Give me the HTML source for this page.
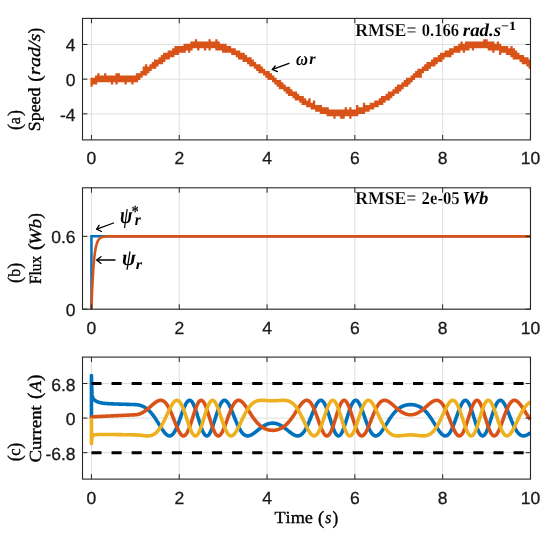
<!DOCTYPE html>
<html><head><meta charset="utf-8"><style>
html,body{margin:0;padding:0;background:#fff;}
svg{display:block;}
.tk{font-family:"Liberation Sans",sans-serif;font-size:17.5px;fill:#1a1a1a;stroke:#1a1a1a;stroke-width:0.3px;}
text{font-kerning:none;text-rendering:geometricPrecision;}
.lb text{stroke:#000;stroke-width:0.35px;}
.th text{stroke:#fff;stroke-width:0.2px;}
.th2 text{stroke:#fff;stroke-width:0.0px;}
</style></head><body>
<svg width="550" height="534" viewBox="0 0 550 534">
<rect width="550" height="534" fill="#fff"/>
<line x1="91.45" y1="18.4" x2="91.45" y2="139.9" stroke="#DFDFDF" stroke-width="1"/>
<line x1="179.25" y1="18.4" x2="179.25" y2="139.9" stroke="#DFDFDF" stroke-width="1"/>
<line x1="267.05" y1="18.4" x2="267.05" y2="139.9" stroke="#DFDFDF" stroke-width="1"/>
<line x1="354.85" y1="18.4" x2="354.85" y2="139.9" stroke="#DFDFDF" stroke-width="1"/>
<line x1="442.65" y1="18.4" x2="442.65" y2="139.9" stroke="#DFDFDF" stroke-width="1"/>
<line x1="530.45" y1="18.4" x2="530.45" y2="139.9" stroke="#DFDFDF" stroke-width="1"/>
<line x1="82.5" y1="113.86" x2="530.5" y2="113.86" stroke="#DFDFDF" stroke-width="1"/>
<line x1="82.5" y1="79.15" x2="530.5" y2="79.15" stroke="#DFDFDF" stroke-width="1"/>
<line x1="82.5" y1="44.44" x2="530.5" y2="44.44" stroke="#DFDFDF" stroke-width="1"/>
<path d="M90.45,77.78H92.72V77.78H94.99V75.51H97.26V73.24H99.53V75.51H101.80V75.51H104.07V73.24H106.34V75.51H108.61V75.51H110.88V75.51H113.15V75.51H115.42V73.24H117.69V73.24H119.96V75.51H122.23V75.51H124.50V75.51H126.77V75.51H129.04V75.51H131.31V75.51H133.58V75.51H135.85V73.24H138.12V73.24H140.39V70.97H142.66V66.43H144.93V64.16H147.20V66.43H149.47V64.16H151.74V61.89H154.01V59.62H156.28V59.62H158.55V57.35H160.82V55.08H163.09V52.81H165.36V52.81H167.63V50.54H169.90V50.54H172.17V48.27H174.44V46.00H176.71V46.00H178.98V46.00H181.25V46.00H183.52V43.73H185.79V43.73H188.06V43.73H190.33V41.46H192.60V41.46H194.87V39.19H197.14V41.46H199.41V41.46H201.68V41.46H203.95V41.46H206.22V41.46H208.49V39.19H210.76V41.46H213.03V41.46H215.30V39.19H217.57V41.46H219.84V43.73H222.11V43.73H224.38V43.73H226.65V46.00H228.92V46.00H231.19V48.27H233.46V48.27H235.73V50.54H238.00V50.54H240.27V52.81H242.54V52.81H244.81V55.08H247.08V57.35H249.35V57.35H251.62V59.62H253.89V61.89H256.16V64.16H258.43V64.16H260.70V66.43H262.97V68.70H265.24V70.97H267.51V70.97H269.78V73.24H272.05V75.51H274.32V77.78H276.59V80.05H278.86V80.05H281.13V82.32H283.40V84.59H285.67V86.86H287.94V86.86H290.21V89.13H292.48V91.40H294.75V91.40H297.02V93.67H299.29V95.94H301.56V95.94H303.83V98.21H306.10V100.48H308.37V98.21H310.64V102.75H312.91V100.48H315.18V105.02H317.45V105.02H319.72V105.02H321.99V107.29H324.26V107.29H326.53V107.29H328.80V109.56H331.07V109.56H333.34V109.56H335.61V109.56H337.88V109.56H340.15V109.56H342.42V109.56H344.69V107.29H346.96V109.56H349.23V107.29H351.50V109.56H353.77V109.56H356.04V105.02H358.31V107.29H360.58V107.29H362.85V102.75H365.12V105.02H367.39V105.02H369.66V102.75H371.93V102.75H374.20V100.48H376.47V100.48H378.74V98.21H381.01V95.94H383.28V95.94H385.55V93.67H387.82V91.40H390.09V91.40H392.36V89.13H394.63V86.86H396.90V84.59H399.17V84.59H401.44V82.32H403.71V80.05H405.98V77.78H408.25V77.78H410.52V75.51H412.79V73.24H415.06V70.97H417.33V68.70H419.60V68.70H421.87V66.43H424.14V64.16H426.41V61.89H428.68V61.89H430.95V59.62H433.22V57.35H435.49V57.35H437.76V55.08H440.03V52.81H442.30V52.81H444.57V50.54H446.84V50.54H449.11V48.27H451.38V48.27H453.65V46.00H455.92V46.00H458.19V43.73H460.46V41.46H462.73V43.73H465.00V41.46H467.27V41.46H469.54V41.46H471.81V41.46H474.08V41.46H476.35V41.46H478.62V41.46H480.89V41.46H483.16V39.19H485.43V39.19H487.70V41.46H489.97V41.46H492.24V41.46H494.51V43.73H496.78V41.46H499.05V43.73H501.32V46.00H503.59V46.00H505.86V46.00H508.13V48.27H510.40V46.00H512.67V48.27H514.94V50.54H517.21V52.81H519.48V55.08H521.75V55.08H524.02V57.35H526.29V57.35H528.56V59.62H530.45V68.70H528.56V66.43H526.29V64.16H524.02V64.16H521.75V61.89H519.48V59.62H517.21V59.62H514.94V59.62H512.67V57.35H510.40V55.08H508.13V55.08H505.86V52.81H503.59V52.81H501.32V55.08H499.05V50.54H496.78V50.54H494.51V52.81H492.24V50.54H489.97V50.54H487.70V48.27H485.43V48.27H483.16V48.27H480.89V48.27H478.62V48.27H476.35V48.27H474.08V50.54H471.81V48.27H469.54V50.54H467.27V50.54H465.00V52.81H462.73V50.54H460.46V52.81H458.19V52.81H455.92V52.81H453.65V55.08H451.38V57.35H449.11V57.35H446.84V57.35H444.57V59.62H442.30V61.89H440.03V61.89H437.76V64.16H435.49V66.43H433.22V66.43H430.95V68.70H428.68V70.97H426.41V70.97H424.14V73.24H421.87V77.78H419.60V77.78H417.33V77.78H415.06V80.05H412.79V82.32H410.52V84.59H408.25V86.86H405.98V86.86H403.71V89.13H401.44V91.40H399.17V93.67H396.90V93.67H394.63V95.94H392.36V98.21H390.09V100.48H387.82V100.48H385.55V102.75H383.28V105.02H381.01V105.02H378.74V107.29H376.47V107.29H374.20V109.56H371.93V109.56H369.66V111.83H367.39V111.83H365.12V114.10H362.85V114.10H360.58V114.10H358.31V116.37H356.04V116.37H353.77V116.37H351.50V118.64H349.23V116.37H346.96V116.37H344.69V118.64H342.42V118.64H340.15V116.37H337.88V116.37H335.61V118.64H333.34V116.37H331.07V116.37H328.80V116.37H326.53V114.10H324.26V114.10H321.99V114.10H319.72V111.83H317.45V111.83H315.18V109.56H312.91V109.56H310.64V107.29H308.37V107.29H306.10V105.02H303.83V105.02H301.56V102.75H299.29V100.48H297.02V100.48H294.75V98.21H292.48V95.94H290.21V95.94H287.94V93.67H285.67V91.40H283.40V89.13H281.13V89.13H278.86V86.86H276.59V84.59H274.32V82.32H272.05V80.05H269.78V80.05H267.51V77.78H265.24V75.51H262.97V73.24H260.70V73.24H258.43V70.97H256.16V68.70H253.89V66.43H251.62V66.43H249.35V64.16H247.08V61.89H244.81V61.89H242.54V59.62H240.27V59.62H238.00V57.35H235.73V55.08H233.46V55.08H231.19V52.81H228.92V52.81H226.65V52.81H224.38V52.81H222.11V50.54H219.84V50.54H217.57V50.54H215.30V48.27H213.03V48.27H210.76V50.54H208.49V48.27H206.22V50.54H203.95V48.27H201.68V48.27H199.41V50.54H197.14V48.27H194.87V48.27H192.60V50.54H190.33V52.81H188.06V50.54H185.79V52.81H183.52V52.81H181.25V52.81H178.98V55.08H176.71V55.08H174.44V57.35H172.17V57.35H169.90V59.62H167.63V59.62H165.36V61.89H163.09V64.16H160.82V64.16H158.55V66.43H156.28V68.70H154.01V68.70H151.74V70.97H149.47V73.24H147.20V75.51H144.93V75.51H142.66V77.78H140.39V80.05H138.12V82.32H135.85V82.32H133.58V84.59H131.31V82.32H129.04V82.32H126.77V84.59H124.50V82.32H122.23V82.32H119.96V82.32H117.69V84.59H115.42V82.32H113.15V84.59H110.88V82.32H108.61V82.32H106.34V82.32H104.07V82.32H101.80V82.32H99.53V82.32H97.26V84.59H94.99V84.59H92.72V86.86H90.45Z" fill="#D95319"/>
<rect x="82.5" y="18.4" width="448.0" height="121.50" fill="none" stroke="#262626" stroke-width="1.1"/>
<line x1="91.45" y1="139.9" x2="91.45" y2="135.0" stroke="#262626" stroke-width="1"/>
<line x1="91.45" y1="18.4" x2="91.45" y2="23.299999999999997" stroke="#262626" stroke-width="1"/>
<line x1="179.25" y1="139.9" x2="179.25" y2="135.0" stroke="#262626" stroke-width="1"/>
<line x1="179.25" y1="18.4" x2="179.25" y2="23.299999999999997" stroke="#262626" stroke-width="1"/>
<line x1="267.05" y1="139.9" x2="267.05" y2="135.0" stroke="#262626" stroke-width="1"/>
<line x1="267.05" y1="18.4" x2="267.05" y2="23.299999999999997" stroke="#262626" stroke-width="1"/>
<line x1="354.85" y1="139.9" x2="354.85" y2="135.0" stroke="#262626" stroke-width="1"/>
<line x1="354.85" y1="18.4" x2="354.85" y2="23.299999999999997" stroke="#262626" stroke-width="1"/>
<line x1="442.65" y1="139.9" x2="442.65" y2="135.0" stroke="#262626" stroke-width="1"/>
<line x1="442.65" y1="18.4" x2="442.65" y2="23.299999999999997" stroke="#262626" stroke-width="1"/>
<line x1="530.45" y1="139.9" x2="530.45" y2="135.0" stroke="#262626" stroke-width="1"/>
<line x1="530.45" y1="18.4" x2="530.45" y2="23.299999999999997" stroke="#262626" stroke-width="1"/>
<line x1="82.5" y1="113.86" x2="87.4" y2="113.86" stroke="#262626" stroke-width="1"/>
<line x1="530.5" y1="113.86" x2="525.6" y2="113.86" stroke="#262626" stroke-width="1"/>
<line x1="82.5" y1="79.15" x2="87.4" y2="79.15" stroke="#262626" stroke-width="1"/>
<line x1="530.5" y1="79.15" x2="525.6" y2="79.15" stroke="#262626" stroke-width="1"/>
<line x1="82.5" y1="44.44" x2="87.4" y2="44.44" stroke="#262626" stroke-width="1"/>
<line x1="530.5" y1="44.44" x2="525.6" y2="44.44" stroke="#262626" stroke-width="1"/>
<text x="91.45" y="164.30" class="tk" text-anchor="middle">0</text>
<text x="179.25" y="164.30" class="tk" text-anchor="middle">2</text>
<text x="267.05" y="164.30" class="tk" text-anchor="middle">4</text>
<text x="354.85" y="164.30" class="tk" text-anchor="middle">6</text>
<text x="442.65" y="164.30" class="tk" text-anchor="middle">8</text>
<text x="530.45" y="164.30" class="tk" text-anchor="middle">10</text>
<text x="75.6" y="120.86" class="tk" text-anchor="end">-4</text>
<text x="75.6" y="86.15" class="tk" text-anchor="end">0</text>
<text x="75.6" y="51.44" class="tk" text-anchor="end">4</text>
<line x1="91.45" y1="187.8" x2="91.45" y2="309.2" stroke="#DFDFDF" stroke-width="1"/>
<line x1="179.25" y1="187.8" x2="179.25" y2="309.2" stroke="#DFDFDF" stroke-width="1"/>
<line x1="267.05" y1="187.8" x2="267.05" y2="309.2" stroke="#DFDFDF" stroke-width="1"/>
<line x1="354.85" y1="187.8" x2="354.85" y2="309.2" stroke="#DFDFDF" stroke-width="1"/>
<line x1="442.65" y1="187.8" x2="442.65" y2="309.2" stroke="#DFDFDF" stroke-width="1"/>
<line x1="530.45" y1="187.8" x2="530.45" y2="309.2" stroke="#DFDFDF" stroke-width="1"/>
<line x1="82.5" y1="309.20" x2="530.5" y2="309.20" stroke="#DFDFDF" stroke-width="1"/>
<line x1="82.5" y1="236.36" x2="530.5" y2="236.36" stroke="#DFDFDF" stroke-width="1"/>
<polyline points="91.45,309.20 91.45,236.36 530.45,236.36" fill="none" stroke="#0072BD" stroke-width="2.5" stroke-linejoin="miter"/>
<polyline points="91.45,309.20 91.58,305.17 91.71,301.37 91.85,297.77 91.98,294.38 92.11,291.17 92.24,288.14 92.38,285.27 92.51,282.57 92.64,280.01 92.77,277.60 92.91,275.32 93.04,273.16 93.17,271.13 93.30,269.21 93.44,267.39 93.57,265.67 93.70,264.05 93.83,262.52 93.96,261.07 94.10,259.71 94.23,258.42 94.36,257.20 94.49,256.04 94.63,254.96 94.76,253.93 94.89,252.96 95.02,252.04 95.16,251.17 95.29,250.35 95.42,249.58 95.55,248.85 95.69,248.16 95.82,247.50 95.95,246.89 96.08,246.31 96.22,245.76 96.35,245.24 96.48,244.75 96.61,244.28 96.74,243.84 96.88,243.43 97.01,243.04 97.14,242.67 97.27,242.32 97.41,241.99 97.54,241.68 97.67,241.39 97.80,241.11 97.94,240.85 98.07,240.60 98.20,240.36 98.33,240.14 98.47,239.93 98.60,239.73 98.73,239.55 98.86,239.37 98.99,239.21 99.13,239.05 99.26,238.90 99.39,238.76 99.52,238.63 99.66,238.50 99.79,238.38 99.92,238.27 100.05,238.16 100.19,238.07 100.32,237.97 100.45,237.88 100.58,237.80 100.72,237.72 100.85,237.64 100.98,237.57 101.11,237.51 101.24,237.44 101.38,237.38 101.51,237.33 101.64,237.27 101.77,237.22 101.91,237.17 102.04,237.13 102.17,237.09 102.30,237.05 102.44,237.01 102.57,236.97 102.70,236.94 102.83,236.91 102.97,236.88 103.10,236.85 103.23,236.82 103.36,236.80 103.49,236.77 103.63,236.75 103.76,236.73 103.89,236.71 104.02,236.69 104.16,236.67 104.29,236.65 104.42,236.64 104.55,236.62 104.69,236.61 104.82,236.59 104.95,236.58 105.08,236.57 105.22,236.56 105.35,236.55 105.48,236.54 105.61,236.53 105.75,236.52 105.88,236.51 106.01,236.50 106.14,236.49 106.27,236.48 106.41,236.48 106.54,236.47 106.67,236.46 106.80,236.46 106.94,236.45 107.07,236.45 107.20,236.44 107.33,236.44 107.47,236.43 107.60,236.43 107.73,236.43 107.86,236.42 108.00,236.42 108.13,236.42 108.26,236.41 108.39,236.41 108.52,236.41 108.66,236.40 108.79,236.40 108.92,236.40 109.05,236.40 109.19,236.40 109.32,236.39 109.45,236.39 109.58,236.39 109.72,236.39 109.85,236.39 109.98,236.39 110.11,236.38 110.25,236.38 110.38,236.38 110.51,236.38 110.64,236.38 110.77,236.38 110.91,236.38 111.04,236.38 111.17,236.38 111.30,236.37 111.44,236.37 111.57,236.37 111.70,236.37 111.83,236.37 111.97,236.37 112.10,236.37 112.23,236.37 112.36,236.37 112.50,236.37 112.63,236.37 112.76,236.37 112.89,236.37 113.02,236.37 113.16,236.37 113.29,236.37 113.42,236.37 113.55,236.37 113.69,236.37 113.82,236.36 113.95,236.36 114.08,236.36 114.22,236.36 114.35,236.36 114.48,236.36 114.61,236.36 114.75,236.36 114.88,236.36 115.01,236.36 115.14,236.36 115.28,236.36 115.41,236.36 115.54,236.36 115.67,236.36 115.80,236.36 115.94,236.36 116.07,236.36 116.20,236.36 116.33,236.36 116.47,236.36 116.60,236.36 116.73,236.36 116.86,236.36 117.00,236.36 117.13,236.36 117.26,236.36 117.39,236.36 117.53,236.36 117.66,236.36 117.79,236.36 117.79,236.36 126.21,236.36 134.63,236.36 143.05,236.36 151.48,236.36 159.90,236.36 168.32,236.36 176.74,236.36 185.16,236.36 193.58,236.36 202.01,236.36 210.43,236.36 218.85,236.36 227.27,236.36 235.69,236.36 244.11,236.36 252.54,236.36 260.96,236.36 269.38,236.36 277.80,236.36 286.22,236.36 294.64,236.36 303.07,236.36 311.49,236.36 319.91,236.36 328.33,236.36 336.75,236.36 345.17,236.36 353.60,236.36 362.02,236.36 370.44,236.36 378.86,236.36 387.28,236.36 395.70,236.36 404.13,236.36 412.55,236.36 420.97,236.36 429.39,236.36 437.81,236.36 446.23,236.36 454.66,236.36 463.08,236.36 471.50,236.36 479.92,236.36 488.34,236.36 496.76,236.36 505.19,236.36 513.61,236.36 522.03,236.36 530.45,236.36" fill="none" stroke="#D95319" stroke-width="2.6"/>
<rect x="82.5" y="187.8" width="448.0" height="121.40" fill="none" stroke="#262626" stroke-width="1.1"/>
<line x1="91.45" y1="309.2" x2="91.45" y2="304.3" stroke="#262626" stroke-width="1"/>
<line x1="91.45" y1="187.8" x2="91.45" y2="192.70000000000002" stroke="#262626" stroke-width="1"/>
<line x1="179.25" y1="309.2" x2="179.25" y2="304.3" stroke="#262626" stroke-width="1"/>
<line x1="179.25" y1="187.8" x2="179.25" y2="192.70000000000002" stroke="#262626" stroke-width="1"/>
<line x1="267.05" y1="309.2" x2="267.05" y2="304.3" stroke="#262626" stroke-width="1"/>
<line x1="267.05" y1="187.8" x2="267.05" y2="192.70000000000002" stroke="#262626" stroke-width="1"/>
<line x1="354.85" y1="309.2" x2="354.85" y2="304.3" stroke="#262626" stroke-width="1"/>
<line x1="354.85" y1="187.8" x2="354.85" y2="192.70000000000002" stroke="#262626" stroke-width="1"/>
<line x1="442.65" y1="309.2" x2="442.65" y2="304.3" stroke="#262626" stroke-width="1"/>
<line x1="442.65" y1="187.8" x2="442.65" y2="192.70000000000002" stroke="#262626" stroke-width="1"/>
<line x1="530.45" y1="309.2" x2="530.45" y2="304.3" stroke="#262626" stroke-width="1"/>
<line x1="530.45" y1="187.8" x2="530.45" y2="192.70000000000002" stroke="#262626" stroke-width="1"/>
<line x1="82.5" y1="309.20" x2="87.4" y2="309.20" stroke="#262626" stroke-width="1"/>
<line x1="530.5" y1="309.20" x2="525.6" y2="309.20" stroke="#262626" stroke-width="1"/>
<line x1="82.5" y1="236.36" x2="87.4" y2="236.36" stroke="#262626" stroke-width="1"/>
<line x1="530.5" y1="236.36" x2="525.6" y2="236.36" stroke="#262626" stroke-width="1"/>
<text x="91.45" y="333.60" class="tk" text-anchor="middle">0</text>
<text x="179.25" y="333.60" class="tk" text-anchor="middle">2</text>
<text x="267.05" y="333.60" class="tk" text-anchor="middle">4</text>
<text x="354.85" y="333.60" class="tk" text-anchor="middle">6</text>
<text x="442.65" y="333.60" class="tk" text-anchor="middle">8</text>
<text x="530.45" y="333.60" class="tk" text-anchor="middle">10</text>
<text x="75.6" y="316.20" class="tk" text-anchor="end">0</text>
<text x="75.6" y="243.36" class="tk" text-anchor="end">0.6</text>
<line x1="91.45" y1="357.1" x2="91.45" y2="479.1" stroke="#DFDFDF" stroke-width="1"/>
<line x1="179.25" y1="357.1" x2="179.25" y2="479.1" stroke="#DFDFDF" stroke-width="1"/>
<line x1="267.05" y1="357.1" x2="267.05" y2="479.1" stroke="#DFDFDF" stroke-width="1"/>
<line x1="354.85" y1="357.1" x2="354.85" y2="479.1" stroke="#DFDFDF" stroke-width="1"/>
<line x1="442.65" y1="357.1" x2="442.65" y2="479.1" stroke="#DFDFDF" stroke-width="1"/>
<line x1="530.45" y1="357.1" x2="530.45" y2="479.1" stroke="#DFDFDF" stroke-width="1"/>
<line x1="82.5" y1="452.67" x2="530.5" y2="452.67" stroke="#DFDFDF" stroke-width="1"/>
<line x1="82.5" y1="418.10" x2="530.5" y2="418.10" stroke="#DFDFDF" stroke-width="1"/>
<line x1="82.5" y1="383.53" x2="530.5" y2="383.53" stroke="#DFDFDF" stroke-width="1"/>
<polyline points="91.45,418.10 91.45,375.46 91.54,380.05 91.63,383.86 91.71,386.86 91.80,389.22 91.89,391.08 92.02,393.18 92.15,394.67 92.33,396.04 92.55,397.14 92.77,397.84 92.99,398.32 93.21,398.69 93.43,398.98 93.54,399.11 93.65,399.24 93.76,399.35 93.87,399.46 93.97,399.57 94.08,399.67 94.19,399.77 94.30,399.86 94.41,399.96 94.52,400.05 94.63,400.13 94.74,400.22 94.85,400.30 94.96,400.38 95.07,400.46 95.18,400.54 95.29,400.61 95.40,400.69 95.51,400.76 95.62,400.83 95.73,400.90 95.84,400.96 95.95,401.03 96.06,401.09 96.17,401.15 96.28,401.21 96.39,401.27 96.50,401.33 96.61,401.39 96.72,401.44 96.83,401.49 96.94,401.55 97.05,401.60 97.16,401.65 97.27,401.70 97.38,401.74 97.49,401.79 97.60,401.84 97.71,401.88 97.82,401.92 97.93,401.97 98.04,402.01 98.15,402.05 98.26,402.09 98.37,402.13 98.48,402.16 98.59,402.20 98.70,402.24 98.81,402.27 98.91,402.31 99.02,402.34 99.13,402.37 99.24,402.41 99.35,402.44 99.46,402.47 99.57,402.50 99.68,402.53 99.79,402.56 99.90,402.58 100.01,402.61 100.12,402.64 100.23,402.67 100.34,402.69 100.45,402.72 100.56,402.74 100.67,402.77 100.78,402.79 100.89,402.81 101.00,402.83 101.11,402.86 101.22,402.88 101.33,402.90 101.44,402.92 101.55,402.94 101.66,402.96 101.77,402.98 101.88,403.00 101.99,403.02 102.10,403.04 102.21,403.05 102.32,403.07 102.43,403.09 102.54,403.11 102.65,403.12 102.76,403.14 102.87,403.15 102.98,403.17 103.09,403.18 103.20,403.20 103.31,403.21 103.42,403.23 103.53,403.24 103.64,403.26 103.75,403.27 103.85,403.28 103.96,403.30 104.07,403.31 104.18,403.32 104.29,403.33 104.40,403.35 104.51,403.36 104.62,403.37 104.73,403.38 104.84,403.39 104.95,403.40 105.06,403.41 105.17,403.42 105.28,403.43 105.39,403.45 105.50,403.46 105.61,403.47 105.72,403.47 105.83,403.48 105.94,403.49 106.05,403.50 106.16,403.51 106.27,403.52 106.38,403.53 106.49,403.54 106.60,403.55 106.71,403.56 106.82,403.56 106.93,403.57 107.04,403.58 107.15,403.59 107.26,403.60 107.37,403.60 107.48,403.61 107.59,403.62 107.70,403.63 107.81,403.63 107.92,403.64 108.03,403.65 108.14,403.65 108.25,403.66 108.36,403.67 108.47,403.67 108.58,403.68 108.69,403.69 108.79,403.69 108.90,403.70 109.01,403.71 109.12,403.71 109.23,403.72 109.34,403.73 109.45,403.73 109.56,403.74 109.67,403.74 109.78,403.75 109.89,403.75 110.00,403.76 110.11,403.77 110.22,403.77 110.33,403.78 110.44,403.78 110.55,403.79 110.66,403.79 110.77,403.80 110.88,403.80 110.99,403.81 111.10,403.81 111.21,403.82 111.32,403.82 111.43,403.83 111.54,403.83 111.65,403.84 111.76,403.84 111.87,403.85 111.98,403.85 112.09,403.86 112.20,403.86 112.31,403.87 112.42,403.87 112.53,403.88 112.64,403.88 112.75,403.88 112.86,403.89 112.97,403.89 113.08,403.90 113.19,403.90 113.30,403.91 113.41,403.91 113.52,403.92 113.63,403.92 113.73,403.92 113.84,403.93 113.95,403.93 114.06,403.94 114.17,403.94 114.28,403.94 114.39,403.95 114.50,403.95 114.61,403.96 114.72,403.96 114.83,403.96 114.94,403.97 115.05,403.97 115.16,403.98 115.27,403.98 115.38,403.98 115.49,403.99 115.60,403.99 115.71,404.00 115.82,404.00 115.93,404.00 116.04,404.01 116.15,404.01 116.26,404.02 116.37,404.02 116.48,404.02 116.59,404.03 116.70,404.03 116.81,404.03 116.92,404.04 117.03,404.04 117.14,404.05 117.25,404.05 117.36,404.05 117.47,404.06 117.58,404.06 117.69,404.06 117.80,404.07 117.91,404.07 118.02,404.07 118.13,404.08 118.24,404.08 118.35,404.09 118.46,404.09 118.57,404.09 118.67,404.10 118.78,404.10 118.89,404.10 119.00,404.11 119.11,404.11 119.22,404.11 119.33,404.12 119.44,404.12 119.55,404.12 119.66,404.13 119.77,404.13 119.88,404.13 119.99,404.14 120.10,404.14 120.21,404.15 120.32,404.15 120.43,404.15 120.54,404.16 120.65,404.16 120.76,404.16 120.87,404.17 120.98,404.17 121.09,404.17 121.20,404.18 121.31,404.18 121.42,404.18 121.53,404.19 121.64,404.19 121.75,404.19 121.86,404.20 121.97,404.20 122.08,404.20 122.19,404.21 122.30,404.21 122.41,404.21 122.52,404.22 122.63,404.22 122.74,404.22 122.85,404.23 122.96,404.23 123.07,404.23 123.18,404.24 123.29,404.24 123.40,404.24 123.51,404.25 123.61,404.25 123.72,404.25 123.83,404.26 123.94,404.26 124.05,404.26 124.16,404.27 124.27,404.27 124.38,404.27 124.49,404.28 124.60,404.28 124.71,404.28 124.82,404.29 124.93,404.29 125.04,404.29 125.15,404.30 125.26,404.30 125.37,404.30 125.48,404.31 125.59,404.31 125.70,404.32 125.81,404.32 125.92,404.32 126.03,404.33 126.14,404.33 126.25,404.33 126.36,404.34 126.47,404.34 126.58,404.34 126.69,404.35 126.80,404.35 126.91,404.35 127.02,404.36 127.13,404.36 127.24,404.36 127.35,404.37 127.46,404.37 127.57,404.37 127.68,404.38 127.79,404.38 127.90,404.38 128.01,404.39 128.12,404.39 128.23,404.39 128.34,404.40 128.44,404.40 128.55,404.40 128.66,404.41 128.77,404.41 128.88,404.41 128.99,404.42 129.10,404.42 129.21,404.42 129.32,404.43 129.43,404.43 129.54,404.43 129.65,404.44 129.76,404.44 129.87,404.44 129.98,404.45 130.09,404.45 130.20,404.45 130.31,404.46 130.42,404.46 130.53,404.46 130.64,404.47 130.75,404.47 130.86,404.47 130.97,404.48 131.08,404.48 131.19,404.48 131.30,404.49 131.41,404.49 131.52,404.49 131.63,404.50 131.74,404.50 131.85,404.50 131.96,404.51 132.07,404.51 132.18,404.51 132.29,404.52 132.40,404.52 132.51,404.52 132.62,404.53 132.73,404.53 132.84,404.53 132.95,404.54 133.06,404.54 133.17,404.54 133.28,404.55 133.38,404.55 133.49,404.55 133.60,404.56 133.71,404.56 133.82,404.56 133.93,404.57 134.04,404.57 134.15,404.57 134.26,404.58 134.37,404.58 134.48,404.58 134.59,404.59 134.70,404.59 134.81,404.59 134.92,404.60 135.03,404.60 135.14,404.60 135.25,404.61 135.36,404.61 135.47,404.62 135.58,404.62 135.69,404.63 135.80,404.63 135.91,404.64 136.02,404.64 136.13,404.65 136.24,404.66 136.35,404.67 136.46,404.68 136.57,404.69 136.68,404.70 136.79,404.71 136.90,404.72 137.01,404.73 137.12,404.74 137.23,404.76 137.34,404.77 137.45,404.79 137.56,404.80 137.67,404.82 137.78,404.83 137.89,404.85 138.00,404.87 138.11,404.89 138.22,404.91 138.32,404.92 138.43,404.95 138.54,404.97 138.65,404.99 138.76,405.01 138.87,405.03 138.98,405.06 139.09,405.08 139.20,405.11 139.31,405.13 139.42,405.16 139.53,405.18 139.64,405.21 139.75,405.24 139.86,405.27 139.97,405.30 140.08,405.33 140.19,405.36 140.30,405.39 140.41,405.42 140.52,405.46 140.63,405.49 140.74,405.53 140.85,405.56 140.96,405.60 141.07,405.63 141.18,405.67 141.29,405.71 141.40,405.75 141.51,405.79 141.62,405.83 141.73,405.87 141.84,405.91 141.95,405.96 142.06,406.00 142.17,406.04 142.28,406.09 142.39,406.14 142.50,406.18 142.61,406.23 142.72,406.28 142.83,406.33 142.94,406.38 143.05,406.43 143.16,406.48 143.26,406.54 143.37,406.59 143.48,406.64 143.59,406.70 143.70,406.75 143.81,406.81 143.92,406.87 144.03,406.93 144.14,406.99 144.25,407.05 144.36,407.11 144.47,407.17 144.58,407.24 144.69,407.30 144.80,407.37 144.91,407.43 145.02,407.50 145.13,407.57 145.24,407.64 145.35,407.71 145.46,407.78 145.57,407.85 145.68,407.92 145.79,408.00 145.90,408.07 146.01,408.15 146.12,408.22 146.23,408.30 146.34,408.38 146.45,408.46 146.56,408.54 146.67,408.62 146.78,408.71 146.89,408.79 147.00,408.88 147.11,408.96 147.22,409.05 147.33,409.14 147.44,409.23 147.55,409.32 147.66,409.41 147.77,409.50 147.88,409.59 147.99,409.69 148.10,409.78 148.20,409.88 148.31,409.98 148.42,410.08 148.53,410.17 148.64,410.28 148.75,410.38 148.86,410.48 148.97,410.58 149.08,410.69 149.19,410.80 149.30,410.90 149.41,411.01 149.52,411.12 149.63,411.23 149.74,411.34 149.85,411.46 149.96,411.57 150.07,411.69 150.18,411.80 150.29,411.92 150.40,412.04 150.51,412.16 150.62,412.28 150.73,412.40 150.84,412.52 150.95,412.65 151.06,412.77 151.17,412.90 151.28,413.03 151.39,413.16 151.50,413.28 151.61,413.42 151.72,413.55 151.83,413.68 151.94,413.81 152.05,413.95 152.16,414.08 152.27,414.22 152.38,414.36 152.49,414.50 152.60,414.64 152.71,414.78 152.82,414.92 152.93,415.07 153.04,415.21 153.14,415.35 153.25,415.50 153.36,415.65 153.47,415.80 153.58,415.95 153.69,416.10 153.80,416.25 153.91,416.40 154.02,416.55 154.13,416.71 154.24,416.86 154.35,417.02 154.46,417.17 154.57,417.33 154.68,417.49 154.79,417.65 154.90,417.81 155.01,417.97 155.12,418.13 155.23,418.30 155.34,418.46 155.45,418.62 155.56,418.79 155.67,418.95 155.78,419.12 155.89,419.29 156.00,419.46 156.11,419.62 156.22,419.79 156.33,419.96 156.44,420.13 156.55,420.30 156.66,420.48 156.77,420.65 156.88,420.82 156.99,421.00 157.10,421.17 157.21,421.34 157.32,421.52 157.43,421.69 157.54,421.87 157.65,422.04 157.76,422.22 157.87,422.40 157.98,422.57 158.08,422.75 158.19,422.93 158.30,423.11 158.41,423.28 158.52,423.46 158.63,423.64 158.74,423.82 158.85,424.00 158.96,424.18 159.07,424.36 159.18,424.53 159.29,424.71 159.40,424.89 159.51,425.07 159.62,425.25 159.73,425.43 159.84,425.60 159.95,425.78 160.06,425.96 160.17,426.14 160.28,426.31 160.39,426.49 160.50,426.67 160.61,426.84 160.72,427.02 160.83,427.19 160.94,427.36 161.05,427.54 161.16,427.71 161.27,427.88 161.38,428.06 161.49,428.23 161.60,428.40 161.71,428.57 161.82,428.73 161.93,428.90 162.04,429.07 162.15,429.23 162.26,429.40 162.37,429.56 162.48,429.73 162.59,429.89 162.70,430.05 162.81,430.21 162.92,430.36 163.02,430.52 163.13,430.68 163.24,430.83 163.35,430.98 163.46,431.13 163.57,431.28 163.68,431.43 163.79,431.58 163.90,431.72 164.01,431.86 164.12,432.00 164.23,432.14 164.34,432.28 164.45,432.42 164.56,432.55 164.67,432.68 164.78,432.81 164.89,432.94 165.00,433.07 165.11,433.19 165.22,433.31 165.33,433.43 165.44,433.55 165.55,433.66 165.66,433.77 165.77,433.88 165.88,433.99 165.99,434.10 166.10,434.20 166.21,434.30 166.32,434.39 166.43,434.49 166.54,434.58 166.65,434.67 166.76,434.76 166.87,434.84 166.98,434.92 167.09,435.00 167.20,435.07 167.31,435.14 167.42,435.21 167.53,435.28 167.64,435.34 167.75,435.40 167.86,435.46 167.96,435.51 168.07,435.56 168.18,435.61 168.29,435.65 168.40,435.69 168.51,435.72 168.62,435.76 168.73,435.79 168.84,435.81 168.95,435.83 169.06,435.85 169.17,435.87 169.28,435.88 169.39,435.89 169.50,435.89 169.61,435.89 169.72,435.89 169.83,435.88 169.94,435.87 170.05,435.85 170.16,435.84 170.27,435.81 170.38,435.79 170.49,435.76 170.60,435.72 170.71,435.68 170.82,435.64 170.93,435.59 171.04,435.54 171.15,435.49 171.26,435.43 171.37,435.37 171.48,435.30 171.59,435.23 171.70,435.16 171.81,435.08 171.92,434.99 172.03,434.91 172.14,434.81 172.25,434.72 172.36,434.62 172.47,434.52 172.58,434.41 172.69,434.30 172.80,434.18 172.90,434.06 173.01,433.94 173.12,433.81 173.23,433.67 173.34,433.54 173.45,433.40 173.56,433.25 173.67,433.10 173.78,432.95 173.89,432.79 174.00,432.63 174.11,432.47 174.22,432.30 174.33,432.13 174.44,431.95 174.55,431.77 174.66,431.58 174.77,431.39 174.88,431.20 174.99,431.01 175.10,430.81 175.21,430.60 175.32,430.40 175.43,430.19 175.54,429.97 175.65,429.75 175.76,429.53 175.87,429.31 175.98,429.08 176.09,428.85 176.20,428.61 176.31,428.37 176.42,428.13 176.53,427.89 176.64,427.64 176.75,427.39 176.86,427.13 176.97,426.88 177.08,426.62 177.19,426.35 177.30,426.09 177.41,425.82 177.52,425.55 177.63,425.27 177.74,425.00 177.84,424.72 177.95,424.44 178.06,424.16 178.17,423.87 178.28,423.58 178.39,423.29 178.50,423.00 178.61,422.71 178.72,422.41 178.83,422.12 178.94,421.82 179.05,421.52 179.16,421.22 179.27,420.91 179.38,420.61 179.49,420.30 179.60,420.00 179.71,419.69 179.82,419.38 179.93,419.07 180.04,418.76 180.15,418.45 180.26,418.14 180.37,417.83 180.48,417.51 180.59,417.20 180.70,416.89 180.81,416.57 180.92,416.26 181.03,415.95 181.14,415.64 181.25,415.32 181.36,415.01 181.47,414.70 181.58,414.39 181.69,414.08 181.80,413.77 181.91,413.46 182.02,413.16 182.13,412.85 182.24,412.55 182.35,412.24 182.46,411.94 182.57,411.64 182.68,411.34 182.78,411.05 182.89,410.75 183.00,410.46 183.11,410.17 183.22,409.88 183.33,409.60 183.44,409.31 183.55,409.03 183.66,408.75 183.77,408.48 183.88,408.21 183.99,407.94 184.10,407.67 184.21,407.41 184.32,407.15 184.43,406.89 184.54,406.64 184.65,406.39 184.76,406.14 184.87,405.90 184.98,405.66 185.09,405.43 185.20,405.20 185.31,404.97 185.42,404.75 185.53,404.54 185.64,404.32 185.75,404.12 185.86,403.91 185.97,403.71 186.08,403.52 186.19,403.33 186.30,403.15 186.41,402.97 186.52,402.80 186.63,402.63 186.74,402.47 186.85,402.31 186.96,402.16 187.07,402.01 187.18,401.87 187.29,401.73 187.40,401.60 187.51,401.48 187.62,401.36 187.72,401.25 187.83,401.15 187.94,401.05 188.05,400.95 188.16,400.86 188.27,400.78 188.38,400.71 188.49,400.64 188.60,400.58 188.71,400.52 188.82,400.47 188.93,400.43 189.04,400.39 189.15,400.36 189.26,400.34 189.37,400.32 189.48,400.31 189.59,400.31 189.70,400.31 189.81,400.32 189.92,400.34 190.03,400.36 190.14,400.39 190.25,400.43 190.36,400.47 190.47,400.52 190.58,400.58 190.69,400.64 190.80,400.71 190.91,400.78 191.02,400.87 191.13,400.96 191.24,401.05 191.35,401.16 191.46,401.27 191.57,401.38 191.68,401.50 191.79,401.63 191.90,401.77 192.01,401.91 192.12,402.06 192.23,402.21 192.34,402.37 192.45,402.54 192.56,402.71 192.66,402.89 192.77,403.08 192.88,403.27 192.99,403.47 193.10,403.67 193.21,403.88 193.32,404.09 193.43,404.31 193.54,404.54 193.65,404.77 193.76,405.00 193.87,405.24 193.98,405.49 194.09,405.74 194.20,406.00 194.31,406.26 194.42,406.53 194.53,406.80 194.64,407.08 194.75,407.36 194.86,407.64 194.97,407.93 195.08,408.22 195.19,408.52 195.30,408.82 195.41,409.13 195.52,409.44 195.63,409.75 195.74,410.07 195.85,410.39 195.96,410.71 196.07,411.03 196.18,411.36 196.29,411.70 196.40,412.03 196.51,412.37 196.62,412.71 196.73,413.05 196.84,413.39 196.95,413.74 197.06,414.09 197.17,414.44 197.28,414.79 197.39,415.14 197.50,415.49 197.60,415.85 197.71,416.21 197.82,416.56 197.93,416.92 198.04,417.28 198.15,417.64 198.26,418.00 198.37,418.36 198.48,418.72 198.59,419.08 198.70,419.43 198.81,419.79 198.92,420.15 199.03,420.51 199.14,420.87 199.25,421.22 199.36,421.57 199.47,421.93 199.58,422.28 199.69,422.63 199.80,422.98 199.91,423.32 200.02,423.67 200.13,424.01 200.24,424.35 200.35,424.68 200.46,425.02 200.57,425.35 200.68,425.68 200.79,426.00 200.90,426.33 201.01,426.64 201.12,426.96 201.23,427.27 201.34,427.58 201.45,427.88 201.56,428.18 201.67,428.48 201.78,428.77 201.89,429.06 202.00,429.34 202.11,429.62 202.22,429.89 202.33,430.16 202.43,430.43 202.54,430.68 202.65,430.94 202.76,431.18 202.87,431.43 202.98,431.66 203.09,431.90 203.20,432.12 203.31,432.34 203.42,432.56 203.53,432.76 203.64,432.97 203.75,433.16 203.86,433.35 203.97,433.54 204.08,433.71 204.19,433.88 204.30,434.05 204.41,434.20 204.52,434.35 204.63,434.50 204.74,434.64 204.85,434.77 204.96,434.89 205.07,435.01 205.18,435.11 205.29,435.22 205.40,435.31 205.51,435.40 205.62,435.48 205.73,435.55 205.84,435.62 205.95,435.68 206.06,435.73 206.17,435.78 206.28,435.81 206.39,435.84 206.50,435.87 206.61,435.88 206.72,435.89 206.83,435.89 206.94,435.88 207.05,435.87 207.16,435.85 207.27,435.82 207.37,435.78 207.48,435.74 207.59,435.69 207.70,435.63 207.81,435.57 207.92,435.50 208.03,435.42 208.14,435.33 208.25,435.24 208.36,435.14 208.47,435.03 208.58,434.92 208.69,434.80 208.80,434.67 208.91,434.53 209.02,434.39 209.13,434.24 209.24,434.09 209.35,433.93 209.46,433.76 209.57,433.59 209.68,433.41 209.79,433.22 209.90,433.03 210.01,432.83 210.12,432.63 210.23,432.42 210.34,432.21 210.45,431.98 210.56,431.76 210.67,431.53 210.78,431.29 210.89,431.05 211.00,430.80 211.11,430.55 211.22,430.29 211.33,430.03 211.44,429.76 211.55,429.49 211.66,429.21 211.77,428.93 211.88,428.65 211.99,428.36 212.10,428.06 212.21,427.77 212.31,427.47 212.42,427.16 212.53,426.86 212.64,426.55 212.75,426.23 212.86,425.92 212.97,425.60 213.08,425.27 213.19,424.95 213.30,424.62 213.41,424.29 213.52,423.96 213.63,423.62 213.74,423.29 213.85,422.95 213.96,422.61 214.07,422.27 214.18,421.92 214.29,421.58 214.40,421.23 214.51,420.89 214.62,420.54 214.73,420.19 214.84,419.84 214.95,419.50 215.06,419.15 215.17,418.80 215.28,418.45 215.39,418.10 215.50,417.75 215.61,417.40 215.72,417.05 215.83,416.70 215.94,416.36 216.05,416.01 216.16,415.67 216.27,415.32 216.38,414.98 216.49,414.64 216.60,414.30 216.71,413.96 216.82,413.63 216.93,413.29 217.04,412.96 217.15,412.63 217.25,412.30 217.36,411.98 217.47,411.65 217.58,411.34 217.69,411.02 217.80,410.70 217.91,410.39 218.02,410.09 218.13,409.78 218.24,409.48 218.35,409.18 218.46,408.89 218.57,408.60 218.68,408.31 218.79,408.03 218.90,407.75 219.01,407.47 219.12,407.20 219.23,406.94 219.34,406.67 219.45,406.42 219.56,406.16 219.67,405.91 219.78,405.67 219.89,405.43 220.00,405.19 220.11,404.96 220.22,404.74 220.33,404.52 220.44,404.31 220.55,404.10 220.66,403.89 220.77,403.69 220.88,403.50 220.99,403.31 221.10,403.13 221.21,402.95 221.32,402.78 221.43,402.61 221.54,402.45 221.65,402.29 221.76,402.14 221.87,402.00 221.98,401.86 222.09,401.73 222.19,401.60 222.30,401.48 222.41,401.37 222.52,401.26 222.63,401.15 222.74,401.06 222.85,400.97 222.96,400.88 223.07,400.80 223.18,400.73 223.29,400.66 223.40,400.60 223.51,400.54 223.62,400.49 223.73,400.45 223.84,400.41 223.95,400.38 224.06,400.35 224.17,400.33 224.28,400.32 224.39,400.31 224.50,400.31 224.61,400.31 224.72,400.32 224.83,400.34 224.94,400.36 225.05,400.38 225.16,400.42 225.27,400.45 225.38,400.50 225.49,400.55 225.60,400.60 225.71,400.66 225.82,400.73 225.93,400.80 226.04,400.87 226.15,400.96 226.26,401.04 226.37,401.13 226.48,401.23 226.59,401.33 226.70,401.44 226.81,401.55 226.92,401.67 227.03,401.79 227.13,401.92 227.24,402.05 227.35,402.19 227.46,402.33 227.57,402.48 227.68,402.63 227.79,402.78 227.90,402.94 228.01,403.11 228.12,403.27 228.23,403.45 228.34,403.62 228.45,403.80 228.56,403.99 228.67,404.18 228.78,404.37 228.89,404.56 229.00,404.76 229.11,404.96 229.22,405.17 229.33,405.38 229.44,405.59 229.55,405.81 229.66,406.03 229.77,406.25 229.88,406.48 229.99,406.70 230.10,406.94 230.21,407.17 230.32,407.41 230.43,407.64 230.54,407.89 230.65,408.13 230.76,408.38 230.87,408.63 230.98,408.88 231.09,409.13 231.20,409.38 231.31,409.64 231.42,409.90 231.53,410.16 231.64,410.42 231.75,410.68 231.86,410.95 231.97,411.22 232.07,411.48 232.18,411.75 232.29,412.02 232.40,412.29 232.51,412.57 232.62,412.84 232.73,413.11 232.84,413.39 232.95,413.66 233.06,413.94 233.17,414.21 233.28,414.49 233.39,414.77 233.50,415.05 233.61,415.32 233.72,415.60 233.83,415.88 233.94,416.16 234.05,416.44 234.16,416.71 234.27,416.99 234.38,417.27 234.49,417.54 234.60,417.82 234.71,418.10 234.82,418.37 234.93,418.65 235.04,418.92 235.15,419.19 235.26,419.46 235.37,419.74 235.48,420.01 235.59,420.27 235.70,420.54 235.81,420.81 235.92,421.08 236.03,421.34 236.14,421.60 236.25,421.86 236.36,422.12 236.47,422.38 236.58,422.64 236.69,422.90 236.80,423.15 236.91,423.40 237.01,423.65 237.12,423.90 237.23,424.15 237.34,424.39 237.45,424.64 237.56,424.88 237.67,425.12 237.78,425.35 237.89,425.59 238.00,425.82 238.11,426.05 238.22,426.28 238.33,426.51 238.44,426.73 238.55,426.95 238.66,427.17 238.77,427.39 238.88,427.60 238.99,427.81 239.10,428.02 239.21,428.23 239.32,428.43 239.43,428.63 239.54,428.83 239.65,429.03 239.76,429.22 239.87,429.41 239.98,429.60 240.09,429.79 240.20,429.97 240.31,430.15 240.42,430.33 240.53,430.50 240.64,430.68 240.75,430.85 240.86,431.01 240.97,431.18 241.08,431.34 241.19,431.49 241.30,431.65 241.41,431.80 241.52,431.95 241.63,432.10 241.74,432.24 241.85,432.38 241.95,432.52 242.06,432.65 242.17,432.79 242.28,432.92 242.39,433.04 242.50,433.17 242.61,433.29 242.72,433.40 242.83,433.52 242.94,433.63 243.05,433.74 243.16,433.85 243.27,433.95 243.38,434.05 243.49,434.15 243.60,434.24 243.71,434.34 243.82,434.43 243.93,434.51 244.04,434.60 244.15,434.68 244.26,434.75 244.37,434.83 244.48,434.90 244.59,434.97 244.70,435.04 244.81,435.10 244.92,435.17 245.03,435.22 245.14,435.28 245.25,435.34 245.36,435.39 245.47,435.43 245.58,435.48 245.69,435.52 245.80,435.57 245.91,435.60 246.02,435.64 246.13,435.67 246.24,435.70 246.35,435.73 246.46,435.76 246.57,435.78 246.68,435.80 246.79,435.82 246.89,435.84 247.00,435.85 247.11,435.87 247.22,435.87 247.33,435.88 247.44,435.89 247.55,435.89 247.66,435.89 247.77,435.89 247.88,435.89 247.99,435.88 248.10,435.87 248.21,435.86 248.32,435.85 248.43,435.84 248.54,435.82 248.65,435.81 248.76,435.79 248.87,435.77 248.98,435.74 249.09,435.72 249.20,435.69 249.31,435.66 249.42,435.63 249.53,435.60 249.64,435.57 249.75,435.53 249.86,435.50 249.97,435.46 250.08,435.42 250.19,435.38 250.30,435.33 250.41,435.29 250.52,435.24 250.63,435.19 250.74,435.14 250.85,435.09 250.96,435.04 251.07,434.99 251.18,434.94 251.29,434.88 251.40,434.82 251.51,434.76 251.62,434.71 251.73,434.64 251.83,434.58 251.94,434.52 252.05,434.46 252.16,434.39 252.27,434.33 252.38,434.26 252.49,434.19 252.60,434.12 252.71,434.05 252.82,433.98 252.93,433.91 253.04,433.84 253.15,433.76 253.26,433.69 253.37,433.61 253.48,433.54 253.59,433.46 253.70,433.39 253.81,433.31 253.92,433.23 254.03,433.15 254.14,433.07 254.25,432.99 254.36,432.91 254.47,432.83 254.58,432.75 254.69,432.66 254.80,432.58 254.91,432.50 255.02,432.41 255.13,432.33 255.24,432.24 255.35,432.16 255.46,432.07 255.57,431.99 255.68,431.90 255.79,431.82 255.90,431.73 256.01,431.64 256.12,431.55 256.23,431.47 256.34,431.38 256.45,431.29 256.56,431.21 256.67,431.12 256.77,431.03 256.88,430.94 256.99,430.85 257.10,430.77 257.21,430.68 257.32,430.59 257.43,430.50 257.54,430.41 257.65,430.32 257.76,430.24 257.87,430.15 257.98,430.06 258.09,429.97 258.20,429.88 258.31,429.80 258.42,429.71 258.53,429.62 258.64,429.54 258.75,429.45 258.86,429.36 258.97,429.28 259.08,429.19 259.19,429.10 259.30,429.02 259.41,428.93 259.52,428.85 259.63,428.76 259.74,428.68 259.85,428.59 259.96,428.51 260.07,428.43 260.18,428.34 260.29,428.26 260.40,428.18 260.51,428.10 260.62,428.01 260.73,427.93 260.84,427.85 260.95,427.77 261.06,427.69 261.17,427.61 261.28,427.53 261.39,427.46 261.50,427.38 261.61,427.30 261.71,427.22 261.82,427.15 261.93,427.07 262.04,427.00 262.15,426.92 262.26,426.85 262.37,426.77 262.48,426.70 262.59,426.63 262.70,426.56 262.81,426.49 262.92,426.42 263.03,426.35 263.14,426.28 263.25,426.21 263.36,426.14 263.47,426.07 263.58,426.00 263.69,425.94 263.80,425.87 263.91,425.81 264.02,425.74 264.13,425.68 264.24,425.62 264.35,425.56 264.46,425.49 264.57,425.43 264.68,425.37 264.79,425.31 264.90,425.26 265.01,425.20 265.12,425.14 265.23,425.09 265.34,425.03 265.45,424.97 265.56,424.92 265.67,424.87 265.78,424.81 265.89,424.76 266.00,424.71 266.11,424.66 266.22,424.61 266.33,424.56 266.44,424.52 266.55,424.47 266.65,424.42 266.76,424.38 266.87,424.33 266.98,424.29 267.09,424.24 267.20,424.20 267.31,424.16 267.42,424.12 267.53,424.08 267.64,424.04 267.75,424.00 267.86,423.96 267.97,423.93 268.08,423.89 268.19,423.86 268.30,423.82 268.41,423.79 268.52,423.76 268.63,423.72 268.74,423.69 268.85,423.66 268.96,423.63 269.07,423.61 269.18,423.58 269.29,423.55 269.40,423.53 269.51,423.50 269.62,423.48 269.73,423.45 269.84,423.43 269.95,423.41 270.06,423.39 270.17,423.37 270.28,423.35 270.39,423.33 270.50,423.31 270.61,423.30 270.72,423.28 270.83,423.27 270.94,423.25 271.05,423.24 271.16,423.23 271.27,423.22 271.38,423.21 271.49,423.20 271.59,423.19 271.70,423.18 271.81,423.17 271.92,423.17 272.03,423.16 272.14,423.16 272.25,423.15 272.36,423.15 272.47,423.15 272.58,423.15 272.69,423.15 272.80,423.15 272.91,423.15 273.02,423.15 273.13,423.16 273.24,423.16 273.35,423.17 273.46,423.17 273.57,423.18 273.68,423.19 273.79,423.20 273.90,423.21 274.01,423.22 274.12,423.23 274.23,423.24 274.34,423.25 274.45,423.27 274.56,423.28 274.67,423.30 274.78,423.31 274.89,423.33 275.00,423.35 275.11,423.37 275.22,423.39 275.33,423.41 275.44,423.43 275.55,423.45 275.66,423.48 275.77,423.50 275.88,423.52 275.99,423.55 276.10,423.58 276.21,423.61 276.32,423.63 276.42,423.66 276.53,423.69 276.64,423.72 276.75,423.76 276.86,423.79 276.97,423.82 277.08,423.86 277.19,423.89 277.30,423.93 277.41,423.96 277.52,424.00 277.63,424.04 277.74,424.08 277.85,424.12 277.96,424.16 278.07,424.20 278.18,424.24 278.29,424.29 278.40,424.33 278.51,424.37 278.62,424.42 278.73,424.47 278.84,424.51 278.95,424.56 279.06,424.61 279.17,424.66 279.28,424.71 279.39,424.76 279.50,424.81 279.61,424.87 279.72,424.92 279.83,424.97 279.94,425.03 280.05,425.08 280.16,425.14 280.27,425.20 280.38,425.25 280.49,425.31 280.60,425.37 280.71,425.43 280.82,425.49 280.93,425.55 281.04,425.62 281.15,425.68 281.26,425.74 281.36,425.81 281.47,425.87 281.58,425.94 281.69,426.00 281.80,426.07 281.91,426.14 282.02,426.21 282.13,426.27 282.24,426.34 282.35,426.41 282.46,426.48 282.57,426.56 282.68,426.63 282.79,426.70 282.90,426.77 283.01,426.85 283.12,426.92 283.23,426.99 283.34,427.07 283.45,427.15 283.56,427.22 283.67,427.30 283.78,427.38 283.89,427.45 284.00,427.53 284.11,427.61 284.22,427.69 284.33,427.77 284.44,427.85 284.55,427.93 284.66,428.01 284.77,428.09 284.88,428.18 284.99,428.26 285.10,428.34 285.21,428.42 285.32,428.51 285.43,428.59 285.54,428.68 285.65,428.76 285.76,428.85 285.87,428.93 285.98,429.02 286.09,429.10 286.20,429.19 286.30,429.27 286.41,429.36 286.52,429.45 286.63,429.53 286.74,429.62 286.85,429.71 286.96,429.80 287.07,429.88 287.18,429.97 287.29,430.06 287.40,430.15 287.51,430.23 287.62,430.32 287.73,430.41 287.84,430.50 287.95,430.59 288.06,430.67 288.17,430.76 288.28,430.85 288.39,430.94 288.50,431.03 288.61,431.12 288.72,431.20 288.83,431.29 288.94,431.38 289.05,431.47 289.16,431.55 289.27,431.64 289.38,431.73 289.49,431.81 289.60,431.90 289.71,431.99 289.82,432.07 289.93,432.16 290.04,432.24 290.15,432.33 290.26,432.41 290.37,432.49 290.48,432.58 290.59,432.66 290.70,432.74 290.81,432.83 290.92,432.91 291.03,432.99 291.14,433.07 291.24,433.15 291.35,433.23 291.46,433.31 291.57,433.38 291.68,433.46 291.79,433.54 291.90,433.61 292.01,433.69 292.12,433.76 292.23,433.84 292.34,433.91 292.45,433.98 292.56,434.05 292.67,434.12 292.78,434.19 292.89,434.26 293.00,434.32 293.11,434.39 293.22,434.45 293.33,434.52 293.44,434.58 293.55,434.64 293.66,434.70 293.77,434.76 293.88,434.82 293.99,434.88 294.10,434.93 294.21,434.99 294.32,435.04 294.43,435.09 294.54,435.14 294.65,435.19 294.76,435.24 294.87,435.29 294.98,435.33 295.09,435.37 295.20,435.42 295.31,435.46 295.42,435.49 295.53,435.53 295.64,435.57 295.75,435.60 295.86,435.63 295.97,435.66 296.08,435.69 296.18,435.72 296.29,435.74 296.40,435.77 296.51,435.79 296.62,435.81 296.73,435.82 296.84,435.84 296.95,435.85 297.06,435.86 297.17,435.87 297.28,435.88 297.39,435.89 297.50,435.89 297.61,435.89 297.72,435.89 297.83,435.89 297.94,435.88 298.05,435.88 298.16,435.87 298.27,435.85 298.38,435.84 298.49,435.82 298.60,435.80 298.71,435.78 298.82,435.76 298.93,435.73 299.04,435.70 299.15,435.67 299.26,435.64 299.37,435.60 299.48,435.57 299.59,435.53 299.70,435.48 299.81,435.44 299.92,435.39 300.03,435.34 300.14,435.28 300.25,435.23 300.36,435.17 300.47,435.11 300.58,435.04 300.69,434.97 300.80,434.90 300.91,434.83 301.02,434.76 301.12,434.68 301.23,434.60 301.34,434.51 301.45,434.43 301.56,434.34 301.67,434.25 301.78,434.15 301.89,434.05 302.00,433.95 302.11,433.85 302.22,433.74 302.33,433.63 302.44,433.52 302.55,433.41 302.66,433.29 302.77,433.17 302.88,433.05 302.99,432.92 303.10,432.79 303.21,432.66 303.32,432.52 303.43,432.39 303.54,432.24 303.65,432.10 303.76,431.95 303.87,431.81 303.98,431.65 304.09,431.50 304.20,431.34 304.31,431.18 304.42,431.02 304.53,430.85 304.64,430.68 304.75,430.51 304.86,430.33 304.97,430.16 305.08,429.98 305.19,429.79 305.30,429.61 305.41,429.42 305.52,429.23 305.63,429.03 305.74,428.84 305.85,428.64 305.96,428.44 306.06,428.23 306.17,428.03 306.28,427.82 306.39,427.61 306.50,427.39 306.61,427.17 306.72,426.96 306.83,426.73 306.94,426.51 307.05,426.28 307.16,426.06 307.27,425.83 307.38,425.59 307.49,425.36 307.60,425.12 307.71,424.88 307.82,424.64 307.93,424.40 308.04,424.15 308.15,423.91 308.26,423.66 308.37,423.41 308.48,423.16 308.59,422.90 308.70,422.65 308.81,422.39 308.92,422.13 309.03,421.87 309.14,421.61 309.25,421.35 309.36,421.08 309.47,420.82 309.58,420.55 309.69,420.28 309.80,420.01 309.91,419.74 310.02,419.47 310.13,419.20 310.24,418.93 310.35,418.65 310.46,418.38 310.57,418.10 310.68,417.83 310.79,417.55 310.90,417.27 311.00,417.00 311.11,416.72 311.22,416.44 311.33,416.16 311.44,415.89 311.55,415.61 311.66,415.33 311.77,415.05 311.88,414.78 311.99,414.50 312.10,414.22 312.21,413.94 312.32,413.67 312.43,413.39 312.54,413.12 312.65,412.84 312.76,412.57 312.87,412.30 312.98,412.03 313.09,411.76 313.20,411.49 313.31,411.22 313.42,410.96 313.53,410.69 313.64,410.43 313.75,410.17 313.86,409.90 313.97,409.65 314.08,409.39 314.19,409.13 314.30,408.88 314.41,408.63 314.52,408.38 314.63,408.14 314.74,407.89 314.85,407.65 314.96,407.41 315.07,407.18 315.18,406.94 315.29,406.71 315.40,406.48 315.51,406.26 315.62,406.03 315.73,405.81 315.84,405.60 315.94,405.39 316.05,405.18 316.16,404.97 316.27,404.77 316.38,404.57 316.49,404.37 316.60,404.18 316.71,403.99 316.82,403.81 316.93,403.63 317.04,403.45 317.15,403.28 317.26,403.11 317.37,402.95 317.48,402.79 317.59,402.63 317.70,402.48 317.81,402.34 317.92,402.19 318.03,402.06 318.14,401.93 318.25,401.80 318.36,401.68 318.47,401.56 318.58,401.44 318.69,401.34 318.80,401.23 318.91,401.14 319.02,401.04 319.13,400.96 319.24,400.88 319.35,400.80 319.46,400.73 319.57,400.66 319.68,400.60 319.79,400.55 319.90,400.50 320.01,400.45 320.12,400.42 320.23,400.38 320.34,400.36 320.45,400.34 320.56,400.32 320.67,400.31 320.78,400.31 320.88,400.31 320.99,400.32 321.10,400.33 321.21,400.35 321.32,400.38 321.43,400.41 321.54,400.45 321.65,400.49 321.76,400.54 321.87,400.60 321.98,400.66 322.09,400.73 322.20,400.80 322.31,400.88 322.42,400.96 322.53,401.05 322.64,401.15 322.75,401.26 322.86,401.36 322.97,401.48 323.08,401.60 323.19,401.73 323.30,401.86 323.41,402.00 323.52,402.14 323.63,402.29 323.74,402.44 323.85,402.61 323.96,402.77 324.07,402.94 324.18,403.12 324.29,403.30 324.40,403.49 324.51,403.69 324.62,403.89 324.73,404.09 324.84,404.30 324.95,404.51 325.06,404.73 325.17,404.96 325.28,405.19 325.39,405.42 325.50,405.66 325.61,405.91 325.72,406.16 325.82,406.41 325.93,406.67 326.04,406.93 326.15,407.20 326.26,407.47 326.37,407.74 326.48,408.02 326.59,408.30 326.70,408.59 326.81,408.88 326.92,409.17 327.03,409.47 327.14,409.77 327.25,410.08 327.36,410.39 327.47,410.70 327.58,411.01 327.69,411.33 327.80,411.65 327.91,411.97 328.02,412.29 328.13,412.62 328.24,412.95 328.35,413.28 328.46,413.62 328.57,413.95 328.68,414.29 328.79,414.63 328.90,414.97 329.01,415.31 329.12,415.66 329.23,416.00 329.34,416.35 329.45,416.70 329.56,417.04 329.67,417.39 329.78,417.74 329.89,418.09 330.00,418.44 330.11,418.79 330.22,419.14 330.33,419.49 330.44,419.84 330.55,420.18 330.66,420.53 330.76,420.88 330.87,421.23 330.98,421.57 331.09,421.92 331.20,422.26 331.31,422.60 331.42,422.94 331.53,423.28 331.64,423.62 331.75,423.95 331.86,424.28 331.97,424.61 332.08,424.94 332.19,425.27 332.30,425.59 332.41,425.91 332.52,426.23 332.63,426.54 332.74,426.85 332.85,427.16 332.96,427.46 333.07,427.76 333.18,428.06 333.29,428.35 333.40,428.64 333.51,428.92 333.62,429.20 333.73,429.48 333.84,429.75 333.95,430.02 334.06,430.28 334.17,430.54 334.28,430.79 334.39,431.04 334.50,431.28 334.61,431.52 334.72,431.75 334.83,431.98 334.94,432.20 335.05,432.42 335.16,432.63 335.27,432.83 335.38,433.03 335.49,433.22 335.60,433.41 335.70,433.59 335.81,433.76 335.92,433.93 336.03,434.09 336.14,434.24 336.25,434.39 336.36,434.53 336.47,434.67 336.58,434.79 336.69,434.91 336.80,435.03 336.91,435.14 337.02,435.24 337.13,435.33 337.24,435.42 337.35,435.49 337.46,435.57 337.57,435.63 337.68,435.69 337.79,435.74 337.90,435.78 338.01,435.82 338.12,435.85 338.23,435.87 338.34,435.88 338.45,435.89 338.56,435.89 338.67,435.88 338.78,435.87 338.89,435.84 339.00,435.82 339.11,435.78 339.22,435.73 339.33,435.68 339.44,435.62 339.55,435.56 339.66,435.48 339.77,435.40 339.88,435.31 339.99,435.22 340.10,435.12 340.21,435.01 340.32,434.89 340.43,434.77 340.54,434.64 340.64,434.50 340.75,434.36 340.86,434.21 340.97,434.05 341.08,433.89 341.19,433.72 341.30,433.54 341.41,433.36 341.52,433.17 341.63,432.97 341.74,432.77 341.85,432.56 341.96,432.35 342.07,432.13 342.18,431.90 342.29,431.67 342.40,431.43 342.51,431.19 342.62,430.94 342.73,430.69 342.84,430.43 342.95,430.17 343.06,429.90 343.17,429.63 343.28,429.35 343.39,429.07 343.50,428.78 343.61,428.49 343.72,428.19 343.83,427.89 343.94,427.59 344.05,427.28 344.16,426.97 344.27,426.65 344.38,426.33 344.49,426.01 344.60,425.69 344.71,425.36 344.82,425.03 344.93,424.69 345.04,424.36 345.15,424.02 345.26,423.67 345.37,423.33 345.48,422.98 345.58,422.64 345.69,422.29 345.80,421.94 345.91,421.58 346.02,421.23 346.13,420.87 346.24,420.52 346.35,420.16 346.46,419.80 346.57,419.44 346.68,419.08 346.79,418.73 346.90,418.37 347.01,418.01 347.12,417.65 347.23,417.29 347.34,416.93 347.45,416.57 347.56,416.21 347.67,415.86 347.78,415.50 347.89,415.15 348.00,414.80 348.11,414.44 348.22,414.09 348.33,413.75 348.44,413.40 348.55,413.06 348.66,412.71 348.77,412.37 348.88,412.04 348.99,411.70 349.10,411.37 349.21,411.04 349.32,410.72 349.43,410.39 349.54,410.07 349.65,409.76 349.76,409.44 349.87,409.14 349.98,408.83 350.09,408.53 350.20,408.23 350.31,407.94 350.41,407.65 350.52,407.36 350.63,407.08 350.74,406.81 350.85,406.54 350.96,406.27 351.07,406.01 351.18,405.75 351.29,405.50 351.40,405.25 351.51,405.01 351.62,404.77 351.73,404.54 351.84,404.32 351.95,404.10 352.06,403.88 352.17,403.67 352.28,403.47 352.39,403.27 352.50,403.08 352.61,402.90 352.72,402.72 352.83,402.54 352.94,402.38 353.05,402.22 353.16,402.06 353.27,401.91 353.38,401.77 353.49,401.64 353.60,401.51 353.71,401.38 353.82,401.27 353.93,401.16 354.04,401.06 354.15,400.96 354.26,400.87 354.37,400.79 354.48,400.71 354.59,400.64 354.70,400.58 354.81,400.52 354.92,400.47 355.03,400.43 355.14,400.39 355.25,400.36 355.35,400.34 355.46,400.32 355.57,400.31 355.68,400.31 355.79,400.31 355.90,400.32 356.01,400.34 356.12,400.36 356.23,400.39 356.34,400.43 356.45,400.47 356.56,400.52 356.67,400.58 356.78,400.64 356.89,400.71 357.00,400.78 357.11,400.86 357.22,400.95 357.33,401.04 357.44,401.14 357.55,401.25 357.66,401.36 357.77,401.48 357.88,401.60 357.99,401.73 358.10,401.87 358.21,402.01 358.32,402.15 358.43,402.30 358.54,402.46 358.65,402.62 358.76,402.79 358.87,402.97 358.98,403.14 359.09,403.33 359.20,403.52 359.31,403.71 359.42,403.91 359.53,404.11 359.64,404.32 359.75,404.53 359.86,404.75 359.97,404.97 360.08,405.19 360.19,405.42 360.29,405.66 360.40,405.90 360.51,406.14 360.62,406.38 360.73,406.63 360.84,406.88 360.95,407.14 361.06,407.40 361.17,407.66 361.28,407.93 361.39,408.20 361.50,408.47 361.61,408.75 361.72,409.02 361.83,409.31 361.94,409.59 362.05,409.87 362.16,410.16 362.27,410.45 362.38,410.74 362.49,411.04 362.60,411.34 362.71,411.63 362.82,411.93 362.93,412.24 363.04,412.54 363.15,412.84 363.26,413.15 363.37,413.46 363.48,413.76 363.59,414.07 363.70,414.38 363.81,414.69 363.92,415.00 364.03,415.32 364.14,415.63 364.25,415.94 364.36,416.25 364.47,416.57 364.58,416.88 364.69,417.19 364.80,417.51 364.91,417.82 365.02,418.13 365.13,418.44 365.23,418.75 365.34,419.06 365.45,419.37 365.56,419.68 365.67,419.99 365.78,420.30 365.89,420.60 366.00,420.91 366.11,421.21 366.22,421.51 366.33,421.81 366.44,422.11 366.55,422.41 366.66,422.70 366.77,423.00 366.88,423.29 366.99,423.58 367.10,423.86 367.21,424.15 367.32,424.43 367.43,424.71 367.54,424.99 367.65,425.27 367.76,425.54 367.87,425.81 367.98,426.08 368.09,426.35 368.20,426.61 368.31,426.87 368.42,427.13 368.53,427.38 368.64,427.63 368.75,427.88 368.86,428.12 368.97,428.37 369.08,428.61 369.19,428.84 369.30,429.07 369.41,429.30 369.52,429.53 369.63,429.75 369.74,429.97 369.85,430.18 369.96,430.39 370.07,430.60 370.17,430.80 370.28,431.00 370.39,431.20 370.50,431.39 370.61,431.58 370.72,431.76 370.83,431.94 370.94,432.12 371.05,432.29 371.16,432.46 371.27,432.63 371.38,432.79 371.49,432.95 371.60,433.10 371.71,433.25 371.82,433.39 371.93,433.53 372.04,433.67 372.15,433.80 372.26,433.93 372.37,434.06 372.48,434.18 372.59,434.29 372.70,434.41 372.81,434.51 372.92,434.62 373.03,434.72 373.14,434.81 373.25,434.90 373.36,434.99 373.47,435.07 373.58,435.15 373.69,435.23 373.80,435.30 373.91,435.37 374.02,435.43 374.13,435.49 374.24,435.54 374.35,435.59 374.46,435.64 374.57,435.68 374.68,435.72 374.79,435.76 374.90,435.79 375.01,435.81 375.11,435.84 375.22,435.85 375.33,435.87 375.44,435.88 375.55,435.89 375.66,435.89 375.77,435.89 375.88,435.89 375.99,435.88 376.10,435.87 376.21,435.85 376.32,435.83 376.43,435.81 376.54,435.79 376.65,435.76 376.76,435.73 376.87,435.69 376.98,435.65 377.09,435.61 377.20,435.56 377.31,435.51 377.42,435.46 377.53,435.40 377.64,435.34 377.75,435.28 377.86,435.21 377.97,435.15 378.08,435.07 378.19,435.00 378.30,434.92 378.41,434.84 378.52,434.76 378.63,434.67 378.74,434.58 378.85,434.49 378.96,434.40 379.07,434.30 379.18,434.20 379.29,434.10 379.40,433.99 379.51,433.89 379.62,433.78 379.73,433.66 379.84,433.55 379.95,433.43 380.05,433.31 380.16,433.19 380.27,433.07 380.38,432.94 380.49,432.82 380.60,432.69 380.71,432.55 380.82,432.42 380.93,432.28 381.04,432.15 381.15,432.01 381.26,431.87 381.37,431.72 381.48,431.58 381.59,431.43 381.70,431.29 381.81,431.14 381.92,430.99 382.03,430.83 382.14,430.68 382.25,430.52 382.36,430.37 382.47,430.21 382.58,430.05 382.69,429.89 382.80,429.73 382.91,429.57 383.02,429.40 383.13,429.24 383.24,429.07 383.35,428.91 383.46,428.74 383.57,428.57 383.68,428.40 383.79,428.23 383.90,428.06 384.01,427.89 384.12,427.72 384.23,427.54 384.34,427.37 384.45,427.19 384.56,427.02 384.67,426.85 384.78,426.67 384.89,426.49 384.99,426.32 385.10,426.14 385.21,425.96 385.32,425.79 385.43,425.61 385.54,425.43 385.65,425.25 385.76,425.07 385.87,424.90 385.98,424.72 386.09,424.54 386.20,424.36 386.31,424.18 386.42,424.00 386.53,423.82 386.64,423.65 386.75,423.47 386.86,423.29 386.97,423.11 387.08,422.93 387.19,422.76 387.30,422.58 387.41,422.40 387.52,422.23 387.63,422.05 387.74,421.87 387.85,421.70 387.96,421.52 388.07,421.35 388.18,421.17 388.29,421.00 388.40,420.83 388.51,420.65 388.62,420.48 388.73,420.31 388.84,420.14 388.95,419.97 389.06,419.80 389.17,419.63 389.28,419.46 389.39,419.29 389.50,419.12 389.61,418.96 389.72,418.79 389.83,418.63 389.93,418.46 390.04,418.30 390.15,418.14 390.26,417.97 390.37,417.81 390.48,417.65 390.59,417.49 390.70,417.34 390.81,417.18 390.92,417.02 391.03,416.87 391.14,416.71 391.25,416.56 391.36,416.40 391.47,416.25 391.58,416.10 391.69,415.95 391.80,415.80 391.91,415.65 392.02,415.50 392.13,415.36 392.24,415.21 392.35,415.07 392.46,414.93 392.57,414.78 392.68,414.64 392.79,414.50 392.90,414.36 393.01,414.22 393.12,414.09 393.23,413.95 393.34,413.82 393.45,413.68 393.56,413.55 393.67,413.42 393.78,413.29 393.89,413.16 394.00,413.03 394.11,412.90 394.22,412.78 394.33,412.65 394.44,412.53 394.55,412.40 394.66,412.28 394.77,412.16 394.87,412.04 394.98,411.92 395.09,411.81 395.20,411.69 395.31,411.57 395.42,411.46 395.53,411.35 395.64,411.24 395.75,411.12 395.86,411.02 395.97,410.91 396.08,410.80 396.19,410.69 396.30,410.59 396.41,410.48 396.52,410.38 396.63,410.28 396.74,410.18 396.85,410.08 396.96,409.98 397.07,409.88 397.18,409.78 397.29,409.69 397.40,409.59 397.51,409.50 397.62,409.41 397.73,409.32 397.84,409.23 397.95,409.14 398.06,409.05 398.17,408.96 398.28,408.88 398.39,408.79 398.50,408.71 398.61,408.63 398.72,408.54 398.83,408.46 398.94,408.38 399.05,408.30 399.16,408.23 399.27,408.15 399.38,408.07 399.49,408.00 399.60,407.92 399.71,407.85 399.81,407.78 399.92,407.71 400.03,407.64 400.14,407.57 400.25,407.50 400.36,407.43 400.47,407.37 400.58,407.30 400.69,407.24 400.80,407.17 400.91,407.11 401.02,407.05 401.13,406.99 401.24,406.93 401.35,406.87 401.46,406.81 401.57,406.76 401.68,406.70 401.79,406.64 401.90,406.59 402.01,406.54 402.12,406.48 402.23,406.43 402.34,406.38 402.45,406.33 402.56,406.28 402.67,406.23 402.78,406.18 402.89,406.14 403.00,406.09 403.11,406.05 403.22,406.00 403.33,405.96 403.44,405.91 403.55,405.87 403.66,405.83 403.77,405.79 403.88,405.75 403.99,405.71 404.10,405.67 404.21,405.64 404.32,405.60 404.43,405.56 404.54,405.53 404.65,405.49 404.75,405.46 404.86,405.42 404.97,405.39 405.08,405.36 405.19,405.33 405.30,405.30 405.41,405.27 405.52,405.24 405.63,405.21 405.74,405.18 405.85,405.16 405.96,405.13 406.07,405.11 406.18,405.08 406.29,405.06 406.40,405.03 406.51,405.01 406.62,404.99 406.73,404.97 406.84,404.95 406.95,404.93 407.06,404.91 407.17,404.89 407.28,404.87 407.39,404.85 407.50,404.83 407.61,404.82 407.72,404.80 407.83,404.79 407.94,404.77 408.05,404.76 408.16,404.74 408.27,404.73 408.38,404.72 408.49,404.71 408.60,404.70 408.71,404.69 408.82,404.68 408.93,404.67 409.04,404.66 409.15,404.65 409.26,404.64 409.37,404.64 409.48,404.63 409.59,404.63 409.69,404.62 409.80,404.62 409.91,404.61 410.02,404.61 410.13,404.61 410.24,404.60 410.35,404.60 410.46,404.60 410.57,404.60 410.68,404.60 410.79,404.60 410.90,404.61 411.01,404.61 411.12,404.61 411.23,404.61 411.34,404.62 411.45,404.62 411.56,404.63 411.67,404.63 411.78,404.64 411.89,404.65 412.00,404.65 412.11,404.66 412.22,404.67 412.33,404.68 412.44,404.69 412.55,404.70 412.66,404.71 412.77,404.72 412.88,404.74 412.99,404.75 413.10,404.76 413.21,404.78 413.32,404.79 413.43,404.81 413.54,404.82 413.65,404.84 413.76,404.86 413.87,404.87 413.98,404.89 414.09,404.91 414.20,404.93 414.31,404.95 414.42,404.97 414.53,405.00 414.63,405.02 414.74,405.04 414.85,405.06 414.96,405.09 415.07,405.11 415.18,405.14 415.29,405.17 415.40,405.19 415.51,405.22 415.62,405.25 415.73,405.28 415.84,405.31 415.95,405.34 416.06,405.37 416.17,405.40 416.28,405.44 416.39,405.47 416.50,405.50 416.61,405.54 416.72,405.57 416.83,405.61 416.94,405.65 417.05,405.69 417.16,405.72 417.27,405.76 417.38,405.80 417.49,405.84 417.60,405.89 417.71,405.93 417.82,405.97 417.93,406.02 418.04,406.06 418.15,406.11 418.26,406.15 418.37,406.20 418.48,406.25 418.59,406.30 418.70,406.35 418.81,406.40 418.92,406.45 419.03,406.50 419.14,406.55 419.25,406.61 419.36,406.66 419.47,406.72 419.57,406.77 419.68,406.83 419.79,406.89 419.90,406.95 420.01,407.01 420.12,407.07 420.23,407.13 420.34,407.20 420.45,407.26 420.56,407.32 420.67,407.39 420.78,407.46 420.89,407.52 421.00,407.59 421.11,407.66 421.22,407.73 421.33,407.80 421.44,407.88 421.55,407.95 421.66,408.02 421.77,408.10 421.88,408.17 421.99,408.25 422.10,408.33 422.21,408.41 422.32,408.49 422.43,408.57 422.54,408.65 422.65,408.74 422.76,408.82 422.87,408.91 422.98,408.99 423.09,409.08 423.20,409.17 423.31,409.26 423.42,409.35 423.53,409.44 423.64,409.53 423.75,409.63 423.86,409.72 423.97,409.82 424.08,409.91 424.19,410.01 424.30,410.11 424.40,410.21 424.51,410.31 424.62,410.41 424.73,410.52 424.84,410.62 424.95,410.73 425.06,410.83 425.17,410.94 425.28,411.05 425.39,411.16 425.50,411.27 425.61,411.38 425.72,411.50 425.83,411.61 425.94,411.73 426.05,411.84 426.16,411.96 426.27,412.08 426.38,412.20 426.49,412.32 426.60,412.44 426.71,412.57 426.82,412.69 426.93,412.82 427.04,412.94 427.15,413.07 427.26,413.20 427.37,413.33 427.48,413.46 427.59,413.59 427.70,413.73 427.81,413.86 427.92,414.00 428.03,414.13 428.14,414.27 428.25,414.41 428.36,414.55 428.47,414.69 428.58,414.83 428.69,414.97 428.80,415.12 428.91,415.26 429.02,415.41 429.13,415.55 429.24,415.70 429.34,415.85 429.45,416.00 429.56,416.15 429.67,416.30 429.78,416.45 429.89,416.61 430.00,416.76 430.11,416.92 430.22,417.07 430.33,417.23 430.44,417.39 430.55,417.55 430.66,417.71 430.77,417.87 430.88,418.03 430.99,418.19 431.10,418.35 431.21,418.52 431.32,418.68 431.43,418.85 431.54,419.01 431.65,419.18 431.76,419.35 431.87,419.52 431.98,419.68 432.09,419.85 432.20,420.02 432.31,420.19 432.42,420.37 432.53,420.54 432.64,420.71 432.75,420.88 432.86,421.06 432.97,421.23 433.08,421.40 433.19,421.58 433.30,421.76 433.41,421.93 433.52,422.11 433.63,422.28 433.74,422.46 433.85,422.64 433.96,422.81 434.07,422.99 434.18,423.17 434.28,423.35 434.39,423.53 434.50,423.70 434.61,423.88 434.72,424.06 434.83,424.24 434.94,424.42 435.05,424.60 435.16,424.78 435.27,424.95 435.38,425.13 435.49,425.31 435.60,425.49 435.71,425.67 435.82,425.84 435.93,426.02 436.04,426.20 436.15,426.38 436.26,426.55 436.37,426.73 436.48,426.90 436.59,427.08 436.70,427.25 436.81,427.43 436.92,427.60 437.03,427.77 437.14,427.94 437.25,428.12 437.36,428.29 437.47,428.46 437.58,428.63 437.69,428.79 437.80,428.96 437.91,429.13 438.02,429.29 438.13,429.46 438.24,429.62 438.35,429.78 438.46,429.94 438.57,430.10 438.68,430.26 438.79,430.42 438.90,430.58 439.01,430.73 439.12,430.88 439.22,431.04 439.33,431.19 439.44,431.33 439.55,431.48 439.66,431.63 439.77,431.77 439.88,431.91 439.99,432.05 440.10,432.19 440.21,432.33 440.32,432.46 440.43,432.60 440.54,432.73 440.65,432.86 440.76,432.98 440.87,433.11 440.98,433.23 441.09,433.35 441.20,433.47 441.31,433.59 441.42,433.70 441.53,433.81 441.64,433.92 441.75,434.03 441.86,434.13 441.97,434.23 442.08,434.33 442.19,434.43 442.30,434.52 442.41,434.61 442.52,434.70 442.63,434.79 442.74,434.87 442.85,434.95 442.96,435.03 443.07,435.10 443.18,435.17 443.29,435.24 443.40,435.30 443.51,435.36 443.62,435.42 443.73,435.48 443.84,435.53 443.95,435.58 444.06,435.62 444.16,435.66 444.27,435.70 444.38,435.74 444.49,435.77 444.60,435.80 444.71,435.82 444.82,435.84 444.93,435.86 445.04,435.87 445.15,435.88 445.26,435.89 445.37,435.89 445.48,435.89 445.59,435.89 445.70,435.88 445.81,435.86 445.92,435.85 446.03,435.83 446.14,435.80 446.25,435.78 446.36,435.74 446.47,435.71 446.58,435.67 446.69,435.62 446.80,435.58 446.91,435.52 447.02,435.47 447.13,435.41 447.24,435.34 447.35,435.28 447.46,435.20 447.57,435.13 447.68,435.05 447.79,434.96 447.90,434.87 448.01,434.78 448.12,434.68 448.23,434.58 448.34,434.48 448.45,434.37 448.56,434.26 448.67,434.14 448.78,434.02 448.89,433.89 449.00,433.76 449.10,433.63 449.21,433.49 449.32,433.35 449.43,433.20 449.54,433.05 449.65,432.90 449.76,432.74 449.87,432.57 449.98,432.41 450.09,432.24 450.20,432.06 450.31,431.89 450.42,431.70 450.53,431.52 450.64,431.33 450.75,431.13 450.86,430.94 450.97,430.74 451.08,430.53 451.19,430.32 451.30,430.11 451.41,429.89 451.52,429.67 451.63,429.45 451.74,429.23 451.85,429.00 451.96,428.76 452.07,428.53 452.18,428.29 452.29,428.04 452.40,427.80 452.51,427.55 452.62,427.30 452.73,427.04 452.84,426.78 452.95,426.52 453.06,426.26 453.17,425.99 453.28,425.72 453.39,425.45 453.50,425.18 453.61,424.90 453.72,424.62 453.83,424.34 453.94,424.06 454.04,423.77 454.15,423.48 454.26,423.19 454.37,422.90 454.48,422.61 454.59,422.31 454.70,422.01 454.81,421.71 454.92,421.41 455.03,421.11 455.14,420.81 455.25,420.50 455.36,420.20 455.47,419.89 455.58,419.58 455.69,419.27 455.80,418.96 455.91,418.65 456.02,418.34 456.13,418.03 456.24,417.72 456.35,417.40 456.46,417.09 456.57,416.78 456.68,416.46 456.79,416.15 456.90,415.84 457.01,415.53 457.12,415.21 457.23,414.90 457.34,414.59 457.45,414.28 457.56,413.97 457.67,413.66 457.78,413.35 457.89,413.05 458.00,412.74 458.11,412.44 458.22,412.14 458.33,411.84 458.44,411.54 458.55,411.24 458.66,410.94 458.77,410.65 458.88,410.36 458.98,410.07 459.09,409.78 459.20,409.49 459.31,409.21 459.42,408.93 459.53,408.66 459.64,408.38 459.75,408.11 459.86,407.84 459.97,407.58 460.08,407.31 460.19,407.06 460.30,406.80 460.41,406.55 460.52,406.30 460.63,406.06 460.74,405.82 460.85,405.58 460.96,405.35 461.07,405.12 461.18,404.90 461.29,404.68 461.40,404.46 461.51,404.25 461.62,404.04 461.73,403.84 461.84,403.65 461.95,403.45 462.06,403.27 462.17,403.08 462.28,402.91 462.39,402.74 462.50,402.57 462.61,402.41 462.72,402.25 462.83,402.10 462.94,401.96 463.05,401.82 463.16,401.69 463.27,401.56 463.38,401.44 463.49,401.32 463.60,401.21 463.71,401.11 463.82,401.01 463.92,400.92 464.03,400.84 464.14,400.76 464.25,400.68 464.36,400.62 464.47,400.56 464.58,400.50 464.69,400.46 464.80,400.42 464.91,400.38 465.02,400.35 465.13,400.33 465.24,400.32 465.35,400.31 465.46,400.31 465.57,400.31 465.68,400.33 465.79,400.34 465.90,400.37 466.01,400.40 466.12,400.44 466.23,400.49 466.34,400.54 466.45,400.60 466.56,400.66 466.67,400.73 466.78,400.81 466.89,400.90 467.00,400.99 467.11,401.09 467.22,401.19 467.33,401.31 467.44,401.42 467.55,401.55 467.66,401.68 467.77,401.82 467.88,401.96 467.99,402.11 468.10,402.27 468.21,402.43 468.32,402.60 468.43,402.78 468.54,402.96 468.65,403.14 468.76,403.34 468.86,403.54 468.97,403.74 469.08,403.95 469.19,404.17 469.30,404.39 469.41,404.62 469.52,404.85 469.63,405.09 469.74,405.33 469.85,405.58 469.96,405.83 470.07,406.09 470.18,406.36 470.29,406.62 470.40,406.90 470.51,407.17 470.62,407.46 470.73,407.74 470.84,408.03 470.95,408.33 471.06,408.63 471.17,408.93 471.28,409.24 471.39,409.55 471.50,409.86 471.61,410.18 471.72,410.50 471.83,410.82 471.94,411.15 472.05,411.48 472.16,411.81 472.27,412.15 472.38,412.49 472.49,412.83 472.60,413.17 472.71,413.51 472.82,413.86 472.93,414.21 473.04,414.56 473.15,414.91 473.26,415.26 473.37,415.62 473.48,415.98 473.59,416.33 473.70,416.69 473.80,417.05 473.91,417.41 474.02,417.77 474.13,418.12 474.24,418.48 474.35,418.84 474.46,419.20 474.57,419.56 474.68,419.92 474.79,420.28 474.90,420.64 475.01,420.99 475.12,421.35 475.23,421.70 475.34,422.05 475.45,422.40 475.56,422.75 475.67,423.10 475.78,423.44 475.89,423.79 476.00,424.13 476.11,424.47 476.22,424.80 476.33,425.14 476.44,425.47 476.55,425.79 476.66,426.12 476.77,426.44 476.88,426.76 476.99,427.07 477.10,427.38 477.21,427.69 477.32,427.99 477.43,428.29 477.54,428.58 477.65,428.87 477.76,429.16 477.87,429.44 477.98,429.72 478.09,429.99 478.20,430.26 478.31,430.52 478.42,430.77 478.53,431.03 478.64,431.27 478.74,431.51 478.85,431.75 478.96,431.98 479.07,432.20 479.18,432.42 479.29,432.63 479.40,432.84 479.51,433.04 479.62,433.23 479.73,433.42 479.84,433.60 479.95,433.77 480.06,433.94 480.17,434.10 480.28,434.26 480.39,434.41 480.50,434.55 480.61,434.68 480.72,434.81 480.83,434.93 480.94,435.04 481.05,435.15 481.16,435.25 481.27,435.34 481.38,435.43 481.49,435.51 481.60,435.58 481.71,435.64 481.82,435.70 481.93,435.75 482.04,435.79 482.15,435.83 482.26,435.85 482.37,435.87 482.48,435.89 482.59,435.89 482.70,435.89 482.81,435.88 482.92,435.86 483.03,435.84 483.14,435.81 483.25,435.77 483.36,435.72 483.47,435.67 483.58,435.61 483.68,435.54 483.79,435.47 483.90,435.39 484.01,435.30 484.12,435.20 484.23,435.10 484.34,434.99 484.45,434.87 484.56,434.75 484.67,434.62 484.78,434.48 484.89,434.34 485.00,434.19 485.11,434.03 485.22,433.87 485.33,433.70 485.44,433.53 485.55,433.34 485.66,433.16 485.77,432.96 485.88,432.76 485.99,432.56 486.10,432.34 486.21,432.13 486.32,431.90 486.43,431.68 486.54,431.44 486.65,431.20 486.76,430.96 486.87,430.71 486.98,430.45 487.09,430.20 487.20,429.93 487.31,429.66 487.42,429.39 487.53,429.11 487.64,428.83 487.75,428.54 487.86,428.25 487.97,427.96 488.08,427.66 488.19,427.36 488.30,427.06 488.41,426.75 488.52,426.44 488.62,426.12 488.73,425.80 488.84,425.48 488.95,425.16 489.06,424.83 489.17,424.50 489.28,424.17 489.39,423.84 489.50,423.50 489.61,423.17 489.72,422.83 489.83,422.49 489.94,422.15 490.05,421.80 490.16,421.46 490.27,421.11 490.38,420.77 490.49,420.42 490.60,420.07 490.71,419.72 490.82,419.37 490.93,419.02 491.04,418.67 491.15,418.32 491.26,417.97 491.37,417.62 491.48,417.28 491.59,416.93 491.70,416.58 491.81,416.23 491.92,415.89 492.03,415.54 492.14,415.20 492.25,414.86 492.36,414.52 492.47,414.18 492.58,413.84 492.69,413.51 492.80,413.17 492.91,412.84 493.02,412.51 493.13,412.19 493.24,411.86 493.35,411.54 493.46,411.22 493.56,410.91 493.67,410.59 493.78,410.28 493.89,409.98 494.00,409.67 494.11,409.37 494.22,409.08 494.33,408.78 494.44,408.49 494.55,408.21 494.66,407.93 494.77,407.65 494.88,407.38 494.99,407.11 495.10,406.84 495.21,406.58 495.32,406.33 495.43,406.07 495.54,405.83 495.65,405.58 495.76,405.35 495.87,405.11 495.98,404.88 496.09,404.66 496.20,404.44 496.31,404.23 496.42,404.02 496.53,403.82 496.64,403.62 496.75,403.43 496.86,403.24 496.97,403.06 497.08,402.89 497.19,402.72 497.30,402.55 497.41,402.39 497.52,402.24 497.63,402.09 497.74,401.95 497.85,401.81 497.96,401.68 498.07,401.56 498.18,401.44 498.29,401.33 498.39,401.22 498.50,401.12 498.61,401.02 498.72,400.93 498.83,400.85 498.94,400.77 499.05,400.70 499.16,400.64 499.27,400.58 499.38,400.52 499.49,400.48 499.60,400.43 499.71,400.40 499.82,400.37 499.93,400.35 500.04,400.33 500.15,400.32 500.26,400.31 500.37,400.31 500.48,400.31 500.59,400.33 500.70,400.34 500.81,400.37 500.92,400.39 501.03,400.43 501.14,400.47 501.25,400.51 501.36,400.56 501.47,400.62 501.58,400.68 501.69,400.75 501.80,400.82 501.91,400.90 502.02,400.99 502.13,401.07 502.24,401.17 502.35,401.27 502.46,401.37 502.57,401.48 502.68,401.60 502.79,401.72 502.90,401.84 503.01,401.97 503.12,402.10 503.23,402.24 503.33,402.38 503.44,402.53 503.55,402.68 503.66,402.84 503.77,403.00 503.88,403.17 503.99,403.34 504.10,403.51 504.21,403.69 504.32,403.87 504.43,404.05 504.54,404.24 504.65,404.44 504.76,404.63 504.87,404.83 504.98,405.04 505.09,405.24 505.20,405.46 505.31,405.67 505.42,405.89 505.53,406.11 505.64,406.33 505.75,406.56 505.86,406.79 505.97,407.02 506.08,407.25 506.19,407.49 506.30,407.73 506.41,407.97 506.52,408.22 506.63,408.46 506.74,408.71 506.85,408.97 506.96,409.22 507.07,409.47 507.18,409.73 507.29,409.99 507.40,410.25 507.51,410.51 507.62,410.78 507.73,411.04 507.84,411.31 507.95,411.58 508.06,411.85 508.17,412.12 508.27,412.39 508.38,412.66 508.49,412.94 508.60,413.21 508.71,413.48 508.82,413.76 508.93,414.04 509.04,414.31 509.15,414.59 509.26,414.87 509.37,415.14 509.48,415.42 509.59,415.70 509.70,415.98 509.81,416.26 509.92,416.53 510.03,416.81 510.14,417.09 510.25,417.37 510.36,417.64 510.47,417.92 510.58,418.19 510.69,418.47 510.80,418.74 510.91,419.02 511.02,419.29 511.13,419.56 511.24,419.83 511.35,420.10 511.46,420.37 511.57,420.64 511.68,420.90 511.79,421.17 511.90,421.43 512.01,421.70 512.12,421.96 512.23,422.22 512.34,422.47 512.45,422.73 512.56,422.99 512.67,423.24 512.78,423.49 512.89,423.74 513.00,423.99 513.11,424.24 513.21,424.48 513.32,424.72 513.43,424.96 513.54,425.20 513.65,425.44 513.76,425.67 513.87,425.90 513.98,426.13 514.09,426.36 514.20,426.58 514.31,426.81 514.42,427.03 514.53,427.25 514.64,427.46 514.75,427.68 514.86,427.89 514.97,428.09 515.08,428.30 515.19,428.50 515.30,428.70 515.41,428.90 515.52,429.10 515.63,429.29 515.74,429.48 515.85,429.67 515.96,429.85 516.07,430.04 516.18,430.21 516.29,430.39 516.40,430.57 516.51,430.74 516.62,430.90 516.73,431.07 516.84,431.23 516.95,431.39 517.06,431.55 517.17,431.70 517.28,431.85 517.39,432.00 517.50,432.15 517.61,432.29 517.72,432.43 517.83,432.57 517.94,432.70 518.05,432.83 518.15,432.96 518.26,433.09 518.37,433.21 518.48,433.33 518.59,433.45 518.70,433.56 518.81,433.67 518.92,433.78 519.03,433.88 519.14,433.99 519.25,434.09 519.36,434.18 519.47,434.28 519.58,434.37 519.69,434.46 519.80,434.54 519.91,434.62 520.02,434.70 520.13,434.78 520.24,434.86 520.35,434.93 520.46,435.00 520.57,435.06 520.68,435.13 520.79,435.19 520.90,435.25 521.01,435.30 521.12,435.35 521.23,435.40 521.34,435.45 521.45,435.50 521.56,435.54 521.67,435.58 521.78,435.62 521.89,435.65 522.00,435.68 522.11,435.71 522.22,435.74 522.33,435.77 522.44,435.79 522.55,435.81 522.66,435.83 522.77,435.84 522.88,435.86 522.99,435.87 523.09,435.88 523.20,435.88 523.31,435.89 523.42,435.89 523.53,435.89 523.64,435.89 523.75,435.89 523.86,435.88 523.97,435.87 524.08,435.86 524.19,435.85 524.30,435.83 524.41,435.82 524.52,435.80 524.63,435.78 524.74,435.76 524.85,435.73 524.96,435.71 525.07,435.68 525.18,435.65 525.29,435.62 525.40,435.59 525.51,435.56 525.62,435.52 525.73,435.48 525.84,435.44 525.95,435.40 526.06,435.36 526.17,435.32 526.28,435.27 526.39,435.22 526.50,435.18 526.61,435.13 526.72,435.08 526.83,435.02 526.94,434.97 527.05,434.92 527.16,434.86 527.27,434.80 527.38,434.74 527.49,434.68 527.60,434.62 527.71,434.56 527.82,434.50 527.93,434.43 528.03,434.37 528.14,434.30 528.25,434.23 528.36,434.17 528.47,434.10 528.58,434.03 528.69,433.96 528.80,433.88 528.91,433.81 529.02,433.74 529.13,433.66 529.24,433.59 529.35,433.51 529.46,433.43 529.57,433.36 529.68,433.28 529.79,433.20 529.90,433.12 530.01,433.04 530.12,432.96 530.23,432.88 530.34,432.80 530.45,432.72" fill="none" stroke="#0072BD" stroke-width="3.6" stroke-linejoin="round"/>
<polyline points="91.45,418.10 91.45,418.37 91.54,418.10 91.63,417.87 91.71,417.68 91.80,417.53 91.89,417.40 92.02,417.25 92.15,417.13 92.33,417.02 92.55,416.93 92.77,416.87 92.99,416.83 93.21,416.80 93.43,416.78 93.54,416.77 93.65,416.77 93.76,416.76 93.87,416.75 93.97,416.74 94.08,416.74 94.19,416.73 94.30,416.73 94.41,416.72 94.52,416.72 94.63,416.71 94.74,416.70 94.85,416.70 94.96,416.69 95.07,416.69 95.18,416.68 95.29,416.68 95.40,416.67 95.51,416.67 95.62,416.66 95.73,416.66 95.84,416.65 95.95,416.65 96.06,416.64 96.17,416.64 96.28,416.63 96.39,416.63 96.50,416.62 96.61,416.62 96.72,416.61 96.83,416.60 96.94,416.60 97.05,416.59 97.16,416.59 97.27,416.58 97.38,416.58 97.49,416.57 97.60,416.57 97.71,416.56 97.82,416.56 97.93,416.55 98.04,416.55 98.15,416.54 98.26,416.54 98.37,416.53 98.48,416.53 98.59,416.52 98.70,416.52 98.81,416.51 98.91,416.51 99.02,416.50 99.13,416.50 99.24,416.49 99.35,416.49 99.46,416.48 99.57,416.48 99.68,416.47 99.79,416.46 99.90,416.46 100.01,416.45 100.12,416.45 100.23,416.44 100.34,416.44 100.45,416.43 100.56,416.43 100.67,416.42 100.78,416.42 100.89,416.41 101.00,416.41 101.11,416.40 101.22,416.40 101.33,416.39 101.44,416.39 101.55,416.38 101.66,416.38 101.77,416.37 101.88,416.37 101.99,416.36 102.10,416.36 102.21,416.35 102.32,416.35 102.43,416.34 102.54,416.34 102.65,416.33 102.76,416.33 102.87,416.32 102.98,416.31 103.09,416.31 103.20,416.30 103.31,416.30 103.42,416.29 103.53,416.29 103.64,416.28 103.75,416.28 103.85,416.27 103.96,416.27 104.07,416.26 104.18,416.26 104.29,416.25 104.40,416.25 104.51,416.24 104.62,416.24 104.73,416.23 104.84,416.23 104.95,416.22 105.06,416.22 105.17,416.21 105.28,416.21 105.39,416.20 105.50,416.20 105.61,416.19 105.72,416.19 105.83,416.18 105.94,416.17 106.05,416.17 106.16,416.16 106.27,416.16 106.38,416.15 106.49,416.15 106.60,416.14 106.71,416.14 106.82,416.13 106.93,416.13 107.04,416.12 107.15,416.12 107.26,416.11 107.37,416.11 107.48,416.10 107.59,416.10 107.70,416.09 107.81,416.09 107.92,416.08 108.03,416.08 108.14,416.07 108.25,416.07 108.36,416.06 108.47,416.06 108.58,416.05 108.69,416.05 108.79,416.04 108.90,416.04 109.01,416.03 109.12,416.03 109.23,416.02 109.34,416.01 109.45,416.01 109.56,416.00 109.67,416.00 109.78,415.99 109.89,415.99 110.00,415.98 110.11,415.98 110.22,415.97 110.33,415.97 110.44,415.96 110.55,415.96 110.66,415.95 110.77,415.95 110.88,415.94 110.99,415.94 111.10,415.93 111.21,415.93 111.32,415.92 111.43,415.92 111.54,415.91 111.65,415.91 111.76,415.90 111.87,415.90 111.98,415.89 112.09,415.89 112.20,415.88 112.31,415.88 112.42,415.87 112.53,415.86 112.64,415.86 112.75,415.85 112.86,415.85 112.97,415.84 113.08,415.84 113.19,415.83 113.30,415.83 113.41,415.82 113.52,415.82 113.63,415.81 113.73,415.81 113.84,415.80 113.95,415.80 114.06,415.79 114.17,415.79 114.28,415.78 114.39,415.78 114.50,415.77 114.61,415.77 114.72,415.76 114.83,415.76 114.94,415.75 115.05,415.75 115.16,415.74 115.27,415.74 115.38,415.73 115.49,415.73 115.60,415.72 115.71,415.72 115.82,415.71 115.93,415.71 116.04,415.70 116.15,415.69 116.26,415.69 116.37,415.68 116.48,415.68 116.59,415.67 116.70,415.67 116.81,415.66 116.92,415.66 117.03,415.65 117.14,415.65 117.25,415.64 117.36,415.64 117.47,415.63 117.58,415.63 117.69,415.62 117.80,415.62 117.91,415.61 118.02,415.61 118.13,415.60 118.24,415.60 118.35,415.59 118.46,415.59 118.57,415.58 118.67,415.58 118.78,415.57 118.89,415.57 119.00,415.56 119.11,415.56 119.22,415.55 119.33,415.55 119.44,415.54 119.55,415.54 119.66,415.53 119.77,415.52 119.88,415.52 119.99,415.51 120.10,415.51 120.21,415.50 120.32,415.50 120.43,415.49 120.54,415.49 120.65,415.48 120.76,415.48 120.87,415.47 120.98,415.47 121.09,415.46 121.20,415.46 121.31,415.45 121.42,415.45 121.53,415.44 121.64,415.44 121.75,415.43 121.86,415.43 121.97,415.42 122.08,415.42 122.19,415.41 122.30,415.41 122.41,415.40 122.52,415.40 122.63,415.39 122.74,415.39 122.85,415.38 122.96,415.38 123.07,415.37 123.18,415.37 123.29,415.36 123.40,415.35 123.51,415.35 123.61,415.34 123.72,415.34 123.83,415.33 123.94,415.33 124.05,415.32 124.16,415.32 124.27,415.31 124.38,415.31 124.49,415.30 124.60,415.30 124.71,415.29 124.82,415.29 124.93,415.28 125.04,415.28 125.15,415.27 125.26,415.27 125.37,415.26 125.48,415.26 125.59,415.25 125.70,415.25 125.81,415.24 125.92,415.24 126.03,415.23 126.14,415.23 126.25,415.22 126.36,415.22 126.47,415.21 126.58,415.21 126.69,415.20 126.80,415.20 126.91,415.19 127.02,415.19 127.13,415.18 127.24,415.18 127.35,415.17 127.46,415.16 127.57,415.16 127.68,415.15 127.79,415.15 127.90,415.14 128.01,415.14 128.12,415.13 128.23,415.13 128.34,415.12 128.44,415.12 128.55,415.11 128.66,415.11 128.77,415.10 128.88,415.10 128.99,415.09 129.10,415.09 129.21,415.08 129.32,415.08 129.43,415.07 129.54,415.07 129.65,415.06 129.76,415.06 129.87,415.05 129.98,415.05 130.09,415.04 130.20,415.04 130.31,415.03 130.42,415.03 130.53,415.02 130.64,415.02 130.75,415.01 130.86,415.01 130.97,415.00 131.08,415.00 131.19,414.99 131.30,414.99 131.41,414.98 131.52,414.98 131.63,414.97 131.74,414.97 131.85,414.96 131.96,414.95 132.07,414.95 132.18,414.94 132.29,414.94 132.40,414.93 132.51,414.93 132.62,414.92 132.73,414.92 132.84,414.91 132.95,414.91 133.06,414.90 133.17,414.90 133.28,414.89 133.38,414.89 133.49,414.88 133.60,414.88 133.71,414.87 133.82,414.87 133.93,414.86 134.04,414.86 134.15,414.85 134.26,414.85 134.37,414.84 134.48,414.84 134.59,414.83 134.70,414.83 134.81,414.82 134.92,414.82 135.03,414.81 135.14,414.81 135.25,414.80 135.36,414.80 135.47,414.79 135.58,414.78 135.69,414.78 135.80,414.77 135.91,414.76 136.02,414.75 136.13,414.74 136.24,414.73 136.35,414.71 136.46,414.70 136.57,414.68 136.68,414.67 136.79,414.65 136.90,414.64 137.01,414.62 137.12,414.60 137.23,414.58 137.34,414.56 137.45,414.54 137.56,414.51 137.67,414.49 137.78,414.47 137.89,414.44 138.00,414.42 138.11,414.39 138.22,414.36 138.32,414.33 138.43,414.30 138.54,414.27 138.65,414.24 138.76,414.21 138.87,414.18 138.98,414.14 139.09,414.11 139.20,414.07 139.31,414.04 139.42,414.00 139.53,413.96 139.64,413.92 139.75,413.88 139.86,413.84 139.97,413.80 140.08,413.76 140.19,413.71 140.30,413.67 140.41,413.63 140.52,413.58 140.63,413.53 140.74,413.49 140.85,413.44 140.96,413.39 141.07,413.34 141.18,413.29 141.29,413.24 141.40,413.18 141.51,413.13 141.62,413.08 141.73,413.02 141.84,412.97 141.95,412.91 142.06,412.85 142.17,412.80 142.28,412.74 142.39,412.68 142.50,412.62 142.61,412.56 142.72,412.49 142.83,412.43 142.94,412.37 143.05,412.30 143.16,412.24 143.26,412.17 143.37,412.11 143.48,412.04 143.59,411.97 143.70,411.90 143.81,411.83 143.92,411.76 144.03,411.69 144.14,411.62 144.25,411.55 144.36,411.48 144.47,411.40 144.58,411.33 144.69,411.25 144.80,411.18 144.91,411.10 145.02,411.03 145.13,410.95 145.24,410.87 145.35,410.79 145.46,410.71 145.57,410.63 145.68,410.55 145.79,410.47 145.90,410.39 146.01,410.30 146.12,410.22 146.23,410.14 146.34,410.05 146.45,409.97 146.56,409.88 146.67,409.80 146.78,409.71 146.89,409.62 147.00,409.54 147.11,409.45 147.22,409.36 147.33,409.27 147.44,409.18 147.55,409.09 147.66,409.00 147.77,408.91 147.88,408.82 147.99,408.73 148.10,408.64 148.20,408.55 148.31,408.45 148.42,408.36 148.53,408.27 148.64,408.17 148.75,408.08 148.86,407.99 148.97,407.89 149.08,407.80 149.19,407.70 149.30,407.61 149.41,407.51 149.52,407.42 149.63,407.32 149.74,407.22 149.85,407.13 149.96,407.03 150.07,406.93 150.18,406.84 150.29,406.74 150.40,406.64 150.51,406.55 150.62,406.45 150.73,406.35 150.84,406.26 150.95,406.16 151.06,406.06 151.17,405.97 151.28,405.87 151.39,405.77 151.50,405.67 151.61,405.58 151.72,405.48 151.83,405.39 151.94,405.29 152.05,405.19 152.16,405.10 152.27,405.00 152.38,404.91 152.49,404.81 152.60,404.72 152.71,404.62 152.82,404.53 152.93,404.44 153.04,404.34 153.14,404.25 153.25,404.16 153.36,404.06 153.47,403.97 153.58,403.88 153.69,403.79 153.80,403.70 153.91,403.61 154.02,403.52 154.13,403.44 154.24,403.35 154.35,403.26 154.46,403.18 154.57,403.09 154.68,403.01 154.79,402.92 154.90,402.84 155.01,402.76 155.12,402.68 155.23,402.60 155.34,402.52 155.45,402.44 155.56,402.36 155.67,402.28 155.78,402.21 155.89,402.13 156.00,402.06 156.11,401.99 156.22,401.92 156.33,401.85 156.44,401.78 156.55,401.71 156.66,401.64 156.77,401.58 156.88,401.51 156.99,401.45 157.10,401.39 157.21,401.33 157.32,401.27 157.43,401.21 157.54,401.16 157.65,401.10 157.76,401.05 157.87,401.00 157.98,400.95 158.08,400.90 158.19,400.86 158.30,400.81 158.41,400.77 158.52,400.73 158.63,400.69 158.74,400.65 158.85,400.61 158.96,400.58 159.07,400.55 159.18,400.52 159.29,400.49 159.40,400.46 159.51,400.44 159.62,400.42 159.73,400.40 159.84,400.38 159.95,400.36 160.06,400.35 160.17,400.34 160.28,400.33 160.39,400.32 160.50,400.31 160.61,400.31 160.72,400.31 160.83,400.31 160.94,400.31 161.05,400.32 161.16,400.33 161.27,400.34 161.38,400.35 161.49,400.37 161.60,400.39 161.71,400.41 161.82,400.43 161.93,400.46 162.04,400.48 162.15,400.51 162.26,400.55 162.37,400.58 162.48,400.62 162.59,400.66 162.70,400.71 162.81,400.76 162.92,400.81 163.02,400.86 163.13,400.91 163.24,400.97 163.35,401.03 163.46,401.09 163.57,401.16 163.68,401.23 163.79,401.30 163.90,401.38 164.01,401.45 164.12,401.53 164.23,401.62 164.34,401.70 164.45,401.79 164.56,401.89 164.67,401.98 164.78,402.08 164.89,402.18 165.00,402.28 165.11,402.39 165.22,402.50 165.33,402.61 165.44,402.73 165.55,402.85 165.66,402.97 165.77,403.10 165.88,403.22 165.99,403.36 166.10,403.49 166.21,403.63 166.32,403.77 166.43,403.91 166.54,404.06 166.65,404.20 166.76,404.36 166.87,404.51 166.98,404.67 167.09,404.83 167.20,404.99 167.31,405.16 167.42,405.33 167.53,405.50 167.64,405.68 167.75,405.85 167.86,406.04 167.96,406.22 168.07,406.41 168.18,406.60 168.29,406.79 168.40,406.98 168.51,407.18 168.62,407.38 168.73,407.58 168.84,407.79 168.95,408.00 169.06,408.21 169.17,408.42 169.28,408.64 169.39,408.86 169.50,409.08 169.61,409.30 169.72,409.53 169.83,409.76 169.94,409.99 170.05,410.22 170.16,410.45 170.27,410.69 170.38,410.93 170.49,411.17 170.60,411.42 170.71,411.66 170.82,411.91 170.93,412.16 171.04,412.41 171.15,412.66 171.26,412.92 171.37,413.18 171.48,413.44 171.59,413.70 171.70,413.96 171.81,414.22 171.92,414.49 172.03,414.75 172.14,415.02 172.25,415.29 172.36,415.56 172.47,415.83 172.58,416.11 172.69,416.38 172.80,416.65 172.90,416.93 173.01,417.21 173.12,417.48 173.23,417.76 173.34,418.04 173.45,418.32 173.56,418.60 173.67,418.88 173.78,419.16 173.89,419.44 174.00,419.72 174.11,420.00 174.22,420.29 174.33,420.57 174.44,420.85 174.55,421.13 174.66,421.41 174.77,421.69 174.88,421.97 174.99,422.25 175.10,422.53 175.21,422.81 175.32,423.09 175.43,423.37 175.54,423.64 175.65,423.92 175.76,424.19 175.87,424.46 175.98,424.74 176.09,425.01 176.20,425.28 176.31,425.54 176.42,425.81 176.53,426.07 176.64,426.34 176.75,426.60 176.86,426.86 176.97,427.12 177.08,427.37 177.19,427.62 177.30,427.87 177.41,428.12 177.52,428.37 177.63,428.61 177.74,428.85 177.84,429.09 177.95,429.33 178.06,429.56 178.17,429.79 178.28,430.02 178.39,430.24 178.50,430.46 178.61,430.68 178.72,430.89 178.83,431.10 178.94,431.31 179.05,431.51 179.16,431.71 179.27,431.91 179.38,432.10 179.49,432.29 179.60,432.47 179.71,432.65 179.82,432.83 179.93,433.00 180.04,433.17 180.15,433.33 180.26,433.49 180.37,433.64 180.48,433.79 180.59,433.94 180.70,434.08 180.81,434.21 180.92,434.34 181.03,434.47 181.14,434.59 181.25,434.71 181.36,434.82 181.47,434.92 181.58,435.02 181.69,435.12 181.80,435.21 181.91,435.29 182.02,435.37 182.13,435.45 182.24,435.51 182.35,435.58 182.46,435.63 182.57,435.69 182.68,435.73 182.78,435.77 182.89,435.81 183.00,435.84 183.11,435.86 183.22,435.87 183.33,435.89 183.44,435.89 183.55,435.89 183.66,435.88 183.77,435.87 183.88,435.85 183.99,435.83 184.10,435.80 184.21,435.76 184.32,435.72 184.43,435.67 184.54,435.62 184.65,435.55 184.76,435.49 184.87,435.42 184.98,435.34 185.09,435.25 185.20,435.16 185.31,435.06 185.42,434.96 185.53,434.85 185.64,434.74 185.75,434.62 185.86,434.49 185.97,434.36 186.08,434.22 186.19,434.08 186.30,433.93 186.41,433.77 186.52,433.61 186.63,433.44 186.74,433.27 186.85,433.09 186.96,432.91 187.07,432.72 187.18,432.53 187.29,432.33 187.40,432.12 187.51,431.91 187.62,431.69 187.72,431.47 187.83,431.25 187.94,431.02 188.05,430.78 188.16,430.54 188.27,430.30 188.38,430.05 188.49,429.79 188.60,429.53 188.71,429.27 188.82,429.00 188.93,428.73 189.04,428.45 189.15,428.17 189.26,427.89 189.37,427.60 189.48,427.31 189.59,427.01 189.70,426.71 189.81,426.41 189.92,426.10 190.03,425.80 190.14,425.48 190.25,425.17 190.36,424.85 190.47,424.53 190.58,424.20 190.69,423.88 190.80,423.55 190.91,423.22 191.02,422.88 191.13,422.55 191.24,422.21 191.35,421.87 191.46,421.53 191.57,421.19 191.68,420.84 191.79,420.50 191.90,420.15 192.01,419.81 192.12,419.46 192.23,419.11 192.34,418.76 192.45,418.41 192.56,418.06 192.66,417.71 192.77,417.36 192.88,417.01 192.99,416.66 193.10,416.31 193.21,415.96 193.32,415.61 193.43,415.26 193.54,414.91 193.65,414.56 193.76,414.22 193.87,413.88 193.98,413.53 194.09,413.19 194.20,412.85 194.31,412.52 194.42,412.18 194.53,411.85 194.64,411.52 194.75,411.19 194.86,410.86 194.97,410.54 195.08,410.22 195.19,409.90 195.30,409.59 195.41,409.28 195.52,408.97 195.63,408.67 195.74,408.37 195.85,408.07 195.96,407.78 196.07,407.49 196.18,407.21 196.29,406.93 196.40,406.65 196.51,406.38 196.62,406.11 196.73,405.85 196.84,405.60 196.95,405.34 197.06,405.10 197.17,404.85 197.28,404.62 197.39,404.39 197.50,404.16 197.60,403.94 197.71,403.73 197.82,403.52 197.93,403.32 198.04,403.12 198.15,402.93 198.26,402.74 198.37,402.57 198.48,402.39 198.59,402.23 198.70,402.07 198.81,401.92 198.92,401.77 199.03,401.63 199.14,401.50 199.25,401.37 199.36,401.25 199.47,401.14 199.58,401.03 199.69,400.94 199.80,400.84 199.91,400.76 200.02,400.68 200.13,400.61 200.24,400.55 200.35,400.49 200.46,400.45 200.57,400.40 200.68,400.37 200.79,400.34 200.90,400.32 201.01,400.31 201.12,400.31 201.23,400.31 201.34,400.32 201.45,400.34 201.56,400.36 201.67,400.40 201.78,400.44 201.89,400.48 202.00,400.54 202.11,400.60 202.22,400.67 202.33,400.74 202.43,400.83 202.54,400.92 202.65,401.01 202.76,401.12 202.87,401.23 202.98,401.35 203.09,401.47 203.20,401.61 203.31,401.74 203.42,401.89 203.53,402.04 203.64,402.20 203.75,402.37 203.86,402.54 203.97,402.72 204.08,402.90 204.19,403.10 204.30,403.29 204.41,403.50 204.52,403.71 204.63,403.92 204.74,404.14 204.85,404.37 204.96,404.61 205.07,404.84 205.18,405.09 205.29,405.34 205.40,405.59 205.51,405.85 205.62,406.12 205.73,406.39 205.84,406.66 205.95,406.94 206.06,407.23 206.17,407.51 206.28,407.81 206.39,408.10 206.50,408.40 206.61,408.71 206.72,409.02 206.83,409.33 206.94,409.65 207.05,409.97 207.16,410.29 207.27,410.62 207.37,410.94 207.48,411.28 207.59,411.61 207.70,411.95 207.81,412.29 207.92,412.63 208.03,412.97 208.14,413.32 208.25,413.67 208.36,414.02 208.47,414.37 208.58,414.72 208.69,415.08 208.80,415.43 208.91,415.79 209.02,416.14 209.13,416.50 209.24,416.86 209.35,417.22 209.46,417.58 209.57,417.94 209.68,418.29 209.79,418.65 209.90,419.01 210.01,419.37 210.12,419.73 210.23,420.08 210.34,420.44 210.45,420.79 210.56,421.15 210.67,421.50 210.78,421.85 210.89,422.20 211.00,422.54 211.11,422.89 211.22,423.23 211.33,423.57 211.44,423.91 211.55,424.25 211.66,424.58 211.77,424.91 211.88,425.24 211.99,425.56 212.10,425.88 212.21,426.20 212.31,426.52 212.42,426.83 212.53,427.13 212.64,427.44 212.75,427.74 212.86,428.03 212.97,428.33 213.08,428.61 213.19,428.90 213.30,429.18 213.41,429.45 213.52,429.72 213.63,429.98 213.74,430.24 213.85,430.50 213.96,430.75 214.07,431.00 214.18,431.24 214.29,431.47 214.40,431.70 214.51,431.92 214.62,432.14 214.73,432.35 214.84,432.56 214.95,432.76 215.06,432.96 215.17,433.15 215.28,433.33 215.39,433.51 215.50,433.68 215.61,433.85 215.72,434.01 215.83,434.16 215.94,434.31 216.05,434.45 216.16,434.58 216.27,434.71 216.38,434.83 216.49,434.94 216.60,435.05 216.71,435.15 216.82,435.25 216.93,435.34 217.04,435.42 217.15,435.50 217.25,435.57 217.36,435.63 217.47,435.68 217.58,435.73 217.69,435.78 217.80,435.81 217.91,435.84 218.02,435.86 218.13,435.88 218.24,435.89 218.35,435.89 218.46,435.89 218.57,435.88 218.68,435.86 218.79,435.84 218.90,435.81 219.01,435.77 219.12,435.73 219.23,435.68 219.34,435.62 219.45,435.56 219.56,435.49 219.67,435.42 219.78,435.34 219.89,435.25 220.00,435.16 220.11,435.06 220.22,434.96 220.33,434.84 220.44,434.73 220.55,434.61 220.66,434.48 220.77,434.34 220.88,434.20 220.99,434.06 221.10,433.91 221.21,433.75 221.32,433.59 221.43,433.42 221.54,433.25 221.65,433.08 221.76,432.89 221.87,432.71 221.98,432.52 222.09,432.32 222.19,432.12 222.30,431.91 222.41,431.70 222.52,431.49 222.63,431.27 222.74,431.04 222.85,430.82 222.96,430.59 223.07,430.35 223.18,430.11 223.29,429.87 223.40,429.62 223.51,429.37 223.62,429.12 223.73,428.86 223.84,428.60 223.95,428.33 224.06,428.07 224.17,427.80 224.28,427.53 224.39,427.25 224.50,426.97 224.61,426.69 224.72,426.41 224.83,426.12 224.94,425.84 225.05,425.55 225.16,425.25 225.27,424.96 225.38,424.67 225.49,424.37 225.60,424.07 225.71,423.77 225.82,423.47 225.93,423.16 226.04,422.86 226.15,422.56 226.26,422.25 226.37,421.94 226.48,421.63 226.59,421.33 226.70,421.02 226.81,420.71 226.92,420.40 227.03,420.09 227.13,419.78 227.24,419.47 227.35,419.16 227.46,418.85 227.57,418.54 227.68,418.23 227.79,417.92 227.90,417.61 228.01,417.30 228.12,416.99 228.23,416.69 228.34,416.38 228.45,416.08 228.56,415.77 228.67,415.47 228.78,415.17 228.89,414.87 229.00,414.57 229.11,414.28 229.22,413.98 229.33,413.69 229.44,413.39 229.55,413.10 229.66,412.82 229.77,412.53 229.88,412.25 229.99,411.97 230.10,411.69 230.21,411.41 230.32,411.13 230.43,410.86 230.54,410.59 230.65,410.32 230.76,410.06 230.87,409.80 230.98,409.54 231.09,409.28 231.20,409.03 231.31,408.78 231.42,408.53 231.53,408.28 231.64,408.04 231.75,407.80 231.86,407.57 231.97,407.33 232.07,407.11 232.18,406.88 232.29,406.66 232.40,406.44 232.51,406.22 232.62,406.01 232.73,405.80 232.84,405.60 232.95,405.40 233.06,405.20 233.17,405.01 233.28,404.82 233.39,404.63 233.50,404.45 233.61,404.27 233.72,404.09 233.83,403.92 233.94,403.76 234.05,403.59 234.16,403.43 234.27,403.28 234.38,403.13 234.49,402.98 234.60,402.83 234.71,402.69 234.82,402.56 234.93,402.43 235.04,402.30 235.15,402.18 235.26,402.06 235.37,401.94 235.48,401.83 235.59,401.72 235.70,401.62 235.81,401.52 235.92,401.42 236.03,401.33 236.14,401.24 236.25,401.16 236.36,401.08 236.47,401.00 236.58,400.93 236.69,400.86 236.80,400.80 236.91,400.74 237.01,400.69 237.12,400.63 237.23,400.59 237.34,400.54 237.45,400.50 237.56,400.47 237.67,400.43 237.78,400.40 237.89,400.38 238.00,400.36 238.11,400.34 238.22,400.33 238.33,400.32 238.44,400.31 238.55,400.31 238.66,400.31 238.77,400.31 238.88,400.32 238.99,400.33 239.10,400.35 239.21,400.37 239.32,400.39 239.43,400.42 239.54,400.44 239.65,400.48 239.76,400.51 239.87,400.55 239.98,400.59 240.09,400.64 240.20,400.69 240.31,400.74 240.42,400.79 240.53,400.85 240.64,400.91 240.75,400.98 240.86,401.04 240.97,401.11 241.08,401.19 241.19,401.26 241.30,401.34 241.41,401.42 241.52,401.50 241.63,401.59 241.74,401.68 241.85,401.77 241.95,401.86 242.06,401.96 242.17,402.06 242.28,402.16 242.39,402.27 242.50,402.37 242.61,402.48 242.72,402.59 242.83,402.70 242.94,402.82 243.05,402.94 243.16,403.06 243.27,403.18 243.38,403.30 243.49,403.42 243.60,403.55 243.71,403.68 243.82,403.81 243.93,403.94 244.04,404.08 244.15,404.21 244.26,404.35 244.37,404.49 244.48,404.63 244.59,404.78 244.70,404.92 244.81,405.06 244.92,405.21 245.03,405.36 245.14,405.51 245.25,405.66 245.36,405.81 245.47,405.96 245.58,406.12 245.69,406.27 245.80,406.43 245.91,406.59 246.02,406.75 246.13,406.91 246.24,407.07 246.35,407.23 246.46,407.39 246.57,407.55 246.68,407.72 246.79,407.88 246.89,408.04 247.00,408.21 247.11,408.38 247.22,408.54 247.33,408.71 247.44,408.88 247.55,409.05 247.66,409.22 247.77,409.39 247.88,409.55 247.99,409.72 248.10,409.89 248.21,410.07 248.32,410.24 248.43,410.41 248.54,410.58 248.65,410.75 248.76,410.92 248.87,411.09 248.98,411.26 249.09,411.44 249.20,411.61 249.31,411.78 249.42,411.95 249.53,412.12 249.64,412.29 249.75,412.46 249.86,412.64 249.97,412.81 250.08,412.98 250.19,413.15 250.30,413.32 250.41,413.49 250.52,413.66 250.63,413.83 250.74,413.99 250.85,414.16 250.96,414.33 251.07,414.50 251.18,414.67 251.29,414.83 251.40,415.00 251.51,415.16 251.62,415.33 251.73,415.49 251.83,415.66 251.94,415.82 252.05,415.98 252.16,416.15 252.27,416.31 252.38,416.47 252.49,416.63 252.60,416.79 252.71,416.95 252.82,417.11 252.93,417.26 253.04,417.42 253.15,417.58 253.26,417.73 253.37,417.89 253.48,418.04 253.59,418.19 253.70,418.34 253.81,418.49 253.92,418.64 254.03,418.79 254.14,418.94 254.25,419.09 254.36,419.24 254.47,419.38 254.58,419.53 254.69,419.67 254.80,419.81 254.91,419.96 255.02,420.10 255.13,420.24 255.24,420.38 255.35,420.51 255.46,420.65 255.57,420.79 255.68,420.92 255.79,421.06 255.90,421.19 256.01,421.32 256.12,421.45 256.23,421.58 256.34,421.71 256.45,421.84 256.56,421.97 256.67,422.09 256.77,422.22 256.88,422.34 256.99,422.47 257.10,422.59 257.21,422.71 257.32,422.83 257.43,422.95 257.54,423.07 257.65,423.18 257.76,423.30 257.87,423.41 257.98,423.53 258.09,423.64 258.20,423.75 258.31,423.86 258.42,423.97 258.53,424.08 258.64,424.19 258.75,424.29 258.86,424.40 258.97,424.50 259.08,424.60 259.19,424.71 259.30,424.81 259.41,424.91 259.52,425.01 259.63,425.10 259.74,425.20 259.85,425.30 259.96,425.39 260.07,425.48 260.18,425.58 260.29,425.67 260.40,425.76 260.51,425.85 260.62,425.94 260.73,426.02 260.84,426.11 260.95,426.20 261.06,426.28 261.17,426.36 261.28,426.45 261.39,426.53 261.50,426.61 261.61,426.69 261.71,426.77 261.82,426.84 261.93,426.92 262.04,426.99 262.15,427.07 262.26,427.14 262.37,427.22 262.48,427.29 262.59,427.36 262.70,427.43 262.81,427.50 262.92,427.56 263.03,427.63 263.14,427.70 263.25,427.76 263.36,427.83 263.47,427.89 263.58,427.95 263.69,428.01 263.80,428.07 263.91,428.13 264.02,428.19 264.13,428.25 264.24,428.31 264.35,428.36 264.46,428.42 264.57,428.47 264.68,428.52 264.79,428.58 264.90,428.63 265.01,428.68 265.12,428.73 265.23,428.78 265.34,428.83 265.45,428.87 265.56,428.92 265.67,428.97 265.78,429.01 265.89,429.06 266.00,429.10 266.11,429.14 266.22,429.18 266.33,429.22 266.44,429.26 266.55,429.30 266.65,429.34 266.76,429.38 266.87,429.42 266.98,429.45 267.09,429.49 267.20,429.52 267.31,429.56 267.42,429.59 267.53,429.62 267.64,429.65 267.75,429.68 267.86,429.72 267.97,429.74 268.08,429.77 268.19,429.80 268.30,429.83 268.41,429.85 268.52,429.88 268.63,429.91 268.74,429.93 268.85,429.95 268.96,429.98 269.07,430.00 269.18,430.02 269.29,430.04 269.40,430.06 269.51,430.08 269.62,430.10 269.73,430.12 269.84,430.13 269.95,430.15 270.06,430.17 270.17,430.18 270.28,430.20 270.39,430.21 270.50,430.22 270.61,430.24 270.72,430.25 270.83,430.26 270.94,430.27 271.05,430.28 271.16,430.29 271.27,430.30 271.38,430.31 271.49,430.31 271.59,430.32 271.70,430.33 271.81,430.33 271.92,430.34 272.03,430.34 272.14,430.34 272.25,430.35 272.36,430.35 272.47,430.35 272.58,430.35 272.69,430.35 272.80,430.35 272.91,430.35 273.02,430.35 273.13,430.34 273.24,430.34 273.35,430.34 273.46,430.33 273.57,430.33 273.68,430.32 273.79,430.31 273.90,430.31 274.01,430.30 274.12,430.29 274.23,430.28 274.34,430.27 274.45,430.26 274.56,430.25 274.67,430.24 274.78,430.22 274.89,430.21 275.00,430.20 275.11,430.18 275.22,430.17 275.33,430.15 275.44,430.14 275.55,430.12 275.66,430.10 275.77,430.08 275.88,430.06 275.99,430.04 276.10,430.02 276.21,430.00 276.32,429.98 276.42,429.95 276.53,429.93 276.64,429.91 276.75,429.88 276.86,429.86 276.97,429.83 277.08,429.80 277.19,429.77 277.30,429.75 277.41,429.72 277.52,429.69 277.63,429.65 277.74,429.62 277.85,429.59 277.96,429.56 278.07,429.52 278.18,429.49 278.29,429.45 278.40,429.42 278.51,429.38 278.62,429.34 278.73,429.30 278.84,429.26 278.95,429.22 279.06,429.18 279.17,429.14 279.28,429.10 279.39,429.06 279.50,429.01 279.61,428.97 279.72,428.92 279.83,428.88 279.94,428.83 280.05,428.78 280.16,428.73 280.27,428.68 280.38,428.63 280.49,428.58 280.60,428.53 280.71,428.47 280.82,428.42 280.93,428.36 281.04,428.31 281.15,428.25 281.26,428.19 281.36,428.13 281.47,428.07 281.58,428.01 281.69,427.95 281.80,427.89 281.91,427.83 282.02,427.76 282.13,427.70 282.24,427.63 282.35,427.57 282.46,427.50 282.57,427.43 282.68,427.36 282.79,427.29 282.90,427.22 283.01,427.14 283.12,427.07 283.23,427.00 283.34,426.92 283.45,426.84 283.56,426.77 283.67,426.69 283.78,426.61 283.89,426.53 284.00,426.45 284.11,426.37 284.22,426.28 284.33,426.20 284.44,426.11 284.55,426.03 284.66,425.94 284.77,425.85 284.88,425.76 284.99,425.67 285.10,425.58 285.21,425.49 285.32,425.39 285.43,425.30 285.54,425.20 285.65,425.11 285.76,425.01 285.87,424.91 285.98,424.81 286.09,424.71 286.20,424.61 286.30,424.50 286.41,424.40 286.52,424.29 286.63,424.19 286.74,424.08 286.85,423.97 286.96,423.86 287.07,423.75 287.18,423.64 287.29,423.53 287.40,423.42 287.51,423.30 287.62,423.19 287.73,423.07 287.84,422.95 287.95,422.83 288.06,422.71 288.17,422.59 288.28,422.47 288.39,422.35 288.50,422.22 288.61,422.10 288.72,421.97 288.83,421.84 288.94,421.72 289.05,421.59 289.16,421.46 289.27,421.33 289.38,421.19 289.49,421.06 289.60,420.93 289.71,420.79 289.82,420.65 289.93,420.52 290.04,420.38 290.15,420.24 290.26,420.10 290.37,419.96 290.48,419.82 290.59,419.67 290.70,419.53 290.81,419.39 290.92,419.24 291.03,419.09 291.14,418.95 291.24,418.80 291.35,418.65 291.46,418.50 291.57,418.35 291.68,418.19 291.79,418.04 291.90,417.89 292.01,417.73 292.12,417.58 292.23,417.42 292.34,417.27 292.45,417.11 292.56,416.95 292.67,416.79 292.78,416.63 292.89,416.47 293.00,416.31 293.11,416.15 293.22,415.99 293.33,415.83 293.44,415.66 293.55,415.50 293.66,415.33 293.77,415.17 293.88,415.00 293.99,414.84 294.10,414.67 294.21,414.50 294.32,414.34 294.43,414.17 294.54,414.00 294.65,413.83 294.76,413.66 294.87,413.49 294.98,413.32 295.09,413.15 295.20,412.98 295.31,412.81 295.42,412.64 295.53,412.47 295.64,412.30 295.75,412.13 295.86,411.95 295.97,411.78 296.08,411.61 296.18,411.44 296.29,411.27 296.40,411.10 296.51,410.93 296.62,410.75 296.73,410.58 296.84,410.41 296.95,410.24 297.06,410.07 297.17,409.90 297.28,409.73 297.39,409.56 297.50,409.39 297.61,409.22 297.72,409.05 297.83,408.88 297.94,408.71 298.05,408.55 298.16,408.38 298.27,408.21 298.38,408.05 298.49,407.88 298.60,407.72 298.71,407.56 298.82,407.39 298.93,407.23 299.04,407.07 299.15,406.91 299.26,406.75 299.37,406.59 299.48,406.43 299.59,406.28 299.70,406.12 299.81,405.97 299.92,405.81 300.03,405.66 300.14,405.51 300.25,405.36 300.36,405.21 300.47,405.07 300.58,404.92 300.69,404.78 300.80,404.64 300.91,404.50 301.02,404.36 301.12,404.22 301.23,404.08 301.34,403.95 301.45,403.82 301.56,403.68 301.67,403.56 301.78,403.43 301.89,403.30 302.00,403.18 302.11,403.06 302.22,402.94 302.33,402.82 302.44,402.71 302.55,402.59 302.66,402.48 302.77,402.37 302.88,402.27 302.99,402.16 303.10,402.06 303.21,401.96 303.32,401.87 303.43,401.77 303.54,401.68 303.65,401.59 303.76,401.51 303.87,401.42 303.98,401.34 304.09,401.26 304.20,401.19 304.31,401.11 304.42,401.05 304.53,400.98 304.64,400.91 304.75,400.85 304.86,400.80 304.97,400.74 305.08,400.69 305.19,400.64 305.30,400.59 305.41,400.55 305.52,400.51 305.63,400.48 305.74,400.45 305.85,400.42 305.96,400.39 306.06,400.37 306.17,400.35 306.28,400.33 306.39,400.32 306.50,400.31 306.61,400.31 306.72,400.31 306.83,400.31 306.94,400.32 307.05,400.33 307.16,400.34 307.27,400.36 307.38,400.38 307.49,400.40 307.60,400.43 307.71,400.46 307.82,400.50 307.93,400.54 308.04,400.58 308.15,400.63 308.26,400.68 308.37,400.74 308.48,400.80 308.59,400.86 308.70,400.93 308.81,401.00 308.92,401.08 309.03,401.16 309.14,401.24 309.25,401.33 309.36,401.42 309.47,401.51 309.58,401.61 309.69,401.72 309.80,401.83 309.91,401.94 310.02,402.05 310.13,402.17 310.24,402.30 310.35,402.42 310.46,402.56 310.57,402.69 310.68,402.83 310.79,402.97 310.90,403.12 311.00,403.27 311.11,403.43 311.22,403.59 311.33,403.75 311.44,403.92 311.55,404.09 311.66,404.26 311.77,404.44 311.88,404.63 311.99,404.81 312.10,405.00 312.21,405.20 312.32,405.39 312.43,405.59 312.54,405.80 312.65,406.01 312.76,406.22 312.87,406.43 312.98,406.65 313.09,406.87 313.20,407.10 313.31,407.33 313.42,407.56 313.53,407.80 313.64,408.03 313.75,408.28 313.86,408.52 313.97,408.77 314.08,409.02 314.19,409.27 314.30,409.53 314.41,409.79 314.52,410.05 314.63,410.32 314.74,410.58 314.85,410.85 314.96,411.13 315.07,411.40 315.18,411.68 315.29,411.96 315.40,412.24 315.51,412.52 315.62,412.81 315.73,413.10 315.84,413.39 315.94,413.68 316.05,413.97 316.16,414.27 316.27,414.56 316.38,414.86 316.49,415.16 316.60,415.46 316.71,415.77 316.82,416.07 316.93,416.37 317.04,416.68 317.15,416.99 317.26,417.29 317.37,417.60 317.48,417.91 317.59,418.22 317.70,418.53 317.81,418.84 317.92,419.15 318.03,419.46 318.14,419.77 318.25,420.08 318.36,420.39 318.47,420.70 318.58,421.01 318.69,421.32 318.80,421.63 318.91,421.93 319.02,422.24 319.13,422.55 319.24,422.85 319.35,423.16 319.46,423.46 319.57,423.76 319.68,424.06 319.79,424.36 319.90,424.66 320.01,424.95 320.12,425.25 320.23,425.54 320.34,425.83 320.45,426.12 320.56,426.40 320.67,426.69 320.78,426.97 320.88,427.24 320.99,427.52 321.10,427.79 321.21,428.06 321.32,428.33 321.43,428.59 321.54,428.85 321.65,429.11 321.76,429.36 321.87,429.61 321.98,429.86 322.09,430.10 322.20,430.34 322.31,430.58 322.42,430.81 322.53,431.04 322.64,431.26 322.75,431.48 322.86,431.70 322.97,431.91 323.08,432.11 323.19,432.31 323.30,432.51 323.41,432.70 323.52,432.89 323.63,433.07 323.74,433.25 323.85,433.42 323.96,433.59 324.07,433.75 324.18,433.90 324.29,434.06 324.40,434.20 324.51,434.34 324.62,434.47 324.73,434.60 324.84,434.73 324.95,434.84 325.06,434.95 325.17,435.06 325.28,435.16 325.39,435.25 325.50,435.34 325.61,435.42 325.72,435.49 325.82,435.56 325.93,435.62 326.04,435.68 326.15,435.73 326.26,435.77 326.37,435.81 326.48,435.84 326.59,435.86 326.70,435.88 326.81,435.89 326.92,435.89 327.03,435.89 327.14,435.88 327.25,435.86 327.36,435.84 327.47,435.81 327.58,435.78 327.69,435.73 327.80,435.69 327.91,435.63 328.02,435.57 328.13,435.50 328.24,435.42 328.35,435.34 328.46,435.25 328.57,435.16 328.68,435.06 328.79,434.95 328.90,434.83 329.01,434.71 329.12,434.58 329.23,434.45 329.34,434.31 329.45,434.16 329.56,434.01 329.67,433.85 329.78,433.68 329.89,433.51 330.00,433.34 330.11,433.15 330.22,432.96 330.33,432.77 330.44,432.57 330.55,432.36 330.66,432.15 330.76,431.93 330.87,431.70 330.98,431.48 331.09,431.24 331.20,431.00 331.31,430.76 331.42,430.51 331.53,430.25 331.64,429.99 331.75,429.73 331.86,429.46 331.97,429.18 332.08,428.90 332.19,428.62 332.30,428.33 332.41,428.04 332.52,427.74 332.63,427.45 332.74,427.14 332.85,426.83 332.96,426.52 333.07,426.21 333.18,425.89 333.29,425.57 333.40,425.24 333.51,424.92 333.62,424.59 333.73,424.25 333.84,423.92 333.95,423.58 334.06,423.24 334.17,422.90 334.28,422.55 334.39,422.21 334.50,421.86 334.61,421.51 334.72,421.15 334.83,420.80 334.94,420.45 335.05,420.09 335.16,419.74 335.27,419.38 335.38,419.02 335.49,418.66 335.60,418.30 335.70,417.94 335.81,417.59 335.92,417.23 336.03,416.87 336.14,416.51 336.25,416.15 336.36,415.80 336.47,415.44 336.58,415.08 336.69,414.73 336.80,414.38 336.91,414.03 337.02,413.68 337.13,413.33 337.24,412.98 337.35,412.64 337.46,412.30 337.57,411.96 337.68,411.62 337.79,411.28 337.90,410.95 338.01,410.62 338.12,410.30 338.23,409.97 338.34,409.66 338.45,409.34 338.56,409.03 338.67,408.72 338.78,408.41 338.89,408.11 339.00,407.81 339.11,407.52 339.22,407.23 339.33,406.95 339.44,406.67 339.55,406.39 339.66,406.12 339.77,405.86 339.88,405.60 339.99,405.34 340.10,405.09 340.21,404.85 340.32,404.61 340.43,404.38 340.54,404.15 340.64,403.93 340.75,403.71 340.86,403.50 340.97,403.30 341.08,403.10 341.19,402.91 341.30,402.72 341.41,402.54 341.52,402.37 341.63,402.21 341.74,402.05 341.85,401.89 341.96,401.75 342.07,401.61 342.18,401.48 342.29,401.35 342.40,401.23 342.51,401.12 342.62,401.02 342.73,400.92 342.84,400.83 342.95,400.74 343.06,400.67 343.17,400.60 343.28,400.54 343.39,400.48 343.50,400.44 343.61,400.40 343.72,400.36 343.83,400.34 343.94,400.32 344.05,400.31 344.16,400.31 344.27,400.31 344.38,400.32 344.49,400.34 344.60,400.37 344.71,400.40 344.82,400.44 344.93,400.49 345.04,400.55 345.15,400.61 345.26,400.68 345.37,400.76 345.48,400.84 345.58,400.93 345.69,401.03 345.80,401.14 345.91,401.25 346.02,401.37 346.13,401.49 346.24,401.63 346.35,401.77 346.46,401.91 346.57,402.06 346.68,402.22 346.79,402.39 346.90,402.56 347.01,402.74 347.12,402.92 347.23,403.11 347.34,403.31 347.45,403.51 347.56,403.72 347.67,403.94 347.78,404.16 347.89,404.38 348.00,404.61 348.11,404.85 348.22,405.09 348.33,405.34 348.44,405.59 348.55,405.85 348.66,406.11 348.77,406.37 348.88,406.65 348.99,406.92 349.10,407.20 349.21,407.48 349.32,407.77 349.43,408.07 349.54,408.36 349.65,408.66 349.76,408.97 349.87,409.27 349.98,409.58 350.09,409.90 350.20,410.21 350.31,410.53 350.41,410.86 350.52,411.18 350.63,411.51 350.74,411.84 350.85,412.17 350.96,412.51 351.07,412.85 351.18,413.18 351.29,413.53 351.40,413.87 351.51,414.21 351.62,414.56 351.73,414.90 351.84,415.25 351.95,415.60 352.06,415.95 352.17,416.30 352.28,416.65 352.39,417.00 352.50,417.35 352.61,417.70 352.72,418.05 352.83,418.40 352.94,418.75 353.05,419.10 353.16,419.45 353.27,419.80 353.38,420.14 353.49,420.49 353.60,420.84 353.71,421.18 353.82,421.52 353.93,421.86 354.04,422.20 354.15,422.54 354.26,422.88 354.37,423.21 354.48,423.54 354.59,423.87 354.70,424.20 354.81,424.52 354.92,424.84 355.03,425.16 355.14,425.48 355.25,425.79 355.35,426.10 355.46,426.40 355.57,426.71 355.68,427.01 355.79,427.30 355.90,427.59 356.01,427.88 356.12,428.17 356.23,428.45 356.34,428.72 356.45,428.99 356.56,429.26 356.67,429.53 356.78,429.79 356.89,430.04 357.00,430.29 357.11,430.54 357.22,430.78 357.33,431.01 357.44,431.24 357.55,431.47 357.66,431.69 357.77,431.91 357.88,432.12 357.99,432.32 358.10,432.52 358.21,432.72 358.32,432.90 358.43,433.09 358.54,433.27 358.65,433.44 358.76,433.61 358.87,433.77 358.98,433.92 359.09,434.07 359.20,434.22 359.31,434.36 359.42,434.49 359.53,434.61 359.64,434.74 359.75,434.85 359.86,434.96 359.97,435.06 360.08,435.16 360.19,435.25 360.29,435.33 360.40,435.41 360.51,435.49 360.62,435.55 360.73,435.61 360.84,435.67 360.95,435.72 361.06,435.76 361.17,435.80 361.28,435.83 361.39,435.85 361.50,435.87 361.61,435.88 361.72,435.89 361.83,435.89 361.94,435.89 362.05,435.88 362.16,435.86 362.27,435.84 362.38,435.81 362.49,435.77 362.60,435.73 362.71,435.69 362.82,435.64 362.93,435.58 363.04,435.52 363.15,435.45 363.26,435.37 363.37,435.30 363.48,435.21 363.59,435.12 363.70,435.03 363.81,434.93 363.92,434.82 364.03,434.71 364.14,434.59 364.25,434.47 364.36,434.35 364.47,434.22 364.58,434.08 364.69,433.94 364.80,433.80 364.91,433.65 365.02,433.49 365.13,433.33 365.23,433.17 365.34,433.00 365.45,432.83 365.56,432.66 365.67,432.48 365.78,432.29 365.89,432.10 366.00,431.91 366.11,431.72 366.22,431.52 366.33,431.31 366.44,431.11 366.55,430.90 366.66,430.68 366.77,430.47 366.88,430.24 366.99,430.02 367.10,429.79 367.21,429.57 367.32,429.33 367.43,429.10 367.54,428.86 367.65,428.62 367.76,428.37 367.87,428.13 367.98,427.88 368.09,427.63 368.20,427.38 368.31,427.12 368.42,426.86 368.53,426.61 368.64,426.34 368.75,426.08 368.86,425.82 368.97,425.55 369.08,425.28 369.19,425.01 369.30,424.74 369.41,424.47 369.52,424.20 369.63,423.92 369.74,423.65 369.85,423.37 369.96,423.09 370.07,422.82 370.17,422.54 370.28,422.26 370.39,421.98 370.50,421.70 370.61,421.42 370.72,421.14 370.83,420.86 370.94,420.57 371.05,420.29 371.16,420.01 371.27,419.73 371.38,419.45 371.49,419.17 371.60,418.89 371.71,418.61 371.82,418.33 371.93,418.05 372.04,417.77 372.15,417.49 372.26,417.21 372.37,416.94 372.48,416.66 372.59,416.39 372.70,416.11 372.81,415.84 372.92,415.57 373.03,415.30 373.14,415.03 373.25,414.76 373.36,414.49 373.47,414.23 373.58,413.96 373.69,413.70 373.80,413.44 373.91,413.18 374.02,412.93 374.13,412.67 374.24,412.42 374.35,412.17 374.46,411.92 374.57,411.67 374.68,411.42 374.79,411.18 374.90,410.94 375.01,410.70 375.11,410.46 375.22,410.22 375.33,409.99 375.44,409.76 375.55,409.53 375.66,409.31 375.77,409.08 375.88,408.86 375.99,408.64 376.10,408.43 376.21,408.21 376.32,408.00 376.43,407.79 376.54,407.59 376.65,407.39 376.76,407.19 376.87,406.99 376.98,406.79 377.09,406.60 377.20,406.41 377.31,406.22 377.42,406.04 377.53,405.86 377.64,405.68 377.75,405.51 377.86,405.33 377.97,405.16 378.08,405.00 378.19,404.83 378.30,404.67 378.41,404.51 378.52,404.36 378.63,404.21 378.74,404.06 378.85,403.91 378.96,403.77 379.07,403.63 379.18,403.49 379.29,403.36 379.40,403.23 379.51,403.10 379.62,402.97 379.73,402.85 379.84,402.73 379.95,402.62 380.05,402.50 380.16,402.39 380.27,402.29 380.38,402.18 380.49,402.08 380.60,401.98 380.71,401.89 380.82,401.80 380.93,401.71 381.04,401.62 381.15,401.54 381.26,401.46 381.37,401.38 381.48,401.30 381.59,401.23 381.70,401.16 381.81,401.10 381.92,401.03 382.03,400.97 382.14,400.91 382.25,400.86 382.36,400.81 382.47,400.76 382.58,400.71 382.69,400.67 382.80,400.62 382.91,400.59 383.02,400.55 383.13,400.52 383.24,400.48 383.35,400.46 383.46,400.43 383.57,400.41 383.68,400.39 383.79,400.37 383.90,400.35 384.01,400.34 384.12,400.33 384.23,400.32 384.34,400.31 384.45,400.31 384.56,400.31 384.67,400.31 384.78,400.31 384.89,400.32 384.99,400.33 385.10,400.33 385.21,400.35 385.32,400.36 385.43,400.38 385.54,400.40 385.65,400.42 385.76,400.44 385.87,400.46 385.98,400.49 386.09,400.52 386.20,400.55 386.31,400.58 386.42,400.61 386.53,400.65 386.64,400.69 386.75,400.73 386.86,400.77 386.97,400.81 387.08,400.85 387.19,400.90 387.30,400.95 387.41,401.00 387.52,401.05 387.63,401.10 387.74,401.16 387.85,401.21 387.96,401.27 388.07,401.33 388.18,401.39 388.29,401.45 388.40,401.51 388.51,401.57 388.62,401.64 388.73,401.71 388.84,401.77 388.95,401.84 389.06,401.91 389.17,401.98 389.28,402.06 389.39,402.13 389.50,402.21 389.61,402.28 389.72,402.36 389.83,402.44 389.93,402.51 390.04,402.59 390.15,402.67 390.26,402.75 390.37,402.84 390.48,402.92 390.59,403.00 390.70,403.09 390.81,403.17 390.92,403.26 391.03,403.35 391.14,403.43 391.25,403.52 391.36,403.61 391.47,403.70 391.58,403.79 391.69,403.88 391.80,403.97 391.91,404.06 392.02,404.15 392.13,404.25 392.24,404.34 392.35,404.43 392.46,404.53 392.57,404.62 392.68,404.71 392.79,404.81 392.90,404.90 393.01,405.00 393.12,405.10 393.23,405.19 393.34,405.29 393.45,405.38 393.56,405.48 393.67,405.58 393.78,405.67 393.89,405.77 394.00,405.87 394.11,405.96 394.22,406.06 394.33,406.16 394.44,406.25 394.55,406.35 394.66,406.45 394.77,406.54 394.87,406.64 394.98,406.74 395.09,406.84 395.20,406.93 395.31,407.03 395.42,407.12 395.53,407.22 395.64,407.32 395.75,407.41 395.86,407.51 395.97,407.60 396.08,407.70 396.19,407.79 396.30,407.89 396.41,407.98 396.52,408.08 396.63,408.17 396.74,408.27 396.85,408.36 396.96,408.45 397.07,408.54 397.18,408.64 397.29,408.73 397.40,408.82 397.51,408.91 397.62,409.00 397.73,409.09 397.84,409.18 397.95,409.27 398.06,409.36 398.17,409.45 398.28,409.54 398.39,409.62 398.50,409.71 398.61,409.80 398.72,409.88 398.83,409.97 398.94,410.05 399.05,410.14 399.16,410.22 399.27,410.30 399.38,410.39 399.49,410.47 399.60,410.55 399.71,410.63 399.81,410.71 399.92,410.79 400.03,410.87 400.14,410.95 400.25,411.02 400.36,411.10 400.47,411.18 400.58,411.25 400.69,411.33 400.80,411.40 400.91,411.48 401.02,411.55 401.13,411.62 401.24,411.69 401.35,411.76 401.46,411.83 401.57,411.90 401.68,411.97 401.79,412.04 401.90,412.11 402.01,412.17 402.12,412.24 402.23,412.30 402.34,412.37 402.45,412.43 402.56,412.49 402.67,412.55 402.78,412.62 402.89,412.68 403.00,412.74 403.11,412.79 403.22,412.85 403.33,412.91 403.44,412.97 403.55,413.02 403.66,413.08 403.77,413.13 403.88,413.18 403.99,413.24 404.10,413.29 404.21,413.34 404.32,413.39 404.43,413.44 404.54,413.49 404.65,413.53 404.75,413.58 404.86,413.62 404.97,413.67 405.08,413.71 405.19,413.76 405.30,413.80 405.41,413.84 405.52,413.88 405.63,413.92 405.74,413.96 405.85,414.00 405.96,414.04 406.07,414.07 406.18,414.11 406.29,414.14 406.40,414.18 406.51,414.21 406.62,414.24 406.73,414.27 406.84,414.30 406.95,414.33 407.06,414.36 407.17,414.39 407.28,414.42 407.39,414.44 407.50,414.47 407.61,414.49 407.72,414.51 407.83,414.54 407.94,414.56 408.05,414.58 408.16,414.60 408.27,414.62 408.38,414.64 408.49,414.65 408.60,414.67 408.71,414.68 408.82,414.70 408.93,414.71 409.04,414.73 409.15,414.74 409.26,414.75 409.37,414.76 409.48,414.77 409.59,414.78 409.69,414.78 409.80,414.79 409.91,414.80 410.02,414.80 410.13,414.80 410.24,414.81 410.35,414.81 410.46,414.81 410.57,414.81 410.68,414.81 410.79,414.81 410.90,414.81 411.01,414.80 411.12,414.80 411.23,414.79 411.34,414.79 411.45,414.78 411.56,414.77 411.67,414.76 411.78,414.75 411.89,414.74 412.00,414.73 412.11,414.72 412.22,414.71 412.33,414.69 412.44,414.68 412.55,414.66 412.66,414.65 412.77,414.63 412.88,414.61 412.99,414.59 413.10,414.57 413.21,414.55 413.32,414.53 413.43,414.51 413.54,414.48 413.65,414.46 413.76,414.43 413.87,414.41 413.98,414.38 414.09,414.35 414.20,414.32 414.31,414.29 414.42,414.26 414.53,414.23 414.63,414.20 414.74,414.16 414.85,414.13 414.96,414.10 415.07,414.06 415.18,414.02 415.29,413.99 415.40,413.95 415.51,413.91 415.62,413.87 415.73,413.83 415.84,413.79 415.95,413.74 416.06,413.70 416.17,413.65 416.28,413.61 416.39,413.56 416.50,413.52 416.61,413.47 416.72,413.42 416.83,413.37 416.94,413.32 417.05,413.27 417.16,413.22 417.27,413.17 417.38,413.11 417.49,413.06 417.60,413.00 417.71,412.95 417.82,412.89 417.93,412.83 418.04,412.78 418.15,412.72 418.26,412.66 418.37,412.60 418.48,412.53 418.59,412.47 418.70,412.41 418.81,412.35 418.92,412.28 419.03,412.22 419.14,412.15 419.25,412.08 419.36,412.02 419.47,411.95 419.57,411.88 419.68,411.81 419.79,411.74 419.90,411.67 420.01,411.60 420.12,411.52 420.23,411.45 420.34,411.38 420.45,411.30 420.56,411.23 420.67,411.15 420.78,411.08 420.89,411.00 421.00,410.92 421.11,410.84 421.22,410.76 421.33,410.68 421.44,410.60 421.55,410.52 421.66,410.44 421.77,410.36 421.88,410.28 421.99,410.19 422.10,410.11 422.21,410.02 422.32,409.94 422.43,409.85 422.54,409.77 422.65,409.68 422.76,409.59 422.87,409.51 422.98,409.42 423.09,409.33 423.20,409.24 423.31,409.15 423.42,409.06 423.53,408.97 423.64,408.88 423.75,408.79 423.86,408.70 423.97,408.61 424.08,408.51 424.19,408.42 424.30,408.33 424.40,408.23 424.51,408.14 424.62,408.05 424.73,407.95 424.84,407.86 424.95,407.76 425.06,407.67 425.17,407.57 425.28,407.48 425.39,407.38 425.50,407.29 425.61,407.19 425.72,407.09 425.83,407.00 425.94,406.90 426.05,406.80 426.16,406.71 426.27,406.61 426.38,406.51 426.49,406.42 426.60,406.32 426.71,406.22 426.82,406.12 426.93,406.03 427.04,405.93 427.15,405.83 427.26,405.74 427.37,405.64 427.48,405.54 427.59,405.45 427.70,405.35 427.81,405.26 427.92,405.16 428.03,405.06 428.14,404.97 428.25,404.87 428.36,404.78 428.47,404.68 428.58,404.59 428.69,404.50 428.80,404.40 428.91,404.31 429.02,404.22 429.13,404.12 429.24,404.03 429.34,403.94 429.45,403.85 429.56,403.76 429.67,403.67 429.78,403.58 429.89,403.49 430.00,403.41 430.11,403.32 430.22,403.23 430.33,403.15 430.44,403.06 430.55,402.98 430.66,402.89 430.77,402.81 430.88,402.73 430.99,402.65 431.10,402.57 431.21,402.49 431.32,402.41 431.43,402.33 431.54,402.26 431.65,402.18 431.76,402.11 431.87,402.03 431.98,401.96 432.09,401.89 432.20,401.82 432.31,401.75 432.42,401.68 432.53,401.62 432.64,401.55 432.75,401.49 432.86,401.43 432.97,401.37 433.08,401.31 433.19,401.25 433.30,401.19 433.41,401.14 433.52,401.08 433.63,401.03 433.74,400.98 433.85,400.93 433.96,400.89 434.07,400.84 434.18,400.80 434.28,400.75 434.39,400.71 434.50,400.67 434.61,400.64 434.72,400.60 434.83,400.57 434.94,400.54 435.05,400.51 435.16,400.48 435.27,400.45 435.38,400.43 435.49,400.41 435.60,400.39 435.71,400.37 435.82,400.36 435.93,400.34 436.04,400.33 436.15,400.32 436.26,400.32 436.37,400.31 436.48,400.31 436.59,400.31 436.70,400.31 436.81,400.32 436.92,400.32 437.03,400.33 437.14,400.34 437.25,400.36 437.36,400.37 437.47,400.39 437.58,400.41 437.69,400.44 437.80,400.47 437.91,400.49 438.02,400.53 438.13,400.56 438.24,400.60 438.35,400.64 438.46,400.68 438.57,400.73 438.68,400.77 438.79,400.82 438.90,400.88 439.01,400.93 439.12,400.99 439.22,401.05 439.33,401.12 439.44,401.18 439.55,401.25 439.66,401.33 439.77,401.40 439.88,401.48 439.99,401.56 440.10,401.65 440.21,401.74 440.32,401.83 440.43,401.92 440.54,402.02 440.65,402.12 440.76,402.22 440.87,402.32 440.98,402.43 441.09,402.54 441.20,402.66 441.31,402.77 441.42,402.89 441.53,403.02 441.64,403.14 441.75,403.27 441.86,403.40 441.97,403.54 442.08,403.68 442.19,403.82 442.30,403.96 442.41,404.11 442.52,404.26 442.63,404.41 442.74,404.57 442.85,404.73 442.96,404.89 443.07,405.05 443.18,405.22 443.29,405.39 443.40,405.56 443.51,405.74 443.62,405.92 443.73,406.10 443.84,406.29 443.95,406.47 444.06,406.66 444.16,406.86 444.27,407.05 444.38,407.25 444.49,407.45 444.60,407.66 444.71,407.86 444.82,408.07 444.93,408.28 445.04,408.50 445.15,408.72 445.26,408.93 445.37,409.16 445.48,409.38 445.59,409.61 445.70,409.84 445.81,410.07 445.92,410.30 446.03,410.54 446.14,410.78 446.25,411.02 446.36,411.26 446.47,411.50 446.58,411.75 446.69,412.00 446.80,412.25 446.91,412.50 447.02,412.75 447.13,413.01 447.24,413.27 447.35,413.53 447.46,413.79 447.57,414.05 447.68,414.32 447.79,414.58 447.90,414.85 448.01,415.12 448.12,415.39 448.23,415.66 448.34,415.93 448.45,416.20 448.56,416.48 448.67,416.75 448.78,417.03 448.89,417.30 449.00,417.58 449.10,417.86 449.21,418.14 449.32,418.42 449.43,418.70 449.54,418.98 449.65,419.26 449.76,419.54 449.87,419.82 449.98,420.10 450.09,420.39 450.20,420.67 450.31,420.95 450.42,421.23 450.53,421.51 450.64,421.79 450.75,422.07 450.86,422.35 450.97,422.63 451.08,422.91 451.19,423.19 451.30,423.46 451.41,423.74 451.52,424.01 451.63,424.29 451.74,424.56 451.85,424.83 451.96,425.10 452.07,425.37 452.18,425.64 452.29,425.90 452.40,426.17 452.51,426.43 452.62,426.69 452.73,426.95 452.84,427.21 452.95,427.46 453.06,427.71 453.17,427.96 453.28,428.21 453.39,428.46 453.50,428.70 453.61,428.94 453.72,429.18 453.83,429.41 453.94,429.64 454.04,429.87 454.15,430.10 454.26,430.32 454.37,430.54 454.48,430.75 454.59,430.97 454.70,431.18 454.81,431.38 454.92,431.58 455.03,431.78 455.14,431.98 455.25,432.17 455.36,432.35 455.47,432.54 455.58,432.71 455.69,432.89 455.80,433.06 455.91,433.23 456.02,433.39 456.13,433.54 456.24,433.70 456.35,433.84 456.46,433.99 456.57,434.13 456.68,434.26 456.79,434.39 456.90,434.51 457.01,434.63 457.12,434.75 457.23,434.86 457.34,434.96 457.45,435.06 457.56,435.15 457.67,435.24 457.78,435.32 457.89,435.40 458.00,435.47 458.11,435.54 458.22,435.60 458.33,435.65 458.44,435.70 458.55,435.75 458.66,435.79 458.77,435.82 458.88,435.84 458.98,435.86 459.09,435.88 459.20,435.89 459.31,435.89 459.42,435.89 459.53,435.88 459.64,435.87 459.75,435.84 459.86,435.82 459.97,435.79 460.08,435.75 460.19,435.70 460.30,435.65 460.41,435.59 460.52,435.53 460.63,435.46 460.74,435.39 460.85,435.31 460.96,435.22 461.07,435.13 461.18,435.03 461.29,434.92 461.40,434.81 461.51,434.70 461.62,434.57 461.73,434.45 461.84,434.31 461.95,434.17 462.06,434.02 462.17,433.87 462.28,433.72 462.39,433.55 462.50,433.38 462.61,433.21 462.72,433.03 462.83,432.84 462.94,432.65 463.05,432.46 463.16,432.25 463.27,432.05 463.38,431.83 463.49,431.62 463.60,431.39 463.71,431.17 463.82,430.93 463.92,430.70 464.03,430.46 464.14,430.21 464.25,429.96 464.36,429.70 464.47,429.44 464.58,429.17 464.69,428.91 464.80,428.63 464.91,428.35 465.02,428.07 465.13,427.79 465.24,427.50 465.35,427.20 465.46,426.91 465.57,426.61 465.68,426.30 465.79,426.00 465.90,425.68 466.01,425.37 466.12,425.05 466.23,424.74 466.34,424.41 466.45,424.09 466.56,423.76 466.67,423.43 466.78,423.10 466.89,422.77 467.00,422.43 467.11,422.09 467.22,421.75 467.33,421.41 467.44,421.07 467.55,420.72 467.66,420.38 467.77,420.03 467.88,419.68 467.99,419.33 468.10,418.98 468.21,418.63 468.32,418.28 468.43,417.93 468.54,417.58 468.65,417.23 468.76,416.88 468.86,416.53 468.97,416.18 469.08,415.83 469.19,415.48 469.30,415.14 469.41,414.79 469.52,414.44 469.63,414.10 469.74,413.75 469.85,413.41 469.96,413.07 470.07,412.73 470.18,412.40 470.29,412.06 470.40,411.73 470.51,411.40 470.62,411.07 470.73,410.75 470.84,410.43 470.95,410.11 471.06,409.79 471.17,409.48 471.28,409.17 471.39,408.86 471.50,408.56 471.61,408.26 471.72,407.97 471.83,407.68 471.94,407.39 472.05,407.11 472.16,406.83 472.27,406.56 472.38,406.29 472.49,406.02 472.60,405.76 472.71,405.51 472.82,405.26 472.93,405.01 473.04,404.77 473.15,404.54 473.26,404.31 473.37,404.08 473.48,403.86 473.59,403.65 473.70,403.45 473.80,403.25 473.91,403.05 474.02,402.86 474.13,402.68 474.24,402.50 474.35,402.33 474.46,402.17 474.57,402.01 474.68,401.86 474.79,401.72 474.90,401.58 475.01,401.45 475.12,401.33 475.23,401.21 475.34,401.10 475.45,401.00 475.56,400.90 475.67,400.81 475.78,400.73 475.89,400.66 476.00,400.59 476.11,400.53 476.22,400.48 476.33,400.43 476.44,400.39 476.55,400.36 476.66,400.34 476.77,400.32 476.88,400.31 476.99,400.31 477.10,400.31 477.21,400.33 477.32,400.35 477.43,400.37 477.54,400.41 477.65,400.45 477.76,400.50 477.87,400.56 477.98,400.62 478.09,400.69 478.20,400.77 478.31,400.86 478.42,400.95 478.53,401.05 478.64,401.16 478.74,401.27 478.85,401.39 478.96,401.52 479.07,401.65 479.18,401.80 479.29,401.94 479.40,402.10 479.51,402.26 479.62,402.43 479.73,402.60 479.84,402.78 479.95,402.97 480.06,403.17 480.17,403.37 480.28,403.57 480.39,403.78 480.50,404.00 480.61,404.22 480.72,404.45 480.83,404.69 480.94,404.93 481.05,405.18 481.16,405.43 481.27,405.68 481.38,405.95 481.49,406.21 481.60,406.48 481.71,406.76 481.82,407.04 481.93,407.33 482.04,407.62 482.15,407.91 482.26,408.21 482.37,408.51 482.48,408.82 482.59,409.13 482.70,409.44 482.81,409.76 482.92,410.08 483.03,410.40 483.14,410.73 483.25,411.06 483.36,411.39 483.47,411.73 483.58,412.07 483.68,412.41 483.79,412.75 483.90,413.10 484.01,413.44 484.12,413.79 484.23,414.14 484.34,414.49 484.45,414.85 484.56,415.20 484.67,415.56 484.78,415.91 484.89,416.27 485.00,416.63 485.11,416.99 485.22,417.35 485.33,417.70 485.44,418.06 485.55,418.42 485.66,418.78 485.77,419.14 485.88,419.50 485.99,419.85 486.10,420.21 486.21,420.56 486.32,420.92 486.43,421.27 486.54,421.62 486.65,421.97 486.76,422.32 486.87,422.67 486.98,423.01 487.09,423.35 487.20,423.69 487.31,424.03 487.42,424.36 487.53,424.70 487.64,425.03 487.75,425.35 487.86,425.68 487.97,426.00 488.08,426.31 488.19,426.63 488.30,426.94 488.41,427.24 488.52,427.54 488.62,427.84 488.73,428.14 488.84,428.43 488.95,428.71 489.06,429.00 489.17,429.27 489.28,429.55 489.39,429.81 489.50,430.08 489.61,430.34 489.72,430.59 489.83,430.84 489.94,431.08 490.05,431.32 490.16,431.55 490.27,431.78 490.38,432.00 490.49,432.22 490.60,432.43 490.71,432.63 490.82,432.83 490.93,433.03 491.04,433.21 491.15,433.40 491.26,433.57 491.37,433.74 491.48,433.90 491.59,434.06 491.70,434.21 491.81,434.36 491.92,434.49 492.03,434.63 492.14,434.75 492.25,434.87 492.36,434.98 492.47,435.09 492.58,435.19 492.69,435.28 492.80,435.37 492.91,435.45 493.02,435.52 493.13,435.59 493.24,435.65 493.35,435.70 493.46,435.75 493.56,435.79 493.67,435.82 493.78,435.85 493.89,435.87 494.00,435.88 494.11,435.89 494.22,435.89 494.33,435.88 494.44,435.87 494.55,435.85 494.66,435.83 494.77,435.80 494.88,435.76 494.99,435.71 495.10,435.66 495.21,435.60 495.32,435.54 495.43,435.47 495.54,435.39 495.65,435.31 495.76,435.22 495.87,435.12 495.98,435.02 496.09,434.92 496.20,434.80 496.31,434.69 496.42,434.56 496.53,434.43 496.64,434.29 496.75,434.15 496.86,434.01 496.97,433.85 497.08,433.70 497.19,433.53 497.30,433.36 497.41,433.19 497.52,433.01 497.63,432.83 497.74,432.64 497.85,432.45 497.96,432.25 498.07,432.05 498.18,431.84 498.29,431.63 498.39,431.41 498.50,431.19 498.61,430.96 498.72,430.74 498.83,430.50 498.94,430.27 499.05,430.02 499.16,429.78 499.27,429.53 499.38,429.28 499.49,429.03 499.60,428.77 499.71,428.51 499.82,428.24 499.93,427.97 500.04,427.70 500.15,427.43 500.26,427.15 500.37,426.87 500.48,426.59 500.59,426.31 500.70,426.02 500.81,425.73 500.92,425.44 501.03,425.15 501.14,424.86 501.25,424.56 501.36,424.26 501.47,423.96 501.58,423.66 501.69,423.36 501.80,423.06 501.91,422.75 502.02,422.45 502.13,422.14 502.24,421.83 502.35,421.53 502.46,421.22 502.57,420.91 502.68,420.60 502.79,420.29 502.90,419.98 503.01,419.67 503.12,419.36 503.23,419.05 503.33,418.74 503.44,418.43 503.55,418.12 503.66,417.81 503.77,417.50 503.88,417.19 503.99,416.89 504.10,416.58 504.21,416.27 504.32,415.97 504.43,415.67 504.54,415.36 504.65,415.06 504.76,414.76 504.87,414.47 504.98,414.17 505.09,413.88 505.20,413.58 505.31,413.29 505.42,413.00 505.53,412.72 505.64,412.43 505.75,412.15 505.86,411.87 505.97,411.59 506.08,411.31 506.19,411.04 506.30,410.76 506.41,410.50 506.52,410.23 506.63,409.96 506.74,409.70 506.85,409.45 506.96,409.19 507.07,408.94 507.18,408.69 507.29,408.44 507.40,408.20 507.51,407.96 507.62,407.72 507.73,407.48 507.84,407.25 507.95,407.03 508.06,406.80 508.17,406.58 508.27,406.36 508.38,406.15 508.49,405.94 508.60,405.73 508.71,405.53 508.82,405.33 508.93,405.13 509.04,404.94 509.15,404.75 509.26,404.57 509.37,404.38 509.48,404.21 509.59,404.03 509.70,403.86 509.81,403.70 509.92,403.54 510.03,403.38 510.14,403.22 510.25,403.07 510.36,402.93 510.47,402.78 510.58,402.65 510.69,402.51 510.80,402.38 510.91,402.25 511.02,402.13 511.13,402.01 511.24,401.90 511.35,401.79 511.46,401.68 511.57,401.58 511.68,401.48 511.79,401.39 511.90,401.30 512.01,401.21 512.12,401.13 512.23,401.05 512.34,400.98 512.45,400.91 512.56,400.84 512.67,400.78 512.78,400.72 512.89,400.67 513.00,400.62 513.11,400.57 513.21,400.53 513.32,400.49 513.43,400.45 513.54,400.42 513.65,400.39 513.76,400.37 513.87,400.35 513.98,400.34 514.09,400.32 514.20,400.31 514.31,400.31 514.42,400.31 514.53,400.31 514.64,400.32 514.75,400.33 514.86,400.34 514.97,400.36 515.08,400.38 515.19,400.40 515.30,400.43 515.41,400.46 515.52,400.49 515.63,400.53 515.74,400.57 515.85,400.61 515.96,400.66 516.07,400.71 516.18,400.76 516.29,400.81 516.40,400.87 516.51,400.94 516.62,401.00 516.73,401.07 516.84,401.14 516.95,401.21 517.06,401.29 517.17,401.37 517.28,401.45 517.39,401.53 517.50,401.62 517.61,401.71 517.72,401.80 517.83,401.90 517.94,402.00 518.05,402.10 518.15,402.20 518.26,402.30 518.37,402.41 518.48,402.52 518.59,402.63 518.70,402.74 518.81,402.86 518.92,402.98 519.03,403.10 519.14,403.22 519.25,403.34 519.36,403.47 519.47,403.60 519.58,403.73 519.69,403.86 519.80,403.99 519.91,404.13 520.02,404.26 520.13,404.40 520.24,404.54 520.35,404.68 520.46,404.83 520.57,404.97 520.68,405.12 520.79,405.26 520.90,405.41 521.01,405.56 521.12,405.71 521.23,405.86 521.34,406.02 521.45,406.17 521.56,406.33 521.67,406.49 521.78,406.64 521.89,406.80 522.00,406.96 522.11,407.12 522.22,407.28 522.33,407.45 522.44,407.61 522.55,407.77 522.66,407.94 522.77,408.10 522.88,408.27 522.99,408.44 523.09,408.60 523.20,408.77 523.31,408.94 523.42,409.11 523.53,409.28 523.64,409.45 523.75,409.61 523.86,409.78 523.97,409.96 524.08,410.13 524.19,410.30 524.30,410.47 524.41,410.64 524.52,410.81 524.63,410.98 524.74,411.15 524.85,411.33 524.96,411.50 525.07,411.67 525.18,411.84 525.29,412.01 525.40,412.18 525.51,412.35 525.62,412.53 525.73,412.70 525.84,412.87 525.95,413.04 526.06,413.21 526.17,413.38 526.28,413.55 526.39,413.72 526.50,413.89 526.61,414.05 526.72,414.22 526.83,414.39 526.94,414.56 527.05,414.73 527.16,414.89 527.27,415.06 527.38,415.22 527.49,415.39 527.60,415.55 527.71,415.72 527.82,415.88 527.93,416.04 528.03,416.20 528.14,416.37 528.25,416.53 528.36,416.69 528.47,416.85 528.58,417.00 528.69,417.16 528.80,417.32 528.91,417.48 529.02,417.63 529.13,417.79 529.24,417.94 529.35,418.09 529.46,418.25 529.57,418.40 529.68,418.55 529.79,418.70 529.90,418.85 530.01,418.99 530.12,419.14 530.23,419.29 530.34,419.43 530.45,419.58" fill="none" stroke="#D95319" stroke-width="3.6" stroke-linejoin="round"/>
<polyline points="91.45,418.10 91.45,443.67 91.54,442.25 91.63,441.01 91.71,440.00 91.80,439.16 91.89,438.47 92.02,437.66 92.15,437.05 92.33,436.46 92.55,435.97 92.77,435.65 92.99,435.44 93.21,435.30 93.43,435.19 93.54,435.15 93.65,435.12 93.76,435.08 93.87,435.05 93.97,435.03 94.08,435.00 94.19,434.98 94.30,434.96 94.41,434.94 94.52,434.92 94.63,434.90 94.74,434.88 94.85,434.87 94.96,434.85 95.07,434.84 95.18,434.82 95.29,434.81 95.40,434.79 95.51,434.78 95.62,434.77 95.73,434.75 95.84,434.74 95.95,434.73 96.06,434.72 96.17,434.71 96.28,434.70 96.39,434.69 96.50,434.68 96.61,434.67 96.72,434.66 96.83,434.65 96.94,434.64 97.05,434.63 97.16,434.62 97.27,434.62 97.38,434.61 97.49,434.60 97.60,434.59 97.71,434.59 97.82,434.58 97.93,434.57 98.04,434.57 98.15,434.56 98.26,434.55 98.37,434.55 98.48,434.54 98.59,434.54 98.70,434.53 98.81,434.53 98.91,434.52 99.02,434.52 99.13,434.51 99.24,434.51 99.35,434.50 99.46,434.50 99.57,434.50 99.68,434.49 99.79,434.49 99.90,434.48 100.01,434.48 100.12,434.48 100.23,434.48 100.34,434.47 100.45,434.47 100.56,434.47 100.67,434.46 100.78,434.46 100.89,434.46 101.00,434.46 101.11,434.46 101.22,434.45 101.33,434.45 101.44,434.45 101.55,434.45 101.66,434.45 101.77,434.44 101.88,434.44 101.99,434.44 102.10,434.44 102.21,434.44 102.32,434.44 102.43,434.44 102.54,434.44 102.65,434.44 102.76,434.43 102.87,434.43 102.98,434.43 103.09,434.43 103.20,434.43 103.31,434.43 103.42,434.43 103.53,434.43 103.64,434.43 103.75,434.43 103.85,434.43 103.96,434.43 104.07,434.43 104.18,434.43 104.29,434.43 104.40,434.43 104.51,434.43 104.62,434.43 104.73,434.43 104.84,434.43 104.95,434.43 105.06,434.43 105.17,434.43 105.28,434.43 105.39,434.43 105.50,434.43 105.61,434.43 105.72,434.43 105.83,434.44 105.94,434.44 106.05,434.44 106.16,434.44 106.27,434.44 106.38,434.44 106.49,434.44 106.60,434.44 106.71,434.44 106.82,434.44 106.93,434.44 107.04,434.44 107.15,434.45 107.26,434.45 107.37,434.45 107.48,434.45 107.59,434.45 107.70,434.45 107.81,434.45 107.92,434.45 108.03,434.45 108.14,434.46 108.25,434.46 108.36,434.46 108.47,434.46 108.58,434.46 108.69,434.46 108.79,434.46 108.90,434.46 109.01,434.47 109.12,434.47 109.23,434.47 109.34,434.47 109.45,434.47 109.56,434.47 109.67,434.47 109.78,434.48 109.89,434.48 110.00,434.48 110.11,434.48 110.22,434.48 110.33,434.48 110.44,434.49 110.55,434.49 110.66,434.49 110.77,434.49 110.88,434.49 110.99,434.49 111.10,434.49 111.21,434.50 111.32,434.50 111.43,434.50 111.54,434.50 111.65,434.50 111.76,434.50 111.87,434.51 111.98,434.51 112.09,434.51 112.20,434.51 112.31,434.51 112.42,434.51 112.53,434.52 112.64,434.52 112.75,434.52 112.86,434.52 112.97,434.52 113.08,434.52 113.19,434.53 113.30,434.53 113.41,434.53 113.52,434.53 113.63,434.53 113.73,434.54 113.84,434.54 113.95,434.54 114.06,434.54 114.17,434.54 114.28,434.54 114.39,434.55 114.50,434.55 114.61,434.55 114.72,434.55 114.83,434.55 114.94,434.55 115.05,434.56 115.16,434.56 115.27,434.56 115.38,434.56 115.49,434.56 115.60,434.57 115.71,434.57 115.82,434.57 115.93,434.57 116.04,434.57 116.15,434.57 116.26,434.58 116.37,434.58 116.48,434.58 116.59,434.58 116.70,434.58 116.81,434.59 116.92,434.59 117.03,434.59 117.14,434.59 117.25,434.59 117.36,434.59 117.47,434.60 117.58,434.60 117.69,434.60 117.80,434.60 117.91,434.60 118.02,434.61 118.13,434.61 118.24,434.61 118.35,434.61 118.46,434.61 118.57,434.62 118.67,434.62 118.78,434.62 118.89,434.62 119.00,434.62 119.11,434.62 119.22,434.63 119.33,434.63 119.44,434.63 119.55,434.63 119.66,434.63 119.77,434.64 119.88,434.64 119.99,434.64 120.10,434.64 120.21,434.64 120.32,434.65 120.43,434.65 120.54,434.65 120.65,434.65 120.76,434.65 120.87,434.65 120.98,434.66 121.09,434.66 121.20,434.66 121.31,434.66 121.42,434.66 121.53,434.67 121.64,434.67 121.75,434.67 121.86,434.67 121.97,434.67 122.08,434.67 122.19,434.68 122.30,434.68 122.41,434.68 122.52,434.68 122.63,434.68 122.74,434.69 122.85,434.69 122.96,434.69 123.07,434.69 123.18,434.69 123.29,434.70 123.40,434.70 123.51,434.70 123.61,434.70 123.72,434.70 123.83,434.70 123.94,434.71 124.05,434.71 124.16,434.71 124.27,434.71 124.38,434.71 124.49,434.72 124.60,434.72 124.71,434.72 124.82,434.72 124.93,434.72 125.04,434.72 125.15,434.73 125.26,434.73 125.37,434.73 125.48,434.73 125.59,434.73 125.70,434.74 125.81,434.74 125.92,434.74 126.03,434.74 126.14,434.74 126.25,434.74 126.36,434.75 126.47,434.75 126.58,434.75 126.69,434.75 126.80,434.75 126.91,434.76 127.02,434.76 127.13,434.76 127.24,434.76 127.35,434.76 127.46,434.76 127.57,434.77 127.68,434.77 127.79,434.77 127.90,434.77 128.01,434.77 128.12,434.78 128.23,434.78 128.34,434.78 128.44,434.78 128.55,434.78 128.66,434.78 128.77,434.79 128.88,434.79 128.99,434.79 129.10,434.79 129.21,434.79 129.32,434.80 129.43,434.80 129.54,434.80 129.65,434.80 129.76,434.80 129.87,434.80 129.98,434.81 130.09,434.81 130.20,434.81 130.31,434.81 130.42,434.81 130.53,434.82 130.64,434.82 130.75,434.82 130.86,434.82 130.97,434.82 131.08,434.82 131.19,434.83 131.30,434.83 131.41,434.83 131.52,434.83 131.63,434.83 131.74,434.83 131.85,434.84 131.96,434.84 132.07,434.84 132.18,434.84 132.29,434.84 132.40,434.85 132.51,434.85 132.62,434.85 132.73,434.85 132.84,434.85 132.95,434.85 133.06,434.86 133.17,434.86 133.28,434.86 133.38,434.86 133.49,434.86 133.60,434.86 133.71,434.87 133.82,434.87 133.93,434.87 134.04,434.87 134.15,434.87 134.26,434.87 134.37,434.88 134.48,434.88 134.59,434.88 134.70,434.88 134.81,434.88 134.92,434.89 135.03,434.89 135.14,434.89 135.25,434.89 135.36,434.89 135.47,434.89 135.58,434.90 135.69,434.90 135.80,434.90 135.91,434.90 136.02,434.91 136.13,434.91 136.24,434.92 136.35,434.92 136.46,434.92 136.57,434.93 136.68,434.93 136.79,434.94 136.90,434.95 137.01,434.95 137.12,434.96 137.23,434.96 137.34,434.97 137.45,434.98 137.56,434.98 137.67,434.99 137.78,435.00 137.89,435.01 138.00,435.02 138.11,435.02 138.22,435.03 138.32,435.04 138.43,435.05 138.54,435.06 138.65,435.07 138.76,435.08 138.87,435.09 138.98,435.10 139.09,435.11 139.20,435.12 139.31,435.13 139.42,435.14 139.53,435.15 139.64,435.17 139.75,435.18 139.86,435.19 139.97,435.20 140.08,435.21 140.19,435.23 140.30,435.24 140.41,435.25 140.52,435.26 140.63,435.28 140.74,435.29 140.85,435.30 140.96,435.31 141.07,435.33 141.18,435.34 141.29,435.35 141.40,435.37 141.51,435.38 141.62,435.39 141.73,435.41 141.84,435.42 141.95,435.43 142.06,435.45 142.17,435.46 142.28,435.47 142.39,435.49 142.50,435.50 142.61,435.51 142.72,435.53 142.83,435.54 142.94,435.55 143.05,435.57 143.16,435.58 143.26,435.59 143.37,435.60 143.48,435.62 143.59,435.63 143.70,435.64 143.81,435.65 143.92,435.67 144.03,435.68 144.14,435.69 144.25,435.70 144.36,435.71 144.47,435.72 144.58,435.73 144.69,435.74 144.80,435.76 144.91,435.77 145.02,435.77 145.13,435.78 145.24,435.79 145.35,435.80 145.46,435.81 145.57,435.82 145.68,435.83 145.79,435.83 145.90,435.84 146.01,435.85 146.12,435.85 146.23,435.86 146.34,435.87 146.45,435.87 146.56,435.87 146.67,435.88 146.78,435.88 146.89,435.89 147.00,435.89 147.11,435.89 147.22,435.89 147.33,435.89 147.44,435.89 147.55,435.89 147.66,435.89 147.77,435.89 147.88,435.89 147.99,435.88 148.10,435.88 148.20,435.88 148.31,435.87 148.42,435.86 148.53,435.86 148.64,435.85 148.75,435.84 148.86,435.83 148.97,435.82 149.08,435.81 149.19,435.80 149.30,435.79 149.41,435.78 149.52,435.76 149.63,435.75 149.74,435.73 149.85,435.72 149.96,435.70 150.07,435.68 150.18,435.66 150.29,435.64 150.40,435.62 150.51,435.59 150.62,435.57 150.73,435.55 150.84,435.52 150.95,435.49 151.06,435.46 151.17,435.44 151.28,435.40 151.39,435.37 151.50,435.34 151.61,435.31 151.72,435.27 151.83,435.24 151.94,435.20 152.05,435.16 152.16,435.12 152.27,435.08 152.38,435.03 152.49,434.99 152.60,434.94 152.71,434.90 152.82,434.85 152.93,434.80 153.04,434.75 153.14,434.70 153.25,434.64 153.36,434.59 153.47,434.53 153.58,434.47 153.69,434.41 153.80,434.35 153.91,434.29 154.02,434.22 154.13,434.16 154.24,434.09 154.35,434.02 154.46,433.95 154.57,433.88 154.68,433.80 154.79,433.73 154.90,433.65 155.01,433.57 155.12,433.49 155.23,433.41 155.34,433.33 155.45,433.24 155.56,433.15 155.67,433.06 155.78,432.97 155.89,432.88 156.00,432.79 156.11,432.69 156.22,432.59 156.33,432.49 156.44,432.39 156.55,432.29 156.66,432.18 156.77,432.07 156.88,431.97 156.99,431.86 157.10,431.74 157.21,431.63 157.32,431.51 157.43,431.39 157.54,431.27 157.65,431.15 157.76,431.03 157.87,430.90 157.98,430.78 158.08,430.65 158.19,430.51 158.30,430.38 158.41,430.25 158.52,430.11 158.63,429.97 158.74,429.83 158.85,429.69 158.96,429.54 159.07,429.40 159.18,429.25 159.29,429.10 159.40,428.95 159.51,428.79 159.62,428.64 159.73,428.48 159.84,428.32 159.95,428.16 160.06,427.99 160.17,427.83 160.28,427.66 160.39,427.49 160.50,427.32 160.61,427.15 160.72,426.98 160.83,426.80 160.94,426.62 161.05,426.44 161.16,426.26 161.27,426.08 161.38,425.89 161.49,425.71 161.60,425.52 161.71,425.33 161.82,425.14 161.93,424.94 162.04,424.75 162.15,424.55 162.26,424.35 162.37,424.15 162.48,423.95 162.59,423.75 162.70,423.54 162.81,423.34 162.92,423.13 163.02,422.92 163.13,422.71 163.24,422.50 163.35,422.29 163.46,422.07 163.57,421.86 163.68,421.64 163.79,421.42 163.90,421.20 164.01,420.98 164.12,420.76 164.23,420.54 164.34,420.31 164.45,420.09 164.56,419.86 164.67,419.64 164.78,419.41 164.89,419.18 165.00,418.95 165.11,418.72 165.22,418.49 165.33,418.26 165.44,418.02 165.55,417.79 165.66,417.55 165.77,417.32 165.88,417.08 165.99,416.85 166.10,416.61 166.21,416.38 166.32,416.14 166.43,415.90 166.54,415.66 166.65,415.43 166.76,415.19 166.87,414.95 166.98,414.71 167.09,414.47 167.20,414.23 167.31,414.00 167.42,413.76 167.53,413.52 167.64,413.28 167.75,413.04 167.86,412.81 167.96,412.57 168.07,412.33 168.18,412.10 168.29,411.86 168.40,411.63 168.51,411.40 168.62,411.16 168.73,410.93 168.84,410.70 168.95,410.47 169.06,410.24 169.17,410.01 169.28,409.78 169.39,409.56 169.50,409.33 169.61,409.11 169.72,408.89 169.83,408.66 169.94,408.44 170.05,408.23 170.16,408.01 170.27,407.80 170.38,407.58 170.49,407.37 170.60,407.16 170.71,406.96 170.82,406.75 170.93,406.55 171.04,406.35 171.15,406.15 171.26,405.95 171.37,405.76 171.48,405.56 171.59,405.37 171.70,405.19 171.81,405.00 171.92,404.82 172.03,404.64 172.14,404.46 172.25,404.29 172.36,404.12 172.47,403.95 172.58,403.79 172.69,403.62 172.80,403.47 172.90,403.31 173.01,403.16 173.12,403.01 173.23,402.86 173.34,402.72 173.45,402.58 173.56,402.45 173.67,402.32 173.78,402.19 173.89,402.07 174.00,401.94 174.11,401.83 174.22,401.72 174.33,401.61 174.44,401.50 174.55,401.40 174.66,401.31 174.77,401.21 174.88,401.13 174.99,401.04 175.10,400.96 175.21,400.89 175.32,400.82 175.43,400.75 175.54,400.69 175.65,400.63 175.76,400.58 175.87,400.53 175.98,400.49 176.09,400.45 176.20,400.41 176.31,400.38 176.42,400.36 176.53,400.34 176.64,400.32 176.75,400.31 176.86,400.31 176.97,400.31 177.08,400.31 177.19,400.32 177.30,400.34 177.41,400.36 177.52,400.38 177.63,400.41 177.74,400.45 177.84,400.49 177.95,400.53 178.06,400.58 178.17,400.64 178.28,400.70 178.39,400.77 178.50,400.84 178.61,400.91 178.72,400.99 178.83,401.08 178.94,401.17 179.05,401.27 179.16,401.37 179.27,401.48 179.38,401.59 179.49,401.71 179.60,401.83 179.71,401.96 179.82,402.09 179.93,402.23 180.04,402.37 180.15,402.52 180.26,402.67 180.37,402.83 180.48,402.99 180.59,403.16 180.70,403.33 180.81,403.51 180.92,403.69 181.03,403.88 181.14,404.07 181.25,404.27 181.36,404.47 181.47,404.68 181.58,404.89 181.69,405.10 181.80,405.32 181.91,405.54 182.02,405.77 182.13,406.00 182.24,406.24 182.35,406.48 182.46,406.72 182.57,406.97 182.68,407.22 182.78,407.48 182.89,407.74 183.00,408.01 183.11,408.27 183.22,408.54 183.33,408.82 183.44,409.10 183.55,409.38 183.66,409.66 183.77,409.95 183.88,410.24 183.99,410.54 184.10,410.83 184.21,411.13 184.32,411.43 184.43,411.74 184.54,412.05 184.65,412.36 184.76,412.67 184.87,412.98 184.98,413.30 185.09,413.62 185.20,413.94 185.31,414.26 185.42,414.59 185.53,414.91 185.64,415.24 185.75,415.57 185.86,415.90 185.97,416.23 186.08,416.56 186.19,416.89 186.30,417.22 186.41,417.56 186.52,417.89 186.63,418.23 186.74,418.56 186.85,418.90 186.96,419.23 187.07,419.57 187.18,419.91 187.29,420.24 187.40,420.57 187.51,420.91 187.62,421.24 187.72,421.57 187.83,421.91 187.94,422.24 188.05,422.57 188.16,422.89 188.27,423.22 188.38,423.54 188.49,423.87 188.60,424.19 188.71,424.51 188.82,424.83 188.93,425.14 189.04,425.45 189.15,425.76 189.26,426.07 189.37,426.38 189.48,426.68 189.59,426.98 189.70,427.28 189.81,427.57 189.92,427.86 190.03,428.14 190.14,428.43 190.25,428.71 190.36,428.98 190.47,429.25 190.58,429.52 190.69,429.78 190.80,430.04 190.91,430.30 191.02,430.55 191.13,430.79 191.24,431.04 191.35,431.27 191.46,431.50 191.57,431.73 191.68,431.95 191.79,432.17 191.90,432.38 192.01,432.58 192.12,432.78 192.23,432.98 192.34,433.17 192.45,433.35 192.56,433.53 192.66,433.70 192.77,433.87 192.88,434.03 192.99,434.18 193.10,434.33 193.21,434.47 193.32,434.60 193.43,434.73 193.54,434.85 193.65,434.97 193.76,435.08 193.87,435.18 193.98,435.28 194.09,435.36 194.20,435.45 194.31,435.52 194.42,435.59 194.53,435.65 194.64,435.71 194.75,435.75 194.86,435.79 194.97,435.83 195.08,435.85 195.19,435.87 195.30,435.89 195.41,435.89 195.52,435.89 195.63,435.88 195.74,435.86 195.85,435.84 195.96,435.81 196.07,435.77 196.18,435.73 196.29,435.68 196.40,435.62 196.51,435.55 196.62,435.48 196.73,435.40 196.84,435.31 196.95,435.22 197.06,435.12 197.17,435.01 197.28,434.90 197.39,434.77 197.50,434.64 197.60,434.51 197.71,434.37 197.82,434.22 197.93,434.06 198.04,433.90 198.15,433.73 198.26,433.56 198.37,433.38 198.48,433.19 198.59,433.00 198.70,432.80 198.81,432.59 198.92,432.38 199.03,432.16 199.14,431.94 199.25,431.71 199.36,431.47 199.47,431.23 199.58,430.99 199.69,430.74 199.80,430.48 199.91,430.22 200.02,429.95 200.13,429.68 200.24,429.40 200.35,429.12 200.46,428.84 200.57,428.55 200.68,428.25 200.79,427.95 200.90,427.65 201.01,427.34 201.12,427.03 201.23,426.72 201.34,426.40 201.45,426.08 201.56,425.75 201.67,425.42 201.78,425.09 201.89,424.76 202.00,424.42 202.11,424.08 202.22,423.74 202.33,423.40 202.43,423.05 202.54,422.70 202.65,422.35 202.76,422.00 202.87,421.64 202.98,421.29 203.09,420.93 203.20,420.57 203.31,420.21 203.42,419.85 203.53,419.49 203.64,419.13 203.75,418.77 203.86,418.41 203.97,418.05 204.08,417.68 204.19,417.32 204.30,416.96 204.41,416.60 204.52,416.24 204.63,415.88 204.74,415.52 204.85,415.16 204.96,414.81 205.07,414.45 205.18,414.10 205.29,413.75 205.40,413.40 205.51,413.05 205.62,412.70 205.73,412.36 205.84,412.02 205.95,411.68 206.06,411.34 206.17,411.01 206.28,410.68 206.39,410.35 206.50,410.03 206.61,409.71 206.72,409.39 206.83,409.08 206.94,408.77 207.05,408.46 207.16,408.16 207.27,407.86 207.37,407.57 207.48,407.28 207.59,407.00 207.70,406.72 207.81,406.44 207.92,406.17 208.03,405.91 208.14,405.65 208.25,405.39 208.36,405.14 208.47,404.90 208.58,404.66 208.69,404.43 208.80,404.20 208.91,403.98 209.02,403.76 209.13,403.55 209.24,403.35 209.35,403.15 209.46,402.96 209.57,402.77 209.68,402.60 209.79,402.42 209.90,402.26 210.01,402.10 210.12,401.94 210.23,401.80 210.34,401.66 210.45,401.52 210.56,401.40 210.67,401.28 210.78,401.16 210.89,401.06 211.00,400.96 211.11,400.87 211.22,400.78 211.33,400.70 211.44,400.63 211.55,400.57 211.66,400.51 211.77,400.46 211.88,400.42 211.99,400.38 212.10,400.35 212.21,400.33 212.31,400.32 212.42,400.31 212.53,400.31 212.64,400.32 212.75,400.33 212.86,400.35 212.97,400.38 213.08,400.41 213.19,400.45 213.30,400.50 213.41,400.56 213.52,400.62 213.63,400.69 213.74,400.77 213.85,400.85 213.96,400.94 214.07,401.04 214.18,401.14 214.29,401.25 214.40,401.37 214.51,401.49 214.62,401.62 214.73,401.75 214.84,401.89 214.95,402.04 215.06,402.20 215.17,402.36 215.28,402.52 215.39,402.69 215.50,402.87 215.61,403.05 215.72,403.24 215.83,403.44 215.94,403.64 216.05,403.84 216.16,404.05 216.27,404.27 216.38,404.49 216.49,404.72 216.60,404.95 216.71,405.18 216.82,405.42 216.93,405.67 217.04,405.92 217.15,406.17 217.25,406.43 217.36,406.69 217.47,406.96 217.58,407.23 217.69,407.51 217.80,407.78 217.91,408.07 218.02,408.35 218.13,408.64 218.24,408.93 218.35,409.23 218.46,409.52 218.57,409.83 218.68,410.13 218.79,410.44 218.90,410.74 219.01,411.06 219.12,411.37 219.23,411.69 219.34,412.00 219.45,412.32 219.56,412.64 219.67,412.97 219.78,413.29 219.89,413.62 220.00,413.95 220.11,414.28 220.22,414.60 220.33,414.94 220.44,415.27 220.55,415.60 220.66,415.93 220.77,416.26 220.88,416.60 220.99,416.93 221.10,417.27 221.21,417.60 221.32,417.93 221.43,418.27 221.54,418.60 221.65,418.93 221.76,419.26 221.87,419.59 221.98,419.92 222.09,420.25 222.19,420.58 222.30,420.91 222.41,421.23 222.52,421.56 222.63,421.88 222.74,422.20 222.85,422.52 222.96,422.83 223.07,423.15 223.18,423.46 223.29,423.77 223.40,424.08 223.51,424.39 223.62,424.69 223.73,424.99 223.84,425.29 223.95,425.59 224.06,425.88 224.17,426.17 224.28,426.46 224.39,426.74 224.50,427.02 224.61,427.30 224.72,427.57 224.83,427.84 224.94,428.11 225.05,428.37 225.16,428.63 225.27,428.89 225.38,429.14 225.49,429.39 225.60,429.63 225.71,429.87 225.82,430.11 225.93,430.34 226.04,430.57 226.15,430.79 226.26,431.01 226.37,431.22 226.48,431.43 226.59,431.64 226.70,431.84 226.81,432.04 226.92,432.23 227.03,432.42 227.13,432.60 227.24,432.78 227.35,432.95 227.46,433.12 227.57,433.29 227.68,433.44 227.79,433.60 227.90,433.75 228.01,433.89 228.12,434.03 228.23,434.17 228.34,434.30 228.45,434.42 228.56,434.54 228.67,434.65 228.78,434.76 228.89,434.87 229.00,434.97 229.11,435.06 229.22,435.15 229.33,435.23 229.44,435.31 229.55,435.39 229.66,435.45 229.77,435.52 229.88,435.58 229.99,435.63 230.10,435.68 230.21,435.72 230.32,435.76 230.43,435.79 230.54,435.82 230.65,435.85 230.76,435.87 230.87,435.88 230.98,435.89 231.09,435.89 231.20,435.89 231.31,435.88 231.42,435.87 231.53,435.86 231.64,435.84 231.75,435.81 231.86,435.78 231.97,435.75 232.07,435.71 232.18,435.67 232.29,435.62 232.40,435.57 232.51,435.51 232.62,435.45 232.73,435.38 232.84,435.31 232.95,435.24 233.06,435.16 233.17,435.08 233.28,434.99 233.39,434.90 233.50,434.81 233.61,434.71 233.72,434.60 233.83,434.50 233.94,434.39 234.05,434.27 234.16,434.15 234.27,434.03 234.38,433.91 234.49,433.78 234.60,433.65 234.71,433.51 234.82,433.37 234.93,433.23 235.04,433.08 235.15,432.93 235.26,432.78 235.37,432.63 235.48,432.47 235.59,432.31 235.70,432.14 235.81,431.97 235.92,431.80 236.03,431.63 236.14,431.46 236.25,431.28 236.36,431.10 236.47,430.91 236.58,430.73 236.69,430.54 236.80,430.35 236.91,430.16 237.01,429.96 237.12,429.77 237.23,429.57 237.34,429.37 237.45,429.16 237.56,428.96 237.67,428.75 237.78,428.54 237.89,428.33 238.00,428.12 238.11,427.91 238.22,427.69 238.33,427.48 238.44,427.26 238.55,427.04 238.66,426.82 238.77,426.60 238.88,426.38 238.99,426.15 239.10,425.93 239.21,425.70 239.32,425.48 239.43,425.25 239.54,425.02 239.65,424.79 239.76,424.56 239.87,424.33 239.98,424.10 240.09,423.87 240.20,423.64 240.31,423.41 240.42,423.18 240.53,422.94 240.64,422.71 240.75,422.48 240.86,422.24 240.97,422.01 241.08,421.78 241.19,421.54 241.30,421.31 241.41,421.08 241.52,420.85 241.63,420.61 241.74,420.38 241.85,420.15 241.95,419.92 242.06,419.68 242.17,419.45 242.28,419.22 242.39,418.99 242.50,418.76 242.61,418.53 242.72,418.30 242.83,418.08 242.94,417.85 243.05,417.62 243.16,417.40 243.27,417.17 243.38,416.95 243.49,416.73 243.60,416.50 243.71,416.28 243.82,416.06 243.93,415.84 244.04,415.63 244.15,415.41 244.26,415.19 244.37,414.98 244.48,414.76 244.59,414.55 244.70,414.34 244.81,414.13 244.92,413.92 245.03,413.72 245.14,413.51 245.25,413.31 245.36,413.10 245.47,412.90 245.58,412.70 245.69,412.50 245.80,412.30 245.91,412.11 246.02,411.91 246.13,411.72 246.24,411.53 246.35,411.34 246.46,411.15 246.57,410.97 246.68,410.78 246.79,410.60 246.89,410.42 247.00,410.24 247.11,410.06 247.22,409.88 247.33,409.71 247.44,409.53 247.55,409.36 247.66,409.19 247.77,409.02 247.88,408.86 247.99,408.69 248.10,408.53 248.21,408.37 248.32,408.21 248.43,408.05 248.54,407.90 248.65,407.74 248.76,407.59 248.87,407.44 248.98,407.29 249.09,407.15 249.20,407.00 249.31,406.86 249.42,406.72 249.53,406.58 249.64,406.44 249.75,406.30 249.86,406.17 249.97,406.04 250.08,405.91 250.19,405.78 250.30,405.65 250.41,405.53 250.52,405.40 250.63,405.28 250.74,405.16 250.85,405.04 250.96,404.93 251.07,404.81 251.18,404.70 251.29,404.59 251.40,404.48 251.51,404.37 251.62,404.27 251.73,404.16 251.83,404.06 251.94,403.96 252.05,403.86 252.16,403.76 252.27,403.67 252.38,403.57 252.49,403.48 252.60,403.39 252.71,403.30 252.82,403.21 252.93,403.13 253.04,403.04 253.15,402.96 253.26,402.88 253.37,402.80 253.48,402.72 253.59,402.65 253.70,402.57 253.81,402.50 253.92,402.43 254.03,402.36 254.14,402.29 254.25,402.22 254.36,402.16 254.47,402.09 254.58,402.03 254.69,401.97 254.80,401.91 254.91,401.85 255.02,401.79 255.13,401.74 255.24,401.68 255.35,401.63 255.46,401.58 255.57,401.52 255.68,401.48 255.79,401.43 255.90,401.38 256.01,401.34 256.12,401.29 256.23,401.25 256.34,401.21 256.45,401.17 256.56,401.13 256.67,401.09 256.77,401.05 256.88,401.01 256.99,400.98 257.10,400.95 257.21,400.91 257.32,400.88 257.43,400.85 257.54,400.82 257.65,400.79 257.76,400.77 257.87,400.74 257.98,400.71 258.09,400.69 258.20,400.66 258.31,400.64 258.42,400.62 258.53,400.60 258.64,400.58 258.75,400.56 258.86,400.54 258.97,400.52 259.08,400.51 259.19,400.49 259.30,400.48 259.41,400.46 259.52,400.45 259.63,400.43 259.74,400.42 259.85,400.41 259.96,400.40 260.07,400.39 260.18,400.38 260.29,400.37 260.40,400.36 260.51,400.36 260.62,400.35 260.73,400.34 260.84,400.34 260.95,400.33 261.06,400.33 261.17,400.32 261.28,400.32 261.39,400.32 261.50,400.31 261.61,400.31 261.71,400.31 261.82,400.31 261.93,400.31 262.04,400.31 262.15,400.31 262.26,400.31 262.37,400.31 262.48,400.31 262.59,400.31 262.70,400.32 262.81,400.32 262.92,400.32 263.03,400.32 263.14,400.33 263.25,400.33 263.36,400.33 263.47,400.34 263.58,400.34 263.69,400.35 263.80,400.35 263.91,400.36 264.02,400.36 264.13,400.37 264.24,400.38 264.35,400.38 264.46,400.39 264.57,400.39 264.68,400.40 264.79,400.41 264.90,400.42 265.01,400.42 265.12,400.43 265.23,400.44 265.34,400.44 265.45,400.45 265.56,400.46 265.67,400.47 265.78,400.47 265.89,400.48 266.00,400.49 266.11,400.50 266.22,400.51 266.33,400.51 266.44,400.52 266.55,400.53 266.65,400.54 266.76,400.54 266.87,400.55 266.98,400.56 267.09,400.57 267.20,400.58 267.31,400.58 267.42,400.59 267.53,400.60 267.64,400.61 267.75,400.61 267.86,400.62 267.97,400.63 268.08,400.64 268.19,400.64 268.30,400.65 268.41,400.66 268.52,400.66 268.63,400.67 268.74,400.68 268.85,400.68 268.96,400.69 269.07,400.70 269.18,400.70 269.29,400.71 269.40,400.71 269.51,400.72 269.62,400.72 269.73,400.73 269.84,400.73 269.95,400.74 270.06,400.74 270.17,400.75 270.28,400.75 270.39,400.76 270.50,400.76 270.61,400.77 270.72,400.77 270.83,400.77 270.94,400.78 271.05,400.78 271.16,400.78 271.27,400.78 271.38,400.79 271.49,400.79 271.59,400.79 271.70,400.79 271.81,400.80 271.92,400.80 272.03,400.80 272.14,400.80 272.25,400.80 272.36,400.80 272.47,400.80 272.58,400.80 272.69,400.80 272.80,400.80 272.91,400.80 273.02,400.80 273.13,400.80 273.24,400.80 273.35,400.80 273.46,400.80 273.57,400.79 273.68,400.79 273.79,400.79 273.90,400.79 274.01,400.78 274.12,400.78 274.23,400.78 274.34,400.78 274.45,400.77 274.56,400.77 274.67,400.77 274.78,400.76 274.89,400.76 275.00,400.75 275.11,400.75 275.22,400.74 275.33,400.74 275.44,400.73 275.55,400.73 275.66,400.72 275.77,400.72 275.88,400.71 275.99,400.71 276.10,400.70 276.21,400.70 276.32,400.69 276.42,400.68 276.53,400.68 276.64,400.67 276.75,400.66 276.86,400.66 276.97,400.65 277.08,400.64 277.19,400.64 277.30,400.63 277.41,400.62 277.52,400.61 277.63,400.61 277.74,400.60 277.85,400.59 277.96,400.58 278.07,400.58 278.18,400.57 278.29,400.56 278.40,400.55 278.51,400.54 278.62,400.54 278.73,400.53 278.84,400.52 278.95,400.51 279.06,400.51 279.17,400.50 279.28,400.49 279.39,400.48 279.50,400.47 279.61,400.47 279.72,400.46 279.83,400.45 279.94,400.44 280.05,400.44 280.16,400.43 280.27,400.42 280.38,400.42 280.49,400.41 280.60,400.40 280.71,400.40 280.82,400.39 280.93,400.38 281.04,400.38 281.15,400.37 281.26,400.36 281.36,400.36 281.47,400.35 281.58,400.35 281.69,400.34 281.80,400.34 281.91,400.34 282.02,400.33 282.13,400.33 282.24,400.32 282.35,400.32 282.46,400.32 282.57,400.32 282.68,400.31 282.79,400.31 282.90,400.31 283.01,400.31 283.12,400.31 283.23,400.31 283.34,400.31 283.45,400.31 283.56,400.31 283.67,400.31 283.78,400.31 283.89,400.32 284.00,400.32 284.11,400.32 284.22,400.33 284.33,400.33 284.44,400.34 284.55,400.34 284.66,400.35 284.77,400.36 284.88,400.36 284.99,400.37 285.10,400.38 285.21,400.39 285.32,400.40 285.43,400.41 285.54,400.42 285.65,400.43 285.76,400.45 285.87,400.46 285.98,400.47 286.09,400.49 286.20,400.51 286.30,400.52 286.41,400.54 286.52,400.56 286.63,400.58 286.74,400.60 286.85,400.62 286.96,400.64 287.07,400.66 287.18,400.69 287.29,400.71 287.40,400.74 287.51,400.76 287.62,400.79 287.73,400.82 287.84,400.85 287.95,400.88 288.06,400.91 288.17,400.95 288.28,400.98 288.39,401.01 288.50,401.05 288.61,401.09 288.72,401.13 288.83,401.16 288.94,401.21 289.05,401.25 289.16,401.29 289.27,401.33 289.38,401.38 289.49,401.43 289.60,401.47 289.71,401.52 289.82,401.57 289.93,401.63 290.04,401.68 290.15,401.73 290.26,401.79 290.37,401.85 290.48,401.91 290.59,401.97 290.70,402.03 290.81,402.09 290.92,402.15 291.03,402.22 291.14,402.29 291.24,402.36 291.35,402.43 291.46,402.50 291.57,402.57 291.68,402.64 291.79,402.72 291.90,402.80 292.01,402.88 292.12,402.96 292.23,403.04 292.34,403.13 292.45,403.21 292.56,403.30 292.67,403.39 292.78,403.48 292.89,403.57 293.00,403.66 293.11,403.76 293.22,403.86 293.33,403.96 293.44,404.06 293.55,404.16 293.66,404.26 293.77,404.37 293.88,404.48 293.99,404.58 294.10,404.70 294.21,404.81 294.32,404.92 294.43,405.04 294.54,405.16 294.65,405.28 294.76,405.40 294.87,405.52 294.98,405.65 295.09,405.77 295.20,405.90 295.31,406.03 295.42,406.17 295.53,406.30 295.64,406.44 295.75,406.57 295.86,406.71 295.97,406.85 296.08,407.00 296.18,407.14 296.29,407.29 296.40,407.44 296.51,407.59 296.62,407.74 296.73,407.89 296.84,408.05 296.95,408.21 297.06,408.37 297.17,408.53 297.28,408.69 297.39,408.85 297.50,409.02 297.61,409.19 297.72,409.36 297.83,409.53 297.94,409.70 298.05,409.88 298.16,410.05 298.27,410.23 298.38,410.41 298.49,410.59 298.60,410.78 298.71,410.96 298.82,411.15 298.93,411.34 299.04,411.53 299.15,411.72 299.26,411.91 299.37,412.10 299.48,412.30 299.59,412.50 299.70,412.70 299.81,412.90 299.92,413.10 300.03,413.30 300.14,413.51 300.25,413.71 300.36,413.92 300.47,414.13 300.58,414.34 300.69,414.55 300.80,414.76 300.91,414.97 301.02,415.19 301.12,415.40 301.23,415.62 301.34,415.84 301.45,416.06 301.56,416.28 301.67,416.50 301.78,416.72 301.89,416.94 302.00,417.17 302.11,417.39 302.22,417.62 302.33,417.84 302.44,418.07 302.55,418.30 302.66,418.53 302.77,418.76 302.88,418.99 302.99,419.22 303.10,419.45 303.21,419.68 303.32,419.91 303.43,420.14 303.54,420.37 303.65,420.61 303.76,420.84 303.87,421.07 303.98,421.31 304.09,421.54 304.20,421.77 304.31,422.01 304.42,422.24 304.53,422.47 304.64,422.71 304.75,422.94 304.86,423.17 304.97,423.40 305.08,423.64 305.19,423.87 305.30,424.10 305.41,424.33 305.52,424.56 305.63,424.79 305.74,425.02 305.85,425.25 305.96,425.47 306.06,425.70 306.17,425.92 306.28,426.15 306.39,426.37 306.50,426.59 306.61,426.82 306.72,427.04 306.83,427.25 306.94,427.47 307.05,427.69 307.16,427.90 307.27,428.12 307.38,428.33 307.49,428.54 307.60,428.75 307.71,428.95 307.82,429.16 307.93,429.36 308.04,429.56 308.15,429.76 308.26,429.96 308.37,430.15 308.48,430.34 308.59,430.53 308.70,430.72 308.81,430.91 308.92,431.09 309.03,431.27 309.14,431.45 309.25,431.63 309.36,431.80 309.47,431.97 309.58,432.14 309.69,432.30 309.80,432.46 309.91,432.62 310.02,432.78 310.13,432.93 310.24,433.08 310.35,433.22 310.46,433.37 310.57,433.51 310.68,433.64 310.79,433.78 310.90,433.90 311.00,434.03 311.11,434.15 311.22,434.27 311.33,434.38 311.44,434.50 311.55,434.60 311.66,434.70 311.77,434.80 311.88,434.90 311.99,434.99 312.10,435.08 312.21,435.16 312.32,435.24 312.43,435.31 312.54,435.38 312.65,435.45 312.76,435.51 312.87,435.57 312.98,435.62 313.09,435.67 313.20,435.71 313.31,435.75 313.42,435.78 313.53,435.81 313.64,435.84 313.75,435.86 313.86,435.87 313.97,435.88 314.08,435.89 314.19,435.89 314.30,435.89 314.41,435.88 314.52,435.87 314.63,435.85 314.74,435.82 314.85,435.80 314.96,435.76 315.07,435.72 315.18,435.68 315.29,435.63 315.40,435.58 315.51,435.52 315.62,435.46 315.73,435.39 315.84,435.31 315.94,435.24 316.05,435.15 316.16,435.06 316.27,434.97 316.38,434.87 316.49,434.77 316.60,434.66 316.71,434.54 316.82,434.42 316.93,434.30 317.04,434.17 317.15,434.03 317.26,433.90 317.37,433.75 317.48,433.60 317.59,433.45 317.70,433.29 317.81,433.13 317.92,432.96 318.03,432.78 318.14,432.61 318.25,432.42 318.36,432.23 318.47,432.04 318.58,431.85 318.69,431.64 318.80,431.44 318.91,431.23 319.02,431.01 319.13,430.79 319.24,430.57 319.35,430.34 319.46,430.11 319.57,429.88 319.68,429.64 319.79,429.39 319.90,429.14 320.01,428.89 320.12,428.64 320.23,428.38 320.34,428.11 320.45,427.85 320.56,427.58 320.67,427.30 320.78,427.03 320.88,426.75 320.99,426.46 321.10,426.18 321.21,425.89 321.32,425.59 321.43,425.30 321.54,425.00 321.65,424.70 321.76,424.39 321.87,424.09 321.98,423.78 322.09,423.47 322.20,423.16 322.31,422.84 322.42,422.52 322.53,422.21 322.64,421.89 322.75,421.56 322.86,421.24 322.97,420.91 323.08,420.59 323.19,420.26 323.30,419.93 323.41,419.60 323.52,419.27 323.63,418.94 323.74,418.61 323.85,418.27 323.96,417.94 324.07,417.61 324.18,417.27 324.29,416.94 324.40,416.61 324.51,416.27 324.62,415.94 324.73,415.61 324.84,415.27 324.95,414.94 325.06,414.61 325.17,414.28 325.28,413.95 325.39,413.63 325.50,413.30 325.61,412.98 325.72,412.65 325.82,412.33 325.93,412.01 326.04,411.69 326.15,411.38 326.26,411.06 326.37,410.75 326.48,410.44 326.59,410.14 326.70,409.83 326.81,409.53 326.92,409.23 327.03,408.94 327.14,408.65 327.25,408.36 327.36,408.07 327.47,407.79 327.58,407.51 327.69,407.24 327.80,406.97 327.91,406.70 328.02,406.44 328.13,406.18 328.24,405.93 328.35,405.68 328.46,405.43 328.57,405.19 328.68,404.95 328.79,404.72 328.90,404.50 329.01,404.28 329.12,404.06 329.23,403.85 329.34,403.64 329.45,403.44 329.56,403.25 329.67,403.06 329.78,402.88 329.89,402.70 330.00,402.53 330.11,402.36 330.22,402.20 330.33,402.05 330.44,401.90 330.55,401.76 330.66,401.62 330.76,401.49 330.87,401.37 330.98,401.25 331.09,401.14 331.20,401.04 331.31,400.94 331.42,400.85 331.53,400.77 331.64,400.69 331.75,400.62 331.86,400.56 331.97,400.51 332.08,400.46 332.19,400.41 332.30,400.38 332.41,400.35 332.52,400.33 332.63,400.32 332.74,400.31 332.85,400.31 332.96,400.32 333.07,400.33 333.18,400.35 333.29,400.38 333.40,400.42 333.51,400.46 333.62,400.51 333.73,400.57 333.84,400.63 333.95,400.70 334.06,400.78 334.17,400.86 334.28,400.96 334.39,401.06 334.50,401.16 334.61,401.27 334.72,401.39 334.83,401.52 334.94,401.65 335.05,401.79 335.16,401.94 335.27,402.09 335.38,402.25 335.49,402.42 335.60,402.59 335.70,402.77 335.81,402.96 335.92,403.15 336.03,403.34 336.14,403.55 336.25,403.76 336.36,403.97 336.47,404.20 336.58,404.42 336.69,404.66 336.80,404.89 336.91,405.14 337.02,405.39 337.13,405.64 337.24,405.90 337.35,406.17 337.46,406.44 337.57,406.71 337.68,406.99 337.79,407.27 337.90,407.56 338.01,407.86 338.12,408.15 338.23,408.46 338.34,408.76 338.45,409.07 338.56,409.38 338.67,409.70 338.78,410.02 338.89,410.34 339.00,410.67 339.11,411.00 339.22,411.33 339.33,411.67 339.44,412.01 339.55,412.35 339.66,412.69 339.77,413.04 339.88,413.39 339.99,413.74 340.10,414.09 340.21,414.44 340.32,414.80 340.43,415.15 340.54,415.51 340.64,415.87 340.75,416.23 340.86,416.59 340.97,416.95 341.08,417.31 341.19,417.67 341.30,418.04 341.41,418.40 341.52,418.76 341.63,419.12 341.74,419.48 341.85,419.85 341.96,420.21 342.07,420.56 342.18,420.92 342.29,421.28 342.40,421.63 342.51,421.99 342.62,422.34 342.73,422.69 342.84,423.04 342.95,423.39 343.06,423.73 343.17,424.07 343.28,424.41 343.39,424.75 343.50,425.09 343.61,425.42 343.72,425.74 343.83,426.07 343.94,426.39 344.05,426.71 344.16,427.02 344.27,427.34 344.38,427.64 344.49,427.95 344.60,428.24 344.71,428.54 344.82,428.83 344.93,429.12 345.04,429.40 345.15,429.67 345.26,429.95 345.37,430.21 345.48,430.47 345.58,430.73 345.69,430.98 345.80,431.23 345.91,431.47 346.02,431.70 346.13,431.93 346.24,432.16 346.35,432.37 346.46,432.59 346.57,432.79 346.68,432.99 346.79,433.19 346.90,433.37 347.01,433.55 347.12,433.73 347.23,433.90 347.34,434.06 347.45,434.22 347.56,434.36 347.67,434.51 347.78,434.64 347.89,434.77 348.00,434.89 348.11,435.01 348.22,435.12 348.33,435.22 348.44,435.31 348.55,435.40 348.66,435.48 348.77,435.55 348.88,435.62 348.99,435.68 349.10,435.73 349.21,435.77 349.32,435.81 349.43,435.84 349.54,435.86 349.65,435.88 349.76,435.89 349.87,435.89 349.98,435.89 350.09,435.87 350.20,435.85 350.31,435.83 350.41,435.79 350.52,435.75 350.63,435.71 350.74,435.65 350.85,435.59 350.96,435.52 351.07,435.45 351.18,435.37 351.29,435.28 351.40,435.18 351.51,435.08 351.62,434.97 351.73,434.86 351.84,434.73 351.95,434.61 352.06,434.47 352.17,434.33 352.28,434.18 352.39,434.03 352.50,433.87 352.61,433.70 352.72,433.53 352.83,433.36 352.94,433.17 353.05,432.98 353.16,432.79 353.27,432.59 353.38,432.38 353.49,432.17 353.60,431.96 353.71,431.74 353.82,431.51 353.93,431.28 354.04,431.04 354.15,430.80 354.26,430.55 354.37,430.30 354.48,430.05 354.59,429.79 354.70,429.53 354.81,429.26 354.92,428.99 355.03,428.71 355.14,428.43 355.25,428.15 355.35,427.87 355.46,427.58 355.57,427.28 355.68,426.99 355.79,426.69 355.90,426.38 356.01,426.08 356.12,425.77 356.23,425.46 356.34,425.15 356.45,424.83 356.56,424.52 356.67,424.20 356.78,423.88 356.89,423.55 357.00,423.23 357.11,422.90 357.22,422.57 357.33,422.24 357.44,421.91 357.55,421.58 357.66,421.25 357.77,420.92 357.88,420.58 357.99,420.25 358.10,419.91 358.21,419.58 358.32,419.24 358.43,418.91 358.54,418.57 358.65,418.24 358.76,417.90 358.87,417.57 358.98,417.23 359.09,416.90 359.20,416.57 359.31,416.23 359.42,415.90 359.53,415.57 359.64,415.25 359.75,414.92 359.86,414.59 359.97,414.27 360.08,413.95 360.19,413.63 360.29,413.31 360.40,412.99 360.51,412.68 360.62,412.36 360.73,412.05 360.84,411.75 360.95,411.44 361.06,411.14 361.17,410.84 361.28,410.54 361.39,410.25 361.50,409.96 361.61,409.67 361.72,409.39 361.83,409.10 361.94,408.83 362.05,408.55 362.16,408.28 362.27,408.01 362.38,407.75 362.49,407.49 362.60,407.23 362.71,406.98 362.82,406.73 362.93,406.49 363.04,406.24 363.15,406.01 363.26,405.78 363.37,405.55 363.48,405.32 363.59,405.11 363.70,404.89 363.81,404.68 363.92,404.47 364.03,404.27 364.14,404.08 364.25,403.89 364.36,403.70 364.47,403.52 364.58,403.34 364.69,403.17 364.80,403.00 364.91,402.83 365.02,402.68 365.13,402.52 365.23,402.38 365.34,402.23 365.45,402.09 365.56,401.96 365.67,401.83 365.78,401.71 365.89,401.59 366.00,401.48 366.11,401.37 366.22,401.27 366.33,401.18 366.44,401.08 366.55,401.00 366.66,400.92 366.77,400.84 366.88,400.77 366.99,400.70 367.10,400.64 367.21,400.59 367.32,400.53 367.43,400.49 367.54,400.45 367.65,400.41 367.76,400.38 367.87,400.36 367.98,400.34 368.09,400.32 368.20,400.31 368.31,400.31 368.42,400.31 368.53,400.31 368.64,400.32 368.75,400.34 368.86,400.36 368.97,400.38 369.08,400.41 369.19,400.45 369.30,400.48 369.41,400.53 369.52,400.58 369.63,400.63 369.74,400.69 369.85,400.75 369.96,400.81 370.07,400.88 370.17,400.96 370.28,401.04 370.39,401.12 370.50,401.21 370.61,401.30 370.72,401.40 370.83,401.50 370.94,401.60 371.05,401.71 371.16,401.83 371.27,401.94 371.38,402.06 371.49,402.19 371.60,402.31 371.71,402.45 371.82,402.58 371.93,402.72 372.04,402.86 372.15,403.01 372.26,403.15 372.37,403.31 372.48,403.46 372.59,403.62 372.70,403.78 372.81,403.95 372.92,404.12 373.03,404.29 373.14,404.46 373.25,404.64 373.36,404.82 373.47,405.00 373.58,405.18 373.69,405.37 373.80,405.56 373.91,405.75 374.02,405.94 374.13,406.14 374.24,406.34 374.35,406.54 374.46,406.74 374.57,406.95 374.68,407.16 374.79,407.37 374.90,407.58 375.01,407.79 375.11,408.01 375.22,408.22 375.33,408.44 375.44,408.66 375.55,408.88 375.66,409.10 375.77,409.33 375.88,409.55 375.99,409.78 376.10,410.00 376.21,410.23 376.32,410.46 376.43,410.69 376.54,410.92 376.65,411.16 376.76,411.39 376.87,411.62 376.98,411.86 377.09,412.09 377.20,412.33 377.31,412.56 377.42,412.80 377.53,413.04 377.64,413.28 377.75,413.51 377.86,413.75 377.97,413.99 378.08,414.23 378.19,414.47 378.30,414.70 378.41,414.94 378.52,415.18 378.63,415.42 378.74,415.66 378.85,415.90 378.96,416.13 379.07,416.37 379.18,416.61 379.29,416.84 379.40,417.08 379.51,417.31 379.62,417.55 379.73,417.78 379.84,418.02 379.95,418.25 380.05,418.48 380.16,418.71 380.27,418.94 380.38,419.17 380.49,419.40 380.60,419.63 380.71,419.86 380.82,420.08 380.93,420.31 381.04,420.53 381.15,420.76 381.26,420.98 381.37,421.20 381.48,421.42 381.59,421.64 381.70,421.85 381.81,422.07 381.92,422.28 382.03,422.50 382.14,422.71 382.25,422.92 382.36,423.13 382.47,423.33 382.58,423.54 382.69,423.74 382.80,423.95 382.91,424.15 383.02,424.35 383.13,424.55 383.24,424.74 383.35,424.94 383.46,425.13 383.57,425.32 383.68,425.51 383.79,425.70 383.90,425.89 384.01,426.07 384.12,426.26 384.23,426.44 384.34,426.62 384.45,426.80 384.56,426.97 384.67,427.15 384.78,427.32 384.89,427.49 384.99,427.66 385.10,427.83 385.21,427.99 385.32,428.15 385.43,428.32 385.54,428.47 385.65,428.63 385.76,428.79 385.87,428.94 385.98,429.09 386.09,429.24 386.20,429.39 386.31,429.54 386.42,429.68 386.53,429.83 386.64,429.97 386.75,430.11 386.86,430.24 386.97,430.38 387.08,430.51 387.19,430.64 387.30,430.77 387.41,430.90 387.52,431.03 387.63,431.15 387.74,431.27 387.85,431.39 387.96,431.51 388.07,431.63 388.18,431.74 388.29,431.85 388.40,431.96 388.51,432.07 388.62,432.18 388.73,432.28 388.84,432.39 388.95,432.49 389.06,432.59 389.17,432.69 389.28,432.78 389.39,432.88 389.50,432.97 389.61,433.06 389.72,433.15 389.83,433.24 389.93,433.32 390.04,433.41 390.15,433.49 390.26,433.57 390.37,433.65 390.48,433.73 390.59,433.80 390.70,433.88 390.81,433.95 390.92,434.02 391.03,434.09 391.14,434.16 391.25,434.22 391.36,434.29 391.47,434.35 391.58,434.41 391.69,434.47 391.80,434.53 391.91,434.59 392.02,434.64 392.13,434.69 392.24,434.75 392.35,434.80 392.46,434.85 392.57,434.90 392.68,434.94 392.79,434.99 392.90,435.03 393.01,435.08 393.12,435.12 393.23,435.16 393.34,435.20 393.45,435.23 393.56,435.27 393.67,435.31 393.78,435.34 393.89,435.37 394.00,435.40 394.11,435.43 394.22,435.46 394.33,435.49 394.44,435.52 394.55,435.55 394.66,435.57 394.77,435.59 394.87,435.62 394.98,435.64 395.09,435.66 395.20,435.68 395.31,435.70 395.42,435.71 395.53,435.73 395.64,435.75 395.75,435.76 395.86,435.78 395.97,435.79 396.08,435.80 396.19,435.81 396.30,435.82 396.41,435.83 396.52,435.84 396.63,435.85 396.74,435.86 396.85,435.86 396.96,435.87 397.07,435.87 397.18,435.88 397.29,435.88 397.40,435.89 397.51,435.89 397.62,435.89 397.73,435.89 397.84,435.89 397.95,435.89 398.06,435.89 398.17,435.89 398.28,435.89 398.39,435.89 398.50,435.88 398.61,435.88 398.72,435.87 398.83,435.87 398.94,435.87 399.05,435.86 399.16,435.85 399.27,435.85 399.38,435.84 399.49,435.83 399.60,435.83 399.71,435.82 399.81,435.81 399.92,435.80 400.03,435.79 400.14,435.78 400.25,435.78 400.36,435.77 400.47,435.76 400.58,435.74 400.69,435.73 400.80,435.72 400.91,435.71 401.02,435.70 401.13,435.69 401.24,435.68 401.35,435.67 401.46,435.65 401.57,435.64 401.68,435.63 401.79,435.62 401.90,435.60 402.01,435.59 402.12,435.58 402.23,435.57 402.34,435.55 402.45,435.54 402.56,435.53 402.67,435.51 402.78,435.50 402.89,435.49 403.00,435.47 403.11,435.46 403.22,435.45 403.33,435.43 403.44,435.42 403.55,435.41 403.66,435.39 403.77,435.38 403.88,435.37 403.99,435.35 404.10,435.34 404.21,435.33 404.32,435.31 404.43,435.30 404.54,435.29 404.65,435.28 404.75,435.26 404.86,435.25 404.97,435.24 405.08,435.23 405.19,435.21 405.30,435.20 405.41,435.19 405.52,435.18 405.63,435.17 405.74,435.16 405.85,435.14 405.96,435.13 406.07,435.12 406.18,435.11 406.29,435.10 406.40,435.09 406.51,435.08 406.62,435.07 406.73,435.06 406.84,435.05 406.95,435.04 407.06,435.03 407.17,435.02 407.28,435.02 407.39,435.01 407.50,435.00 407.61,434.99 407.72,434.98 407.83,434.98 407.94,434.97 408.05,434.96 408.16,434.96 408.27,434.95 408.38,434.95 408.49,434.94 408.60,434.93 408.71,434.93 408.82,434.92 408.93,434.92 409.04,434.92 409.15,434.91 409.26,434.91 409.37,434.90 409.48,434.90 409.59,434.90 409.69,434.90 409.80,434.89 409.91,434.89 410.02,434.89 410.13,434.89 410.24,434.89 410.35,434.89 410.46,434.89 410.57,434.89 410.68,434.89 410.79,434.89 410.90,434.89 411.01,434.89 411.12,434.89 411.23,434.89 411.34,434.89 411.45,434.90 411.56,434.90 411.67,434.90 411.78,434.91 411.89,434.91 412.00,434.91 412.11,434.92 412.22,434.92 412.33,434.93 412.44,434.93 412.55,434.94 412.66,434.94 412.77,434.95 412.88,434.95 412.99,434.96 413.10,434.97 413.21,434.97 413.32,434.98 413.43,434.99 413.54,434.99 413.65,435.00 413.76,435.01 413.87,435.02 413.98,435.03 414.09,435.04 414.20,435.05 414.31,435.05 414.42,435.06 414.53,435.07 414.63,435.08 414.74,435.09 414.85,435.10 414.96,435.11 415.07,435.13 415.18,435.14 415.29,435.15 415.40,435.16 415.51,435.17 415.62,435.18 415.73,435.19 415.84,435.21 415.95,435.22 416.06,435.23 416.17,435.24 416.28,435.25 416.39,435.27 416.50,435.28 416.61,435.29 416.72,435.31 416.83,435.32 416.94,435.33 417.05,435.34 417.16,435.36 417.27,435.37 417.38,435.38 417.49,435.40 417.60,435.41 417.71,435.42 417.82,435.44 417.93,435.45 418.04,435.46 418.15,435.48 418.26,435.49 418.37,435.50 418.48,435.52 418.59,435.53 418.70,435.54 418.81,435.56 418.92,435.57 419.03,435.58 419.14,435.60 419.25,435.61 419.36,435.62 419.47,435.63 419.57,435.65 419.68,435.66 419.79,435.67 419.90,435.68 420.01,435.69 420.12,435.70 420.23,435.72 420.34,435.73 420.45,435.74 420.56,435.75 420.67,435.76 420.78,435.77 420.89,435.78 421.00,435.79 421.11,435.80 421.22,435.81 421.33,435.81 421.44,435.82 421.55,435.83 421.66,435.84 421.77,435.84 421.88,435.85 421.99,435.86 422.10,435.86 422.21,435.87 422.32,435.87 422.43,435.88 422.54,435.88 422.65,435.88 422.76,435.89 422.87,435.89 422.98,435.89 423.09,435.89 423.20,435.89 423.31,435.89 423.42,435.89 423.53,435.89 423.64,435.89 423.75,435.89 423.86,435.88 423.97,435.88 424.08,435.87 424.19,435.87 424.30,435.86 424.40,435.86 424.51,435.85 424.62,435.84 424.73,435.83 424.84,435.82 424.95,435.81 425.06,435.80 425.17,435.78 425.28,435.77 425.39,435.76 425.50,435.74 425.61,435.73 425.72,435.71 425.83,435.69 425.94,435.67 426.05,435.65 426.16,435.63 426.27,435.61 426.38,435.59 426.49,435.56 426.60,435.54 426.71,435.51 426.82,435.48 426.93,435.45 427.04,435.42 427.15,435.39 427.26,435.36 427.37,435.33 427.48,435.29 427.59,435.26 427.70,435.22 427.81,435.18 427.92,435.14 428.03,435.10 428.14,435.06 428.25,435.02 428.36,434.97 428.47,434.93 428.58,434.88 428.69,434.83 428.80,434.78 428.91,434.73 429.02,434.68 429.13,434.62 429.24,434.57 429.34,434.51 429.45,434.45 429.56,434.39 429.67,434.33 429.78,434.27 429.89,434.20 430.00,434.13 430.11,434.07 430.22,434.00 430.33,433.92 430.44,433.85 430.55,433.78 430.66,433.70 430.77,433.62 430.88,433.54 430.99,433.46 431.10,433.38 431.21,433.30 431.32,433.21 431.43,433.12 431.54,433.03 431.65,432.94 431.76,432.85 431.87,432.75 431.98,432.65 432.09,432.56 432.20,432.46 432.31,432.35 432.42,432.25 432.53,432.14 432.64,432.04 432.75,431.93 432.86,431.82 432.97,431.70 433.08,431.59 433.19,431.47 433.30,431.35 433.41,431.23 433.52,431.11 433.63,430.98 433.74,430.86 433.85,430.73 433.96,430.60 434.07,430.47 434.18,430.33 434.28,430.20 434.39,430.06 434.50,429.92 434.61,429.78 434.72,429.64 434.83,429.49 434.94,429.34 435.05,429.20 435.16,429.04 435.27,428.89 435.38,428.74 435.49,428.58 435.60,428.42 435.71,428.26 435.82,428.10 435.93,427.94 436.04,427.77 436.15,427.60 436.26,427.43 436.37,427.26 436.48,427.09 436.59,426.91 436.70,426.74 436.81,426.56 436.92,426.38 437.03,426.20 437.14,426.01 437.25,425.83 437.36,425.64 437.47,425.45 437.58,425.26 437.69,425.07 437.80,424.87 437.91,424.68 438.02,424.48 438.13,424.28 438.24,424.08 438.35,423.88 438.46,423.68 438.57,423.47 438.68,423.27 438.79,423.06 438.90,422.85 439.01,422.64 439.12,422.43 439.22,422.21 439.33,422.00 439.44,421.78 439.55,421.56 439.66,421.34 439.77,421.13 439.88,420.90 439.99,420.68 440.10,420.46 440.21,420.23 440.32,420.01 440.43,419.78 440.54,419.56 440.65,419.33 440.76,419.10 440.87,418.87 440.98,418.64 441.09,418.41 441.20,418.17 441.31,417.94 441.42,417.71 441.53,417.47 441.64,417.24 441.75,417.00 441.86,416.76 441.97,416.53 442.08,416.29 442.19,416.05 442.30,415.82 442.41,415.58 442.52,415.34 442.63,415.10 442.74,414.86 442.85,414.63 442.96,414.39 443.07,414.15 443.18,413.91 443.29,413.67 443.40,413.44 443.51,413.20 443.62,412.96 443.73,412.72 443.84,412.49 443.95,412.25 444.06,412.02 444.16,411.78 444.27,411.55 444.38,411.31 444.49,411.08 444.60,410.85 444.71,410.62 444.82,410.39 444.93,410.16 445.04,409.93 445.15,409.70 445.26,409.48 445.37,409.25 445.48,409.03 445.59,408.81 445.70,408.59 445.81,408.37 445.92,408.15 446.03,407.93 446.14,407.72 446.25,407.51 446.36,407.30 446.47,407.09 446.58,406.88 446.69,406.68 446.80,406.48 446.91,406.27 447.02,406.08 447.13,405.88 447.24,405.69 447.35,405.50 447.46,405.31 447.57,405.12 447.68,404.94 447.79,404.76 447.90,404.58 448.01,404.40 448.12,404.23 448.23,404.06 448.34,403.89 448.45,403.73 448.56,403.57 448.67,403.41 448.78,403.26 448.89,403.11 449.00,402.96 449.10,402.81 449.21,402.67 449.32,402.54 449.43,402.40 449.54,402.27 449.65,402.14 449.76,402.02 449.87,401.90 449.98,401.79 450.09,401.68 450.20,401.57 450.31,401.47 450.42,401.37 450.53,401.27 450.64,401.18 450.75,401.10 450.86,401.01 450.97,400.93 451.08,400.86 451.19,400.79 451.30,400.73 451.41,400.67 451.52,400.61 451.63,400.56 451.74,400.51 451.85,400.47 451.96,400.43 452.07,400.40 452.18,400.37 452.29,400.35 452.40,400.33 452.51,400.32 452.62,400.31 452.73,400.31 452.84,400.31 452.95,400.32 453.06,400.33 453.17,400.34 453.28,400.37 453.39,400.39 453.50,400.42 453.61,400.46 453.72,400.50 453.83,400.55 453.94,400.60 454.04,400.66 454.15,400.72 454.26,400.79 454.37,400.86 454.48,400.94 454.59,401.02 454.70,401.11 454.81,401.21 454.92,401.31 455.03,401.41 455.14,401.52 455.25,401.63 455.36,401.75 455.47,401.88 455.58,402.01 455.69,402.14 455.80,402.28 455.91,402.42 456.02,402.57 456.13,402.73 456.24,402.89 456.35,403.05 456.46,403.22 456.57,403.40 456.68,403.58 456.79,403.76 456.90,403.95 457.01,404.14 457.12,404.34 457.23,404.54 457.34,404.75 457.45,404.96 457.56,405.18 457.67,405.40 457.78,405.62 457.89,405.85 458.00,406.09 458.11,406.32 458.22,406.57 458.33,406.81 458.44,407.06 458.55,407.32 458.66,407.57 458.77,407.83 458.88,408.10 458.98,408.37 459.09,408.64 459.20,408.92 459.31,409.20 459.42,409.48 459.53,409.76 459.64,410.05 459.75,410.35 459.86,410.64 459.97,410.94 460.08,411.24 460.19,411.54 460.30,411.85 460.41,412.16 460.52,412.47 460.63,412.78 460.74,413.10 460.85,413.41 460.96,413.73 461.07,414.05 461.18,414.38 461.29,414.70 461.40,415.03 461.51,415.35 461.62,415.68 461.73,416.01 461.84,416.34 461.95,416.68 462.06,417.01 462.17,417.34 462.28,417.68 462.39,418.01 462.50,418.35 462.61,418.68 462.72,419.02 462.83,419.35 462.94,419.69 463.05,420.02 463.16,420.36 463.27,420.69 463.38,421.03 463.49,421.36 463.60,421.69 463.71,422.02 463.82,422.35 463.92,422.68 464.03,423.01 464.14,423.34 464.25,423.66 464.36,423.98 464.47,424.30 464.58,424.62 464.69,424.94 464.80,425.25 464.91,425.56 465.02,425.87 465.13,426.18 465.24,426.48 465.35,426.79 465.46,427.08 465.57,427.38 465.68,427.67 465.79,427.96 465.90,428.25 466.01,428.53 466.12,428.80 466.23,429.08 466.34,429.35 466.45,429.61 466.56,429.88 466.67,430.13 466.78,430.39 466.89,430.64 467.00,430.88 467.11,431.12 467.22,431.35 467.33,431.58 467.44,431.81 467.55,432.03 467.66,432.24 467.77,432.45 467.88,432.66 467.99,432.85 468.10,433.05 468.21,433.23 468.32,433.41 468.43,433.59 468.54,433.76 468.65,433.92 468.76,434.08 468.86,434.23 468.97,434.38 469.08,434.52 469.19,434.65 469.30,434.77 469.41,434.89 469.52,435.01 469.63,435.11 469.74,435.21 469.85,435.31 469.96,435.39 470.07,435.47 470.18,435.55 470.29,435.61 470.40,435.67 470.51,435.72 470.62,435.77 470.73,435.81 470.84,435.84 470.95,435.86 471.06,435.88 471.17,435.89 471.28,435.89 471.39,435.89 471.50,435.88 471.61,435.86 471.72,435.83 471.83,435.80 471.94,435.76 472.05,435.71 472.16,435.66 472.27,435.60 472.38,435.53 472.49,435.45 472.60,435.37 472.71,435.28 472.82,435.18 472.93,435.08 473.04,434.97 473.15,434.85 473.26,434.73 473.37,434.60 473.48,434.46 473.59,434.32 473.70,434.16 473.80,434.01 473.91,433.84 474.02,433.67 474.13,433.50 474.24,433.31 474.35,433.12 474.46,432.93 474.57,432.72 474.68,432.52 474.79,432.30 474.90,432.08 475.01,431.86 475.12,431.63 475.23,431.39 475.34,431.15 475.45,430.90 475.56,430.65 475.67,430.39 475.78,430.12 475.89,429.86 476.00,429.58 476.11,429.30 476.22,429.02 476.33,428.73 476.44,428.44 476.55,428.15 476.66,427.85 476.77,427.54 476.88,427.23 476.99,426.92 477.10,426.61 477.21,426.29 477.32,425.96 477.43,425.64 477.54,425.31 477.65,424.98 477.76,424.64 477.87,424.30 477.98,423.96 478.09,423.62 478.20,423.27 478.31,422.93 478.42,422.58 478.53,422.23 478.64,421.87 478.74,421.52 478.85,421.16 478.96,420.80 479.07,420.45 479.18,420.09 479.29,419.73 479.40,419.37 479.51,419.00 479.62,418.64 479.73,418.28 479.84,417.92 479.95,417.56 480.06,417.19 480.17,416.83 480.28,416.47 480.39,416.11 480.50,415.75 480.61,415.39 480.72,415.04 480.83,414.68 480.94,414.33 481.05,413.97 481.16,413.62 481.27,413.27 481.38,412.92 481.49,412.58 481.60,412.24 481.71,411.90 481.82,411.56 481.93,411.22 482.04,410.89 482.15,410.56 482.26,410.24 482.37,409.91 482.48,409.60 482.59,409.28 482.70,408.97 482.81,408.66 482.92,408.36 483.03,408.06 483.14,407.76 483.25,407.47 483.36,407.18 483.47,406.90 483.58,406.62 483.68,406.35 483.79,406.08 483.90,405.82 484.01,405.56 484.12,405.30 484.23,405.06 484.34,404.81 484.45,404.58 484.56,404.35 484.67,404.12 484.78,403.90 484.89,403.69 485.00,403.48 485.11,403.28 485.22,403.08 485.33,402.89 485.44,402.71 485.55,402.53 485.66,402.36 485.77,402.20 485.88,402.04 485.99,401.89 486.10,401.75 486.21,401.61 486.32,401.48 486.43,401.35 486.54,401.24 486.65,401.13 486.76,401.02 486.87,400.93 486.98,400.84 487.09,400.75 487.20,400.68 487.31,400.61 487.42,400.55 487.53,400.49 487.64,400.44 487.75,400.40 487.86,400.37 487.97,400.34 488.08,400.33 488.19,400.31 488.30,400.31 488.41,400.31 488.52,400.32 488.62,400.34 488.73,400.36 488.84,400.39 488.95,400.43 489.06,400.47 489.17,400.52 489.28,400.58 489.39,400.65 489.50,400.72 489.61,400.80 489.72,400.88 489.83,400.97 489.94,401.07 490.05,401.18 490.16,401.29 490.27,401.41 490.38,401.53 490.49,401.66 490.60,401.80 490.71,401.95 490.82,402.10 490.93,402.25 491.04,402.41 491.15,402.58 491.26,402.76 491.37,402.94 491.48,403.12 491.59,403.31 491.70,403.51 491.81,403.71 491.92,403.92 492.03,404.13 492.14,404.35 492.25,404.57 492.36,404.80 492.47,405.03 492.58,405.27 492.69,405.51 492.80,405.76 492.91,406.01 493.02,406.26 493.13,406.52 493.24,406.79 493.35,407.06 493.46,407.33 493.56,407.60 493.67,407.88 493.78,408.17 493.89,408.45 494.00,408.74 494.11,409.04 494.22,409.33 494.33,409.63 494.44,409.93 494.55,410.24 494.66,410.54 494.77,410.85 494.88,411.17 494.99,411.48 495.10,411.80 495.21,412.12 495.32,412.44 495.43,412.76 495.54,413.08 495.65,413.41 495.76,413.73 495.87,414.06 495.98,414.39 496.09,414.72 496.20,415.05 496.31,415.38 496.42,415.72 496.53,416.05 496.64,416.38 496.75,416.72 496.86,417.05 496.97,417.38 497.08,417.72 497.19,418.05 497.30,418.38 497.41,418.72 497.52,419.05 497.63,419.38 497.74,419.71 497.85,420.04 497.96,420.37 498.07,420.70 498.18,421.02 498.29,421.35 498.39,421.67 498.50,421.99 498.61,422.31 498.72,422.63 498.83,422.95 498.94,423.26 499.05,423.57 499.16,423.88 499.27,424.19 499.38,424.50 499.49,424.80 499.60,425.10 499.71,425.40 499.82,425.69 499.93,425.98 500.04,426.27 500.15,426.56 500.26,426.84 500.37,427.12 500.48,427.39 500.59,427.67 500.70,427.94 500.81,428.20 500.92,428.46 501.03,428.72 501.14,428.98 501.25,429.23 501.36,429.47 501.47,429.72 501.58,429.95 501.69,430.19 501.80,430.42 501.91,430.65 502.02,430.87 502.13,431.09 502.24,431.30 502.35,431.51 502.46,431.71 502.57,431.91 502.68,432.11 502.79,432.30 502.90,432.48 503.01,432.66 503.12,432.84 503.23,433.01 503.33,433.18 503.44,433.34 503.55,433.50 503.66,433.65 503.77,433.80 503.88,433.94 503.99,434.08 504.10,434.21 504.21,434.34 504.32,434.46 504.43,434.58 504.54,434.69 504.65,434.80 504.76,434.90 504.87,435.00 504.98,435.09 505.09,435.18 505.20,435.26 505.31,435.34 505.42,435.41 505.53,435.48 505.64,435.54 505.75,435.60 505.86,435.65 505.97,435.70 506.08,435.74 506.19,435.77 506.30,435.81 506.41,435.83 506.52,435.85 506.63,435.87 506.74,435.88 506.85,435.89 506.96,435.89 507.07,435.89 507.18,435.88 507.29,435.87 507.40,435.85 507.51,435.83 507.62,435.80 507.73,435.77 507.84,435.74 507.95,435.70 508.06,435.65 508.17,435.60 508.27,435.55 508.38,435.49 508.49,435.43 508.60,435.36 508.71,435.29 508.82,435.21 508.93,435.13 509.04,435.05 509.15,434.96 509.26,434.87 509.37,434.77 509.48,434.67 509.59,434.57 509.70,434.46 509.81,434.35 509.92,434.23 510.03,434.11 510.14,433.99 510.25,433.86 510.36,433.73 510.47,433.60 510.58,433.46 510.69,433.32 510.80,433.18 510.91,433.03 511.02,432.88 511.13,432.73 511.24,432.57 511.35,432.41 511.46,432.25 511.57,432.08 511.68,431.91 511.79,431.74 511.90,431.57 512.01,431.39 512.12,431.21 512.23,431.03 512.34,430.85 512.45,430.66 512.56,430.47 512.67,430.28 512.78,430.09 512.89,429.89 513.00,429.69 513.11,429.50 513.21,429.29 513.32,429.09 513.43,428.88 513.54,428.68 513.65,428.47 513.76,428.26 513.87,428.05 513.98,427.83 514.09,427.62 514.20,427.40 514.31,427.18 514.42,426.96 514.53,426.74 514.64,426.52 514.75,426.30 514.86,426.07 514.97,425.85 515.08,425.62 515.19,425.40 515.30,425.17 515.41,424.94 515.52,424.71 515.63,424.48 515.74,424.25 515.85,424.02 515.96,423.79 516.07,423.56 516.18,423.33 516.29,423.09 516.40,422.86 516.51,422.63 516.62,422.40 516.73,422.16 516.84,421.93 516.95,421.70 517.06,421.46 517.17,421.23 517.28,421.00 517.39,420.76 517.50,420.53 517.61,420.30 517.72,420.07 517.83,419.83 517.94,419.60 518.05,419.37 518.15,419.14 518.26,418.91 518.37,418.68 518.48,418.45 518.59,418.22 518.70,418.00 518.81,417.77 518.92,417.54 519.03,417.32 519.14,417.09 519.25,416.87 519.36,416.65 519.47,416.43 519.58,416.20 519.69,415.99 519.80,415.77 519.91,415.55 520.02,415.33 520.13,415.12 520.24,414.90 520.35,414.69 520.46,414.48 520.57,414.27 520.68,414.06 520.79,413.85 520.90,413.64 521.01,413.44 521.12,413.23 521.23,413.03 521.34,412.83 521.45,412.63 521.56,412.43 521.67,412.24 521.78,412.04 521.89,411.85 522.00,411.65 522.11,411.46 522.22,411.27 522.33,411.09 522.44,410.90 522.55,410.72 522.66,410.53 522.77,410.35 522.88,410.17 522.99,410.00 523.09,409.82 523.20,409.65 523.31,409.47 523.42,409.30 523.53,409.13 523.64,408.97 523.75,408.80 523.86,408.64 523.97,408.47 524.08,408.31 524.19,408.15 524.30,408.00 524.41,407.84 524.52,407.69 524.63,407.54 524.74,407.39 524.85,407.24 524.96,407.09 525.07,406.95 525.18,406.81 525.29,406.67 525.40,406.53 525.51,406.39 525.62,406.26 525.73,406.12 525.84,405.99 525.95,405.86 526.06,405.73 526.17,405.61 526.28,405.48 526.39,405.36 526.50,405.24 526.61,405.12 526.72,405.00 526.83,404.89 526.94,404.77 527.05,404.66 527.16,404.55 527.27,404.44 527.38,404.33 527.49,404.23 527.60,404.12 527.71,404.02 527.82,403.92 527.93,403.82 528.03,403.73 528.14,403.63 528.25,403.54 528.36,403.45 528.47,403.36 528.58,403.27 528.69,403.18 528.80,403.10 528.91,403.01 529.02,402.93 529.13,402.85 529.24,402.77 529.35,402.70 529.46,402.62 529.57,402.55 529.68,402.47 529.79,402.40 529.90,402.33 530.01,402.26 530.12,402.20 530.23,402.13 530.34,402.07 530.45,402.01" fill="none" stroke="#EDB120" stroke-width="3.6" stroke-linejoin="round"/>
<line x1="91.45" y1="383.53" x2="530.45" y2="383.53" stroke="#000" stroke-width="3" stroke-dasharray="10.1 10"/>
<line x1="91.45" y1="452.67" x2="530.45" y2="452.67" stroke="#000" stroke-width="3" stroke-dasharray="10.1 10"/>
<rect x="82.5" y="357.1" width="448.0" height="122.00" fill="none" stroke="#262626" stroke-width="1.1"/>
<line x1="91.45" y1="479.1" x2="91.45" y2="474.20000000000005" stroke="#262626" stroke-width="1"/>
<line x1="91.45" y1="357.1" x2="91.45" y2="362.0" stroke="#262626" stroke-width="1"/>
<line x1="179.25" y1="479.1" x2="179.25" y2="474.20000000000005" stroke="#262626" stroke-width="1"/>
<line x1="179.25" y1="357.1" x2="179.25" y2="362.0" stroke="#262626" stroke-width="1"/>
<line x1="267.05" y1="479.1" x2="267.05" y2="474.20000000000005" stroke="#262626" stroke-width="1"/>
<line x1="267.05" y1="357.1" x2="267.05" y2="362.0" stroke="#262626" stroke-width="1"/>
<line x1="354.85" y1="479.1" x2="354.85" y2="474.20000000000005" stroke="#262626" stroke-width="1"/>
<line x1="354.85" y1="357.1" x2="354.85" y2="362.0" stroke="#262626" stroke-width="1"/>
<line x1="442.65" y1="479.1" x2="442.65" y2="474.20000000000005" stroke="#262626" stroke-width="1"/>
<line x1="442.65" y1="357.1" x2="442.65" y2="362.0" stroke="#262626" stroke-width="1"/>
<line x1="530.45" y1="479.1" x2="530.45" y2="474.20000000000005" stroke="#262626" stroke-width="1"/>
<line x1="530.45" y1="357.1" x2="530.45" y2="362.0" stroke="#262626" stroke-width="1"/>
<line x1="82.5" y1="452.67" x2="87.4" y2="452.67" stroke="#262626" stroke-width="1"/>
<line x1="530.5" y1="452.67" x2="525.6" y2="452.67" stroke="#262626" stroke-width="1"/>
<line x1="82.5" y1="418.10" x2="87.4" y2="418.10" stroke="#262626" stroke-width="1"/>
<line x1="530.5" y1="418.10" x2="525.6" y2="418.10" stroke="#262626" stroke-width="1"/>
<line x1="82.5" y1="383.53" x2="87.4" y2="383.53" stroke="#262626" stroke-width="1"/>
<line x1="530.5" y1="383.53" x2="525.6" y2="383.53" stroke="#262626" stroke-width="1"/>
<text x="91.45" y="503.50" class="tk" text-anchor="middle">0</text>
<text x="179.25" y="503.50" class="tk" text-anchor="middle">2</text>
<text x="267.05" y="503.50" class="tk" text-anchor="middle">4</text>
<text x="354.85" y="503.50" class="tk" text-anchor="middle">6</text>
<text x="442.65" y="503.50" class="tk" text-anchor="middle">8</text>
<text x="530.45" y="503.50" class="tk" text-anchor="middle">10</text>
<text x="75.6" y="459.67" class="tk" text-anchor="end">-6.8</text>
<text x="75.6" y="425.10" class="tk" text-anchor="end">0</text>
<text x="75.6" y="390.53" class="tk" text-anchor="end">6.8</text>
<g class="lb">
<g transform="translate(20.84,129.89) rotate(-90) scale(0.9175,1)" ><text x="0.00" y="0" font-family='"Liberation Serif",serif' font-style="normal" font-weight="normal" font-size="19.521" fill="#000">(</text></g>
<g transform="translate(20.00,124.16) rotate(-90) scale(0.9382,1)" ><text x="0.00" y="0" font-family='"Liberation Serif",serif' font-style="normal" font-weight="normal" font-size="17" fill="#000">a</text></g>
<g transform="translate(20.84,116.08) rotate(-90) scale(0.9175,1)" ><text x="0.00" y="0" font-family='"Liberation Serif",serif' font-style="normal" font-weight="normal" font-size="19.521" fill="#000">)</text></g>
<g transform="translate(40.00,131.19) rotate(-90) scale(1.0497,1)" ><text x="0.00" y="0" font-family='"Liberation Serif",serif' font-style="normal" font-weight="normal" font-size="17" fill="#000">Speed</text></g>
<g transform="translate(40.79,81.84) rotate(-90) scale(1.0116,1)" ><text x="0.00" y="0" font-family='"Liberation Serif",serif' font-style="normal" font-weight="normal" font-size="18.859" fill="#000">(</text></g>
<g transform="translate(40.00,74.91) rotate(-90) scale(1.1822,1)" ><text x="0.00" y="0" font-family='"Liberation Serif",serif' font-style="italic" font-weight="normal" font-size="17" fill="#000">rad/s</text></g>
<g transform="translate(40.79,33.54) rotate(-90) scale(0.8878,1)" ><text x="0.00" y="0" font-family='"Liberation Serif",serif' font-style="normal" font-weight="normal" font-size="18.859" fill="#000">)</text></g>
<g transform="translate(20.84,283.09) rotate(-90) scale(0.9175,1)" ><text x="0.00" y="0" font-family='"Liberation Serif",serif' font-style="normal" font-weight="normal" font-size="19.521" fill="#000">(</text></g>
<g transform="translate(20.00,276.80) rotate(-90) scale(0.9296,1)" ><text x="0.00" y="0" font-family='"Liberation Serif",serif' font-style="normal" font-weight="normal" font-size="17" fill="#000">b</text></g>
<g transform="translate(20.84,268.78) rotate(-90) scale(0.9175,1)" ><text x="0.00" y="0" font-family='"Liberation Serif",serif' font-style="normal" font-weight="normal" font-size="19.521" fill="#000">)</text></g>
<g transform="translate(40.50,284.05) rotate(-90) scale(0.9088,1)" ><text x="0.00" y="0" font-family='"Liberation Serif",serif' font-style="normal" font-weight="normal" font-size="17" fill="#000">Flux</text></g>
<g transform="translate(40.86,249.97) rotate(-90) scale(1.0717,1)" ><text x="0.00" y="0" font-family='"Liberation Serif",serif' font-style="normal" font-weight="normal" font-size="18.528" fill="#000">(</text></g>
<g transform="translate(40.50,244.78) rotate(-90) scale(1.1415,1)" ><text x="0.00" y="0" font-family='"Liberation Serif",serif' font-style="italic" font-weight="normal" font-size="17" fill="#000">Wb</text></g>
<g transform="translate(40.86,218.74) rotate(-90) scale(0.9036,1)" ><text x="0.00" y="0" font-family='"Liberation Serif",serif' font-style="normal" font-weight="normal" font-size="18.528" fill="#000">)</text></g>
<g transform="translate(20.84,461.29) rotate(-90) scale(0.9175,1)" ><text x="0.00" y="0" font-family='"Liberation Serif",serif' font-style="normal" font-weight="normal" font-size="19.521" fill="#000">(</text></g>
<g transform="translate(20.00,455.63) rotate(-90) scale(0.9725,1)" ><text x="0.00" y="0" font-family='"Liberation Serif",serif' font-style="normal" font-weight="normal" font-size="17" fill="#000">c</text></g>
<g transform="translate(20.84,448.78) rotate(-90) scale(0.9175,1)" ><text x="0.00" y="0" font-family='"Liberation Serif",serif' font-style="normal" font-weight="normal" font-size="19.521" fill="#000">)</text></g>
<g transform="translate(40.50,462.57) rotate(-90) scale(1.1050,1)" ><text x="0.00" y="0" font-family='"Liberation Serif",serif' font-style="normal" font-weight="normal" font-size="17" fill="#000">Current</text></g>
<g transform="translate(40.74,398.96) rotate(-90) scale(0.9973,1)" ><text x="0.00" y="0" font-family='"Liberation Serif",serif' font-style="normal" font-weight="normal" font-size="19.521" fill="#000">(</text></g>
<g transform="translate(40.50,391.74) rotate(-90) scale(1.0288,1)" ><text x="0.00" y="0" font-family='"Liberation Serif",serif' font-style="italic" font-weight="normal" font-size="17" fill="#000">A</text></g>
<g transform="translate(40.74,381.11) rotate(-90) scale(0.9773,1)" ><text x="0.00" y="0" font-family='"Liberation Serif",serif' font-style="normal" font-weight="normal" font-size="19.521" fill="#000">)</text></g>
<g transform="translate(274.47,523.40) scale(1.0721,1)" ><text x="0.00" y="0" font-family='"Liberation Serif",serif' font-style="normal" font-weight="normal" font-size="17" fill="#000">Time</text></g>
<g transform="translate(318.00,523.51) scale(0.9760,1)" ><text x="0.00" y="0" font-family='"Liberation Serif",serif' font-style="normal" font-weight="normal" font-size="18.749" fill="#000">(</text></g>
<g transform="translate(325.21,523.40) scale(0.9163,1)" ><text x="0.00" y="0" font-family='"Liberation Serif",serif' font-style="italic" font-weight="normal" font-size="17" fill="#000">s</text></g>
<g transform="translate(332.45,523.51) scale(0.9137,1)" ><text x="0.00" y="0" font-family='"Liberation Serif",serif' font-style="normal" font-weight="normal" font-size="18.749" fill="#000">)</text></g>
</g>
<g class="th">
<g transform="translate(355.20,35.60) scale(0.9750,1)" ><text x="0.00" y="0" font-family='"Liberation Serif",serif' font-style="normal" font-weight="bold" font-size="18.2" fill="#000">RMSE=</text></g>
<g transform="translate(421.87,35.60) scale(0.9063,1)" ><text x="0.00" y="0" font-family='"Liberation Serif",serif' font-style="normal" font-weight="bold" font-size="18.2" fill="#000">0.166</text></g>
<g transform="translate(355.20,203.70) scale(0.9734,1)" ><text x="0.00" y="0" font-family='"Liberation Serif",serif' font-style="normal" font-weight="bold" font-size="18.2" fill="#000">RMSE=</text></g>
<g transform="translate(421.60,203.70) scale(0.9198,1)" ><text x="0.00" y="0" font-family='"Liberation Serif",serif' font-style="normal" font-weight="bold" font-size="18.2" fill="#000">2e-05</text></g>
</g>
<g transform="translate(462.81,35.60) scale(1.0366,1)" ><text x="0.00" y="0" font-family='"Liberation Serif",serif' font-style="italic" font-weight="bold" font-size="18.2" fill="#000">rad.s</text></g>
<g transform="translate(500.96,29.60) scale(1.1271,1)" ><text x="0.00" y="0" font-family='"Liberation Serif",serif' font-style="normal" font-weight="bold" font-size="12.5" fill="#000">−1</text></g>
<g transform="translate(462.31,203.70) scale(1.0261,1)" ><text x="0.00" y="0" font-family='"Liberation Serif",serif' font-style="italic" font-weight="bold" font-size="18.2" fill="#000">Wb</text></g>
<g class="th2">
<g transform="translate(295.95,65.11) scale(0.8609,1)" ><text x="0.00" y="0" font-family='"Liberation Serif",serif' font-style="italic" font-weight="bold" font-size="19.226" fill="#000">ω</text></g>
<g transform="translate(309.27,63.70) scale(1.0059,1)" ><text x="0.00" y="0" font-family='"Liberation Serif",serif' font-style="italic" font-weight="bold" font-size="16.129" fill="#000">r</text></g>
<g transform="translate(120.04,222.76) scale(0.7961,1)" ><text x="0.00" y="0" font-family='"Liberation Serif",serif' font-style="italic" font-weight="bold" font-size="23.206" fill="#000">ψ</text></g>
<g transform="translate(131.39,217.20) scale(0.8616,1)" ><text x="0.00" y="0" font-family='"Liberation Serif",serif' font-style="normal" font-weight="bold" font-size="16.978" fill="#000">*</text></g>
<g transform="translate(134.78,225.40) scale(0.9440,1)" ><text x="0.00" y="0" font-family='"Liberation Serif",serif' font-style="italic" font-weight="bold" font-size="16.342" fill="#000">r</text></g>
<g transform="translate(121.96,264.62) scale(0.9136,1)" ><text x="0.00" y="0" font-family='"Liberation Serif",serif' font-style="italic" font-weight="bold" font-size="22.469" fill="#000">ψ</text></g>
<g transform="translate(135.77,268.60) scale(1.1242,1)" ><text x="0.00" y="0" font-family='"Liberation Serif",serif' font-style="italic" font-weight="bold" font-size="14.432" fill="#000">r</text></g>
</g>
<g stroke="#000" stroke-width="1.3" fill="none" stroke-linecap="round">
<line x1="289" y1="63.3" x2="272.6" y2="69.4"/><polyline points="275.2,66 272.4,69.5 277.5,71.6"/>
<line x1="113.5" y1="223" x2="96.9" y2="229.1"/><polyline points="99.1,225.4 96.7,229.2 101.5,231.5"/>
<line x1="115" y1="260" x2="97" y2="260"/><polyline points="101,256.7 96.8,260 101,263.4"/>
</g>
</svg>
</body></html>
